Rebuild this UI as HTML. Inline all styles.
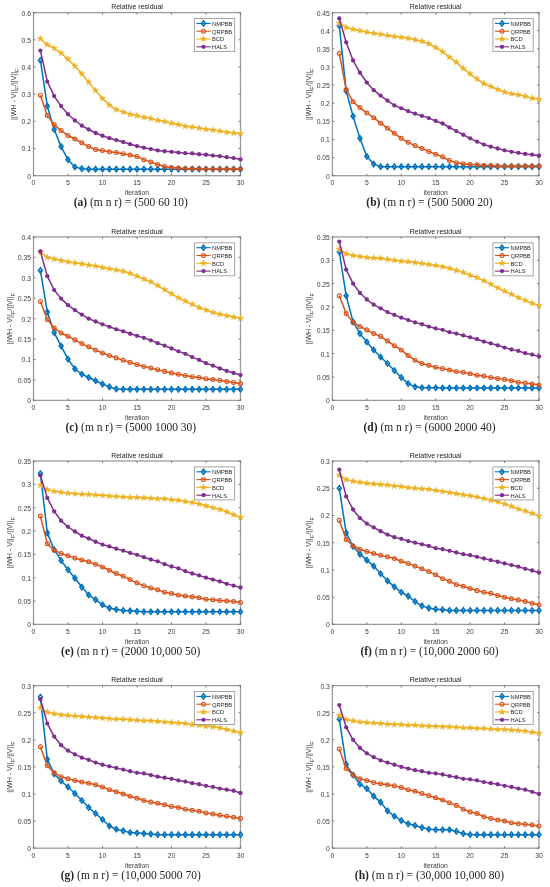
<!DOCTYPE html>
<html><head><meta charset="utf-8"><style>
html,body{margin:0;padding:0;background:#fff;}
body{width:550px;height:887px;overflow:hidden;}
svg{display:block;filter:blur(0.3px);}
.tk{font-family:"Liberation Sans",sans-serif;font-size:6.8px;fill:#3c3c3c;}
.tt{font-family:"Liberation Sans",sans-serif;font-size:7.0px;fill:#222;}
.lg{font-family:"Liberation Sans",sans-serif;font-size:5.75px;fill:#2a2a2a;}
.sub{font-size:6px;}
.yl{font-family:"Liberation Sans",sans-serif;font-size:7.1px;fill:#3a3a3a;}
.cap{font-family:"Liberation Serif",serif;font-size:11.5px;fill:#262626;}
</style></head><body>
<svg width="550" height="887" viewBox="0 0 550 887">
<rect x="33.5" y="12.6" width="207.00" height="163.10" fill="#fff" stroke="#9c9c9c" stroke-width="1.3"/>
<line x1="33.50" y1="175.7" x2="33.50" y2="173.7" stroke="#707070" stroke-width="0.9"/>
<line x1="33.50" y1="12.6" x2="33.50" y2="14.6" stroke="#707070" stroke-width="0.9"/>
<text x="33.50" y="185.40" class="tk" text-anchor="middle">0</text>
<line x1="68.00" y1="175.7" x2="68.00" y2="173.7" stroke="#707070" stroke-width="0.9"/>
<line x1="68.00" y1="12.6" x2="68.00" y2="14.6" stroke="#707070" stroke-width="0.9"/>
<text x="68.00" y="185.40" class="tk" text-anchor="middle">5</text>
<line x1="102.50" y1="175.7" x2="102.50" y2="173.7" stroke="#707070" stroke-width="0.9"/>
<line x1="102.50" y1="12.6" x2="102.50" y2="14.6" stroke="#707070" stroke-width="0.9"/>
<text x="102.50" y="185.40" class="tk" text-anchor="middle">10</text>
<line x1="137.00" y1="175.7" x2="137.00" y2="173.7" stroke="#707070" stroke-width="0.9"/>
<line x1="137.00" y1="12.6" x2="137.00" y2="14.6" stroke="#707070" stroke-width="0.9"/>
<text x="137.00" y="185.40" class="tk" text-anchor="middle">15</text>
<line x1="171.50" y1="175.7" x2="171.50" y2="173.7" stroke="#707070" stroke-width="0.9"/>
<line x1="171.50" y1="12.6" x2="171.50" y2="14.6" stroke="#707070" stroke-width="0.9"/>
<text x="171.50" y="185.40" class="tk" text-anchor="middle">20</text>
<line x1="206.00" y1="175.7" x2="206.00" y2="173.7" stroke="#707070" stroke-width="0.9"/>
<line x1="206.00" y1="12.6" x2="206.00" y2="14.6" stroke="#707070" stroke-width="0.9"/>
<text x="206.00" y="185.40" class="tk" text-anchor="middle">25</text>
<line x1="240.50" y1="175.7" x2="240.50" y2="173.7" stroke="#707070" stroke-width="0.9"/>
<line x1="240.50" y1="12.6" x2="240.50" y2="14.6" stroke="#707070" stroke-width="0.9"/>
<text x="240.50" y="185.40" class="tk" text-anchor="middle">30</text>
<line x1="33.5" y1="175.70" x2="35.5" y2="175.70" stroke="#707070" stroke-width="0.9"/>
<line x1="240.5" y1="175.70" x2="238.5" y2="175.70" stroke="#707070" stroke-width="0.9"/>
<text x="31.00" y="178.60" class="tk" text-anchor="end">0</text>
<line x1="33.5" y1="148.52" x2="35.5" y2="148.52" stroke="#707070" stroke-width="0.9"/>
<line x1="240.5" y1="148.52" x2="238.5" y2="148.52" stroke="#707070" stroke-width="0.9"/>
<text x="31.00" y="151.42" class="tk" text-anchor="end">0.1</text>
<line x1="33.5" y1="121.33" x2="35.5" y2="121.33" stroke="#707070" stroke-width="0.9"/>
<line x1="240.5" y1="121.33" x2="238.5" y2="121.33" stroke="#707070" stroke-width="0.9"/>
<text x="31.00" y="124.23" class="tk" text-anchor="end">0.2</text>
<line x1="33.5" y1="94.15" x2="35.5" y2="94.15" stroke="#707070" stroke-width="0.9"/>
<line x1="240.5" y1="94.15" x2="238.5" y2="94.15" stroke="#707070" stroke-width="0.9"/>
<text x="31.00" y="97.05" class="tk" text-anchor="end">0.3</text>
<line x1="33.5" y1="66.97" x2="35.5" y2="66.97" stroke="#707070" stroke-width="0.9"/>
<line x1="240.5" y1="66.97" x2="238.5" y2="66.97" stroke="#707070" stroke-width="0.9"/>
<text x="31.00" y="69.87" class="tk" text-anchor="end">0.4</text>
<line x1="33.5" y1="39.78" x2="35.5" y2="39.78" stroke="#707070" stroke-width="0.9"/>
<line x1="240.5" y1="39.78" x2="238.5" y2="39.78" stroke="#707070" stroke-width="0.9"/>
<text x="31.00" y="42.68" class="tk" text-anchor="end">0.5</text>
<line x1="33.5" y1="12.60" x2="35.5" y2="12.60" stroke="#707070" stroke-width="0.9"/>
<line x1="240.5" y1="12.60" x2="238.5" y2="12.60" stroke="#707070" stroke-width="0.9"/>
<text x="31.00" y="15.50" class="tk" text-anchor="end">0.6</text>
<text x="137.00" y="9.30" class="tt" text-anchor="middle">Relative residual</text>
<text x="137.00" y="195.30" class="tk" text-anchor="middle">iteration</text>
<text transform="translate(15.50,94.15) rotate(-90)" class="yl" text-anchor="middle">||WH - V||<tspan class="sub" dy="3.0">F</tspan><tspan dy="-3.0">/||V||</tspan><tspan class="sub" dy="3.0">F</tspan></text>
<polyline points="40.40,60.44 47.30,106.11 54.20,129.49 61.10,146.61 68.00,159.66 74.90,167.00 81.80,168.63 88.70,169.18 95.60,169.18 102.50,169.18 109.40,169.18 116.30,169.18 123.20,169.18 130.10,169.18 137.00,169.18 143.90,169.18 150.80,169.18 157.70,169.18 164.60,169.18 171.50,169.18 178.40,169.18 185.30,169.18 192.20,169.18 199.10,169.18 206.00,169.18 212.90,169.18 219.80,169.18 226.70,169.18 233.60,169.18 240.50,169.18" fill="none" stroke="#0072BD" stroke-width="1.5" stroke-linejoin="round"/>
<polygon points="40.40,57.84 42.40,60.44 40.40,63.04 38.40,60.44" fill="none" stroke="#0072BD" stroke-width="1.5"/>
<polygon points="47.30,103.51 49.30,106.11 47.30,108.71 45.30,106.11" fill="none" stroke="#0072BD" stroke-width="1.5"/>
<polygon points="54.20,126.89 56.20,129.49 54.20,132.09 52.20,129.49" fill="none" stroke="#0072BD" stroke-width="1.5"/>
<polygon points="61.10,144.01 63.10,146.61 61.10,149.21 59.10,146.61" fill="none" stroke="#0072BD" stroke-width="1.5"/>
<polygon points="68.00,157.06 70.00,159.66 68.00,162.26 66.00,159.66" fill="none" stroke="#0072BD" stroke-width="1.5"/>
<polygon points="74.90,164.40 76.90,167.00 74.90,169.60 72.90,167.00" fill="none" stroke="#0072BD" stroke-width="1.5"/>
<polygon points="81.80,166.03 83.80,168.63 81.80,171.23 79.80,168.63" fill="none" stroke="#0072BD" stroke-width="1.5"/>
<polygon points="88.70,166.58 90.70,169.18 88.70,171.78 86.70,169.18" fill="none" stroke="#0072BD" stroke-width="1.5"/>
<polygon points="95.60,166.58 97.60,169.18 95.60,171.78 93.60,169.18" fill="none" stroke="#0072BD" stroke-width="1.5"/>
<polygon points="102.50,166.58 104.50,169.18 102.50,171.78 100.50,169.18" fill="none" stroke="#0072BD" stroke-width="1.5"/>
<polygon points="109.40,166.58 111.40,169.18 109.40,171.78 107.40,169.18" fill="none" stroke="#0072BD" stroke-width="1.5"/>
<polygon points="116.30,166.58 118.30,169.18 116.30,171.78 114.30,169.18" fill="none" stroke="#0072BD" stroke-width="1.5"/>
<polygon points="123.20,166.58 125.20,169.18 123.20,171.78 121.20,169.18" fill="none" stroke="#0072BD" stroke-width="1.5"/>
<polygon points="130.10,166.58 132.10,169.18 130.10,171.78 128.10,169.18" fill="none" stroke="#0072BD" stroke-width="1.5"/>
<polygon points="137.00,166.58 139.00,169.18 137.00,171.78 135.00,169.18" fill="none" stroke="#0072BD" stroke-width="1.5"/>
<polygon points="143.90,166.58 145.90,169.18 143.90,171.78 141.90,169.18" fill="none" stroke="#0072BD" stroke-width="1.5"/>
<polygon points="150.80,166.58 152.80,169.18 150.80,171.78 148.80,169.18" fill="none" stroke="#0072BD" stroke-width="1.5"/>
<polygon points="157.70,166.58 159.70,169.18 157.70,171.78 155.70,169.18" fill="none" stroke="#0072BD" stroke-width="1.5"/>
<polygon points="164.60,166.58 166.60,169.18 164.60,171.78 162.60,169.18" fill="none" stroke="#0072BD" stroke-width="1.5"/>
<polygon points="171.50,166.58 173.50,169.18 171.50,171.78 169.50,169.18" fill="none" stroke="#0072BD" stroke-width="1.5"/>
<polygon points="178.40,166.58 180.40,169.18 178.40,171.78 176.40,169.18" fill="none" stroke="#0072BD" stroke-width="1.5"/>
<polygon points="185.30,166.58 187.30,169.18 185.30,171.78 183.30,169.18" fill="none" stroke="#0072BD" stroke-width="1.5"/>
<polygon points="192.20,166.58 194.20,169.18 192.20,171.78 190.20,169.18" fill="none" stroke="#0072BD" stroke-width="1.5"/>
<polygon points="199.10,166.58 201.10,169.18 199.10,171.78 197.10,169.18" fill="none" stroke="#0072BD" stroke-width="1.5"/>
<polygon points="206.00,166.58 208.00,169.18 206.00,171.78 204.00,169.18" fill="none" stroke="#0072BD" stroke-width="1.5"/>
<polygon points="212.90,166.58 214.90,169.18 212.90,171.78 210.90,169.18" fill="none" stroke="#0072BD" stroke-width="1.5"/>
<polygon points="219.80,166.58 221.80,169.18 219.80,171.78 217.80,169.18" fill="none" stroke="#0072BD" stroke-width="1.5"/>
<polygon points="226.70,166.58 228.70,169.18 226.70,171.78 224.70,169.18" fill="none" stroke="#0072BD" stroke-width="1.5"/>
<polygon points="233.60,166.58 235.60,169.18 233.60,171.78 231.60,169.18" fill="none" stroke="#0072BD" stroke-width="1.5"/>
<polygon points="240.50,166.58 242.50,169.18 240.50,171.78 238.50,169.18" fill="none" stroke="#0072BD" stroke-width="1.5"/>
<polyline points="40.40,95.24 47.30,115.62 54.20,124.60 61.10,130.58 68.00,135.47 74.90,139.00 81.80,142.81 88.70,146.61 95.60,149.60 102.50,150.42 109.40,151.78 116.30,152.59 123.20,153.68 130.10,155.04 137.00,156.40 143.90,159.66 150.80,162.11 157.70,164.55 164.60,166.46 171.50,167.54 178.40,168.09 185.30,168.63 192.20,168.63 199.10,168.63 206.00,168.90 212.90,168.90 219.80,168.90 226.70,168.90 233.60,168.90 240.50,168.90" fill="none" stroke="#D95319" stroke-width="1.5" stroke-linejoin="round"/>
<circle cx="40.40" cy="95.24" r="1.95" fill="none" stroke="#D95319" stroke-width="1.15"/>
<circle cx="47.30" cy="115.62" r="1.95" fill="none" stroke="#D95319" stroke-width="1.15"/>
<circle cx="54.20" cy="124.60" r="1.95" fill="none" stroke="#D95319" stroke-width="1.15"/>
<circle cx="61.10" cy="130.58" r="1.95" fill="none" stroke="#D95319" stroke-width="1.15"/>
<circle cx="68.00" cy="135.47" r="1.95" fill="none" stroke="#D95319" stroke-width="1.15"/>
<circle cx="74.90" cy="139.00" r="1.95" fill="none" stroke="#D95319" stroke-width="1.15"/>
<circle cx="81.80" cy="142.81" r="1.95" fill="none" stroke="#D95319" stroke-width="1.15"/>
<circle cx="88.70" cy="146.61" r="1.95" fill="none" stroke="#D95319" stroke-width="1.15"/>
<circle cx="95.60" cy="149.60" r="1.95" fill="none" stroke="#D95319" stroke-width="1.15"/>
<circle cx="102.50" cy="150.42" r="1.95" fill="none" stroke="#D95319" stroke-width="1.15"/>
<circle cx="109.40" cy="151.78" r="1.95" fill="none" stroke="#D95319" stroke-width="1.15"/>
<circle cx="116.30" cy="152.59" r="1.95" fill="none" stroke="#D95319" stroke-width="1.15"/>
<circle cx="123.20" cy="153.68" r="1.95" fill="none" stroke="#D95319" stroke-width="1.15"/>
<circle cx="130.10" cy="155.04" r="1.95" fill="none" stroke="#D95319" stroke-width="1.15"/>
<circle cx="137.00" cy="156.40" r="1.95" fill="none" stroke="#D95319" stroke-width="1.15"/>
<circle cx="143.90" cy="159.66" r="1.95" fill="none" stroke="#D95319" stroke-width="1.15"/>
<circle cx="150.80" cy="162.11" r="1.95" fill="none" stroke="#D95319" stroke-width="1.15"/>
<circle cx="157.70" cy="164.55" r="1.95" fill="none" stroke="#D95319" stroke-width="1.15"/>
<circle cx="164.60" cy="166.46" r="1.95" fill="none" stroke="#D95319" stroke-width="1.15"/>
<circle cx="171.50" cy="167.54" r="1.95" fill="none" stroke="#D95319" stroke-width="1.15"/>
<circle cx="178.40" cy="168.09" r="1.95" fill="none" stroke="#D95319" stroke-width="1.15"/>
<circle cx="185.30" cy="168.63" r="1.95" fill="none" stroke="#D95319" stroke-width="1.15"/>
<circle cx="192.20" cy="168.63" r="1.95" fill="none" stroke="#D95319" stroke-width="1.15"/>
<circle cx="199.10" cy="168.63" r="1.95" fill="none" stroke="#D95319" stroke-width="1.15"/>
<circle cx="206.00" cy="168.90" r="1.95" fill="none" stroke="#D95319" stroke-width="1.15"/>
<circle cx="212.90" cy="168.90" r="1.95" fill="none" stroke="#D95319" stroke-width="1.15"/>
<circle cx="219.80" cy="168.90" r="1.95" fill="none" stroke="#D95319" stroke-width="1.15"/>
<circle cx="226.70" cy="168.90" r="1.95" fill="none" stroke="#D95319" stroke-width="1.15"/>
<circle cx="233.60" cy="168.90" r="1.95" fill="none" stroke="#D95319" stroke-width="1.15"/>
<circle cx="240.50" cy="168.90" r="1.95" fill="none" stroke="#D95319" stroke-width="1.15"/>
<polyline points="40.40,38.70 47.30,44.68 54.20,48.21 61.10,53.10 68.00,59.08 74.90,66.15 81.80,73.76 88.70,82.19 95.60,90.62 102.50,98.50 109.40,105.02 116.30,109.64 123.20,112.09 130.10,114.27 137.00,115.62 143.90,117.26 150.80,118.61 157.70,120.25 164.60,121.61 171.50,123.24 178.40,124.60 185.30,126.23 192.20,127.04 199.10,128.13 206.00,129.22 212.90,130.03 219.80,131.12 226.70,132.21 233.60,133.02 240.50,133.84" fill="none" stroke="#EDB120" stroke-width="1.5" stroke-linejoin="round"/>
<polygon points="40.40,35.40 41.14,37.68 43.54,37.68 41.59,39.08 42.34,41.37 40.40,39.95 38.46,41.37 39.21,39.08 37.26,37.68 39.66,37.68" fill="#EDB120" stroke="#EDB120" stroke-width="0.5"/>
<polygon points="47.30,41.38 48.04,43.66 50.44,43.66 48.49,45.06 49.24,47.35 47.30,45.93 45.36,47.35 46.11,45.06 44.16,43.66 46.56,43.66" fill="#EDB120" stroke="#EDB120" stroke-width="0.5"/>
<polygon points="54.20,44.91 54.94,47.20 57.34,47.19 55.39,48.60 56.14,50.88 54.20,49.46 52.26,50.88 53.01,48.60 51.06,47.19 53.46,47.20" fill="#EDB120" stroke="#EDB120" stroke-width="0.5"/>
<polygon points="61.10,49.80 61.84,52.09 64.24,52.08 62.29,53.49 63.04,55.77 61.10,54.36 59.16,55.77 59.91,53.49 57.96,52.08 60.36,52.09" fill="#EDB120" stroke="#EDB120" stroke-width="0.5"/>
<polygon points="68.00,55.78 68.74,58.07 71.14,58.06 69.19,59.47 69.94,61.75 68.00,60.34 66.06,61.75 66.81,59.47 64.86,58.06 67.26,58.07" fill="#EDB120" stroke="#EDB120" stroke-width="0.5"/>
<polygon points="74.90,62.85 75.64,65.14 78.04,65.13 76.09,66.54 76.84,68.82 74.90,67.41 72.96,68.82 73.71,66.54 71.76,65.13 74.16,65.14" fill="#EDB120" stroke="#EDB120" stroke-width="0.5"/>
<polygon points="81.80,70.46 82.54,72.75 84.94,72.74 82.99,74.15 83.74,76.43 81.80,75.02 79.86,76.43 80.61,74.15 78.66,72.74 81.06,72.75" fill="#EDB120" stroke="#EDB120" stroke-width="0.5"/>
<polygon points="88.70,78.89 89.44,81.17 91.84,81.17 89.89,82.58 90.64,84.86 88.70,83.44 86.76,84.86 87.51,82.58 85.56,81.17 87.96,81.17" fill="#EDB120" stroke="#EDB120" stroke-width="0.5"/>
<polygon points="95.60,87.32 96.34,89.60 98.74,89.60 96.79,91.00 97.54,93.29 95.60,91.87 93.66,93.29 94.41,91.00 92.46,89.60 94.86,89.60" fill="#EDB120" stroke="#EDB120" stroke-width="0.5"/>
<polygon points="102.50,95.20 103.24,97.48 105.64,97.48 103.69,98.89 104.44,101.17 102.50,99.75 100.56,101.17 101.31,98.89 99.36,97.48 101.76,97.48" fill="#EDB120" stroke="#EDB120" stroke-width="0.5"/>
<polygon points="109.40,101.72 110.14,104.01 112.54,104.00 110.59,105.41 111.34,107.69 109.40,106.28 107.46,107.69 108.21,105.41 106.26,104.00 108.66,104.01" fill="#EDB120" stroke="#EDB120" stroke-width="0.5"/>
<polygon points="116.30,106.34 117.04,108.63 119.44,108.62 117.49,110.03 118.24,112.31 116.30,110.90 114.36,112.31 115.11,110.03 113.16,108.62 115.56,108.63" fill="#EDB120" stroke="#EDB120" stroke-width="0.5"/>
<polygon points="123.20,108.79 123.94,111.08 126.34,111.07 124.39,112.48 125.14,114.76 123.20,113.34 121.26,114.76 122.01,112.48 120.06,111.07 122.46,111.08" fill="#EDB120" stroke="#EDB120" stroke-width="0.5"/>
<polygon points="130.10,110.97 130.84,113.25 133.24,113.25 131.29,114.65 132.04,116.94 130.10,115.52 128.16,116.94 128.91,114.65 126.96,113.25 129.36,113.25" fill="#EDB120" stroke="#EDB120" stroke-width="0.5"/>
<polygon points="137.00,112.32 137.74,114.61 140.14,114.61 138.19,116.01 138.94,118.29 137.00,116.88 135.06,118.29 135.81,116.01 133.86,114.61 136.26,114.61" fill="#EDB120" stroke="#EDB120" stroke-width="0.5"/>
<polygon points="143.90,113.96 144.64,116.24 147.04,116.24 145.09,117.64 145.84,119.93 143.90,118.51 141.96,119.93 142.71,117.64 140.76,116.24 143.16,116.24" fill="#EDB120" stroke="#EDB120" stroke-width="0.5"/>
<polygon points="150.80,115.31 151.54,117.60 153.94,117.60 151.99,119.00 152.74,121.28 150.80,119.87 148.86,121.28 149.61,119.00 147.66,117.60 150.06,117.60" fill="#EDB120" stroke="#EDB120" stroke-width="0.5"/>
<polygon points="157.70,116.95 158.44,119.23 160.84,119.23 158.89,120.63 159.64,122.92 157.70,121.50 155.76,122.92 156.51,120.63 154.56,119.23 156.96,119.23" fill="#EDB120" stroke="#EDB120" stroke-width="0.5"/>
<polygon points="164.60,118.31 165.34,120.59 167.74,120.59 165.79,121.99 166.54,124.27 164.60,122.86 162.66,124.27 163.41,121.99 161.46,120.59 163.86,120.59" fill="#EDB120" stroke="#EDB120" stroke-width="0.5"/>
<polygon points="171.50,119.94 172.24,122.22 174.64,122.22 172.69,123.62 173.44,125.91 171.50,124.49 169.56,125.91 170.31,123.62 168.36,122.22 170.76,122.22" fill="#EDB120" stroke="#EDB120" stroke-width="0.5"/>
<polygon points="178.40,121.30 179.14,123.58 181.54,123.58 179.59,124.98 180.34,127.27 178.40,125.85 176.46,127.27 177.21,124.98 175.26,123.58 177.66,123.58" fill="#EDB120" stroke="#EDB120" stroke-width="0.5"/>
<polygon points="185.30,122.93 186.04,125.21 188.44,125.21 186.49,126.61 187.24,128.90 185.30,127.48 183.36,128.90 184.11,126.61 182.16,125.21 184.56,125.21" fill="#EDB120" stroke="#EDB120" stroke-width="0.5"/>
<polygon points="192.20,123.74 192.94,126.03 195.34,126.02 193.39,127.43 194.14,129.71 192.20,128.30 190.26,129.71 191.01,127.43 189.06,126.02 191.46,126.03" fill="#EDB120" stroke="#EDB120" stroke-width="0.5"/>
<polygon points="199.10,124.83 199.84,127.11 202.24,127.11 200.29,128.52 201.04,130.80 199.10,129.38 197.16,130.80 197.91,128.52 195.96,127.11 198.36,127.11" fill="#EDB120" stroke="#EDB120" stroke-width="0.5"/>
<polygon points="206.00,125.92 206.74,128.20 209.14,128.20 207.19,129.60 207.94,131.89 206.00,130.47 204.06,131.89 204.81,129.60 202.86,128.20 205.26,128.20" fill="#EDB120" stroke="#EDB120" stroke-width="0.5"/>
<polygon points="212.90,126.73 213.64,129.02 216.04,129.01 214.09,130.42 214.84,132.70 212.90,131.29 210.96,132.70 211.71,130.42 209.76,129.01 212.16,129.02" fill="#EDB120" stroke="#EDB120" stroke-width="0.5"/>
<polygon points="219.80,127.82 220.54,130.10 222.94,130.10 220.99,131.51 221.74,133.79 219.80,132.37 217.86,133.79 218.61,131.51 216.66,130.10 219.06,130.10" fill="#EDB120" stroke="#EDB120" stroke-width="0.5"/>
<polygon points="226.70,128.91 227.44,131.19 229.84,131.19 227.89,132.59 228.64,134.88 226.70,133.46 224.76,134.88 225.51,132.59 223.56,131.19 225.96,131.19" fill="#EDB120" stroke="#EDB120" stroke-width="0.5"/>
<polygon points="233.60,129.72 234.34,132.01 236.74,132.00 234.79,133.41 235.54,135.69 233.60,134.28 231.66,135.69 232.41,133.41 230.46,132.00 232.86,132.01" fill="#EDB120" stroke="#EDB120" stroke-width="0.5"/>
<polygon points="240.50,130.54 241.24,132.82 243.64,132.82 241.69,134.23 242.44,136.51 240.50,135.09 238.56,136.51 239.31,134.23 237.36,132.82 239.76,132.82" fill="#EDB120" stroke="#EDB120" stroke-width="0.5"/>
<polyline points="40.40,50.66 47.30,81.65 54.20,96.05 61.10,106.11 68.00,114.27 74.90,120.52 81.80,125.68 88.70,129.49 95.60,133.02 102.50,135.74 109.40,138.19 116.30,140.09 123.20,141.99 130.10,144.17 137.00,146.07 143.90,147.70 150.80,149.06 157.70,150.42 164.60,151.23 171.50,151.78 178.40,152.59 185.30,153.14 192.20,153.41 199.10,154.23 206.00,154.77 212.90,155.58 219.80,156.13 226.70,157.22 233.60,158.03 240.50,159.39" fill="none" stroke="#7E2F8E" stroke-width="1.5" stroke-linejoin="round"/>
<circle cx="40.40" cy="50.66" r="2.15" fill="#7E2F8E"/>
<circle cx="47.30" cy="81.65" r="2.15" fill="#7E2F8E"/>
<circle cx="54.20" cy="96.05" r="2.15" fill="#7E2F8E"/>
<circle cx="61.10" cy="106.11" r="2.15" fill="#7E2F8E"/>
<circle cx="68.00" cy="114.27" r="2.15" fill="#7E2F8E"/>
<circle cx="74.90" cy="120.52" r="2.15" fill="#7E2F8E"/>
<circle cx="81.80" cy="125.68" r="2.15" fill="#7E2F8E"/>
<circle cx="88.70" cy="129.49" r="2.15" fill="#7E2F8E"/>
<circle cx="95.60" cy="133.02" r="2.15" fill="#7E2F8E"/>
<circle cx="102.50" cy="135.74" r="2.15" fill="#7E2F8E"/>
<circle cx="109.40" cy="138.19" r="2.15" fill="#7E2F8E"/>
<circle cx="116.30" cy="140.09" r="2.15" fill="#7E2F8E"/>
<circle cx="123.20" cy="141.99" r="2.15" fill="#7E2F8E"/>
<circle cx="130.10" cy="144.17" r="2.15" fill="#7E2F8E"/>
<circle cx="137.00" cy="146.07" r="2.15" fill="#7E2F8E"/>
<circle cx="143.90" cy="147.70" r="2.15" fill="#7E2F8E"/>
<circle cx="150.80" cy="149.06" r="2.15" fill="#7E2F8E"/>
<circle cx="157.70" cy="150.42" r="2.15" fill="#7E2F8E"/>
<circle cx="164.60" cy="151.23" r="2.15" fill="#7E2F8E"/>
<circle cx="171.50" cy="151.78" r="2.15" fill="#7E2F8E"/>
<circle cx="178.40" cy="152.59" r="2.15" fill="#7E2F8E"/>
<circle cx="185.30" cy="153.14" r="2.15" fill="#7E2F8E"/>
<circle cx="192.20" cy="153.41" r="2.15" fill="#7E2F8E"/>
<circle cx="199.10" cy="154.23" r="2.15" fill="#7E2F8E"/>
<circle cx="206.00" cy="154.77" r="2.15" fill="#7E2F8E"/>
<circle cx="212.90" cy="155.58" r="2.15" fill="#7E2F8E"/>
<circle cx="219.80" cy="156.13" r="2.15" fill="#7E2F8E"/>
<circle cx="226.70" cy="157.22" r="2.15" fill="#7E2F8E"/>
<circle cx="233.60" cy="158.03" r="2.15" fill="#7E2F8E"/>
<circle cx="240.50" cy="159.39" r="2.15" fill="#7E2F8E"/>
<rect x="194.40" y="18.50" width="40.3" height="33.0" fill="#fff" stroke="#9c9c9c" stroke-width="0.9"/>
<line x1="196.40" y1="23.40" x2="210.70" y2="23.40" stroke="#0072BD" stroke-width="1.1"/>
<polygon points="203.50,20.80 205.50,23.40 203.50,26.00 201.50,23.40" fill="none" stroke="#0072BD" stroke-width="1.5"/>
<text x="212.00" y="25.70" class="lg">NMPBB</text>
<line x1="196.40" y1="31.20" x2="210.70" y2="31.20" stroke="#D95319" stroke-width="1.1"/>
<circle cx="203.50" cy="31.20" r="1.95" fill="none" stroke="#D95319" stroke-width="1.15"/>
<text x="212.00" y="33.50" class="lg">QRPBB</text>
<line x1="196.40" y1="39.00" x2="210.70" y2="39.00" stroke="#EDB120" stroke-width="1.1"/>
<polygon points="203.50,35.70 204.24,37.99 206.64,37.98 204.69,39.39 205.44,41.67 203.50,40.25 201.56,41.67 202.31,39.39 200.36,37.98 202.76,37.99" fill="#EDB120" stroke="#EDB120" stroke-width="0.5"/>
<text x="212.00" y="41.30" class="lg">BCD</text>
<line x1="196.40" y1="46.80" x2="210.70" y2="46.80" stroke="#7E2F8E" stroke-width="1.1"/>
<circle cx="203.50" cy="46.80" r="2.15" fill="#7E2F8E"/>
<text x="212.00" y="49.10" class="lg">HALS</text>
<text x="130.80" y="206.30" class="cap" text-anchor="middle"><tspan font-weight="bold">(a)</tspan> (m n r) = (500 60 10)</text>
<rect x="332.4" y="12.6" width="206.60" height="163.10" fill="#fff" stroke="#9c9c9c" stroke-width="1.3"/>
<line x1="332.40" y1="175.7" x2="332.40" y2="173.7" stroke="#707070" stroke-width="0.9"/>
<line x1="332.40" y1="12.6" x2="332.40" y2="14.6" stroke="#707070" stroke-width="0.9"/>
<text x="332.40" y="185.40" class="tk" text-anchor="middle">0</text>
<line x1="366.83" y1="175.7" x2="366.83" y2="173.7" stroke="#707070" stroke-width="0.9"/>
<line x1="366.83" y1="12.6" x2="366.83" y2="14.6" stroke="#707070" stroke-width="0.9"/>
<text x="366.83" y="185.40" class="tk" text-anchor="middle">5</text>
<line x1="401.27" y1="175.7" x2="401.27" y2="173.7" stroke="#707070" stroke-width="0.9"/>
<line x1="401.27" y1="12.6" x2="401.27" y2="14.6" stroke="#707070" stroke-width="0.9"/>
<text x="401.27" y="185.40" class="tk" text-anchor="middle">10</text>
<line x1="435.70" y1="175.7" x2="435.70" y2="173.7" stroke="#707070" stroke-width="0.9"/>
<line x1="435.70" y1="12.6" x2="435.70" y2="14.6" stroke="#707070" stroke-width="0.9"/>
<text x="435.70" y="185.40" class="tk" text-anchor="middle">15</text>
<line x1="470.13" y1="175.7" x2="470.13" y2="173.7" stroke="#707070" stroke-width="0.9"/>
<line x1="470.13" y1="12.6" x2="470.13" y2="14.6" stroke="#707070" stroke-width="0.9"/>
<text x="470.13" y="185.40" class="tk" text-anchor="middle">20</text>
<line x1="504.57" y1="175.7" x2="504.57" y2="173.7" stroke="#707070" stroke-width="0.9"/>
<line x1="504.57" y1="12.6" x2="504.57" y2="14.6" stroke="#707070" stroke-width="0.9"/>
<text x="504.57" y="185.40" class="tk" text-anchor="middle">25</text>
<line x1="539.00" y1="175.7" x2="539.00" y2="173.7" stroke="#707070" stroke-width="0.9"/>
<line x1="539.00" y1="12.6" x2="539.00" y2="14.6" stroke="#707070" stroke-width="0.9"/>
<text x="539.00" y="185.40" class="tk" text-anchor="middle">30</text>
<line x1="332.4" y1="175.70" x2="334.4" y2="175.70" stroke="#707070" stroke-width="0.9"/>
<line x1="539.0" y1="175.70" x2="537.0" y2="175.70" stroke="#707070" stroke-width="0.9"/>
<text x="329.90" y="178.60" class="tk" text-anchor="end">0</text>
<line x1="332.4" y1="157.58" x2="334.4" y2="157.58" stroke="#707070" stroke-width="0.9"/>
<line x1="539.0" y1="157.58" x2="537.0" y2="157.58" stroke="#707070" stroke-width="0.9"/>
<text x="329.90" y="160.48" class="tk" text-anchor="end">0.05</text>
<line x1="332.4" y1="139.46" x2="334.4" y2="139.46" stroke="#707070" stroke-width="0.9"/>
<line x1="539.0" y1="139.46" x2="537.0" y2="139.46" stroke="#707070" stroke-width="0.9"/>
<text x="329.90" y="142.36" class="tk" text-anchor="end">0.1</text>
<line x1="332.4" y1="121.33" x2="334.4" y2="121.33" stroke="#707070" stroke-width="0.9"/>
<line x1="539.0" y1="121.33" x2="537.0" y2="121.33" stroke="#707070" stroke-width="0.9"/>
<text x="329.90" y="124.23" class="tk" text-anchor="end">0.15</text>
<line x1="332.4" y1="103.21" x2="334.4" y2="103.21" stroke="#707070" stroke-width="0.9"/>
<line x1="539.0" y1="103.21" x2="537.0" y2="103.21" stroke="#707070" stroke-width="0.9"/>
<text x="329.90" y="106.11" class="tk" text-anchor="end">0.2</text>
<line x1="332.4" y1="85.09" x2="334.4" y2="85.09" stroke="#707070" stroke-width="0.9"/>
<line x1="539.0" y1="85.09" x2="537.0" y2="85.09" stroke="#707070" stroke-width="0.9"/>
<text x="329.90" y="87.99" class="tk" text-anchor="end">0.25</text>
<line x1="332.4" y1="66.97" x2="334.4" y2="66.97" stroke="#707070" stroke-width="0.9"/>
<line x1="539.0" y1="66.97" x2="537.0" y2="66.97" stroke="#707070" stroke-width="0.9"/>
<text x="329.90" y="69.87" class="tk" text-anchor="end">0.3</text>
<line x1="332.4" y1="48.84" x2="334.4" y2="48.84" stroke="#707070" stroke-width="0.9"/>
<line x1="539.0" y1="48.84" x2="537.0" y2="48.84" stroke="#707070" stroke-width="0.9"/>
<text x="329.90" y="51.74" class="tk" text-anchor="end">0.35</text>
<line x1="332.4" y1="30.72" x2="334.4" y2="30.72" stroke="#707070" stroke-width="0.9"/>
<line x1="539.0" y1="30.72" x2="537.0" y2="30.72" stroke="#707070" stroke-width="0.9"/>
<text x="329.90" y="33.62" class="tk" text-anchor="end">0.4</text>
<line x1="332.4" y1="12.60" x2="334.4" y2="12.60" stroke="#707070" stroke-width="0.9"/>
<line x1="539.0" y1="12.60" x2="537.0" y2="12.60" stroke="#707070" stroke-width="0.9"/>
<text x="329.90" y="15.50" class="tk" text-anchor="end">0.45</text>
<text x="435.70" y="9.30" class="tt" text-anchor="middle">Relative residual</text>
<text x="435.70" y="195.30" class="tk" text-anchor="middle">iteration</text>
<text transform="translate(311.10,94.15) rotate(-90)" class="yl" text-anchor="middle">||WH - V||<tspan class="sub" dy="3.0">F</tspan><tspan dy="-3.0">/||V||</tspan><tspan class="sub" dy="3.0">F</tspan></text>
<polyline points="339.29,25.65 346.17,90.89 353.06,116.26 359.95,138.37 366.83,156.49 373.72,164.10 380.61,166.64 387.49,166.64 394.38,166.64 401.27,166.64 408.15,166.64 415.04,166.64 421.93,166.64 428.81,166.64 435.70,166.64 442.59,166.64 449.47,166.64 456.36,166.64 463.25,166.64 470.13,166.64 477.02,166.64 483.91,166.64 490.79,166.64 497.68,166.64 504.57,166.64 511.45,166.64 518.34,166.64 525.23,166.64 532.11,166.64 539.00,166.64" fill="none" stroke="#0072BD" stroke-width="1.5" stroke-linejoin="round"/>
<polygon points="339.29,23.05 341.29,25.65 339.29,28.25 337.29,25.65" fill="none" stroke="#0072BD" stroke-width="1.5"/>
<polygon points="346.17,88.29 348.17,90.89 346.17,93.49 344.17,90.89" fill="none" stroke="#0072BD" stroke-width="1.5"/>
<polygon points="353.06,113.66 355.06,116.26 353.06,118.86 351.06,116.26" fill="none" stroke="#0072BD" stroke-width="1.5"/>
<polygon points="359.95,135.77 361.95,138.37 359.95,140.97 357.95,138.37" fill="none" stroke="#0072BD" stroke-width="1.5"/>
<polygon points="366.83,153.89 368.83,156.49 366.83,159.09 364.83,156.49" fill="none" stroke="#0072BD" stroke-width="1.5"/>
<polygon points="373.72,161.50 375.72,164.10 373.72,166.70 371.72,164.10" fill="none" stroke="#0072BD" stroke-width="1.5"/>
<polygon points="380.61,164.04 382.61,166.64 380.61,169.24 378.61,166.64" fill="none" stroke="#0072BD" stroke-width="1.5"/>
<polygon points="387.49,164.04 389.49,166.64 387.49,169.24 385.49,166.64" fill="none" stroke="#0072BD" stroke-width="1.5"/>
<polygon points="394.38,164.04 396.38,166.64 394.38,169.24 392.38,166.64" fill="none" stroke="#0072BD" stroke-width="1.5"/>
<polygon points="401.27,164.04 403.27,166.64 401.27,169.24 399.27,166.64" fill="none" stroke="#0072BD" stroke-width="1.5"/>
<polygon points="408.15,164.04 410.15,166.64 408.15,169.24 406.15,166.64" fill="none" stroke="#0072BD" stroke-width="1.5"/>
<polygon points="415.04,164.04 417.04,166.64 415.04,169.24 413.04,166.64" fill="none" stroke="#0072BD" stroke-width="1.5"/>
<polygon points="421.93,164.04 423.93,166.64 421.93,169.24 419.93,166.64" fill="none" stroke="#0072BD" stroke-width="1.5"/>
<polygon points="428.81,164.04 430.81,166.64 428.81,169.24 426.81,166.64" fill="none" stroke="#0072BD" stroke-width="1.5"/>
<polygon points="435.70,164.04 437.70,166.64 435.70,169.24 433.70,166.64" fill="none" stroke="#0072BD" stroke-width="1.5"/>
<polygon points="442.59,164.04 444.59,166.64 442.59,169.24 440.59,166.64" fill="none" stroke="#0072BD" stroke-width="1.5"/>
<polygon points="449.47,164.04 451.47,166.64 449.47,169.24 447.47,166.64" fill="none" stroke="#0072BD" stroke-width="1.5"/>
<polygon points="456.36,164.04 458.36,166.64 456.36,169.24 454.36,166.64" fill="none" stroke="#0072BD" stroke-width="1.5"/>
<polygon points="463.25,164.04 465.25,166.64 463.25,169.24 461.25,166.64" fill="none" stroke="#0072BD" stroke-width="1.5"/>
<polygon points="470.13,164.04 472.13,166.64 470.13,169.24 468.13,166.64" fill="none" stroke="#0072BD" stroke-width="1.5"/>
<polygon points="477.02,164.04 479.02,166.64 477.02,169.24 475.02,166.64" fill="none" stroke="#0072BD" stroke-width="1.5"/>
<polygon points="483.91,164.04 485.91,166.64 483.91,169.24 481.91,166.64" fill="none" stroke="#0072BD" stroke-width="1.5"/>
<polygon points="490.79,164.04 492.79,166.64 490.79,169.24 488.79,166.64" fill="none" stroke="#0072BD" stroke-width="1.5"/>
<polygon points="497.68,164.04 499.68,166.64 497.68,169.24 495.68,166.64" fill="none" stroke="#0072BD" stroke-width="1.5"/>
<polygon points="504.57,164.04 506.57,166.64 504.57,169.24 502.57,166.64" fill="none" stroke="#0072BD" stroke-width="1.5"/>
<polygon points="511.45,164.04 513.45,166.64 511.45,169.24 509.45,166.64" fill="none" stroke="#0072BD" stroke-width="1.5"/>
<polygon points="518.34,164.04 520.34,166.64 518.34,169.24 516.34,166.64" fill="none" stroke="#0072BD" stroke-width="1.5"/>
<polygon points="525.23,164.04 527.23,166.64 525.23,169.24 523.23,166.64" fill="none" stroke="#0072BD" stroke-width="1.5"/>
<polygon points="532.11,164.04 534.11,166.64 532.11,169.24 530.11,166.64" fill="none" stroke="#0072BD" stroke-width="1.5"/>
<polygon points="539.00,164.04 541.00,166.64 539.00,169.24 537.00,166.64" fill="none" stroke="#0072BD" stroke-width="1.5"/>
<polyline points="339.29,53.56 346.17,89.44 353.06,101.76 359.95,107.56 366.83,113.00 373.72,117.71 380.61,123.15 387.49,128.22 394.38,133.29 401.27,138.37 408.15,142.36 415.04,145.62 421.93,148.52 428.81,151.42 435.70,154.32 442.59,156.85 449.47,160.48 456.36,162.65 463.25,163.74 470.13,164.46 477.02,164.83 483.91,165.55 490.79,165.55 497.68,165.91 504.57,165.91 511.45,165.91 518.34,165.91 525.23,165.91 532.11,165.91 539.00,165.91" fill="none" stroke="#D95319" stroke-width="1.5" stroke-linejoin="round"/>
<circle cx="339.29" cy="53.56" r="1.95" fill="none" stroke="#D95319" stroke-width="1.15"/>
<circle cx="346.17" cy="89.44" r="1.95" fill="none" stroke="#D95319" stroke-width="1.15"/>
<circle cx="353.06" cy="101.76" r="1.95" fill="none" stroke="#D95319" stroke-width="1.15"/>
<circle cx="359.95" cy="107.56" r="1.95" fill="none" stroke="#D95319" stroke-width="1.15"/>
<circle cx="366.83" cy="113.00" r="1.95" fill="none" stroke="#D95319" stroke-width="1.15"/>
<circle cx="373.72" cy="117.71" r="1.95" fill="none" stroke="#D95319" stroke-width="1.15"/>
<circle cx="380.61" cy="123.15" r="1.95" fill="none" stroke="#D95319" stroke-width="1.15"/>
<circle cx="387.49" cy="128.22" r="1.95" fill="none" stroke="#D95319" stroke-width="1.15"/>
<circle cx="394.38" cy="133.29" r="1.95" fill="none" stroke="#D95319" stroke-width="1.15"/>
<circle cx="401.27" cy="138.37" r="1.95" fill="none" stroke="#D95319" stroke-width="1.15"/>
<circle cx="408.15" cy="142.36" r="1.95" fill="none" stroke="#D95319" stroke-width="1.15"/>
<circle cx="415.04" cy="145.62" r="1.95" fill="none" stroke="#D95319" stroke-width="1.15"/>
<circle cx="421.93" cy="148.52" r="1.95" fill="none" stroke="#D95319" stroke-width="1.15"/>
<circle cx="428.81" cy="151.42" r="1.95" fill="none" stroke="#D95319" stroke-width="1.15"/>
<circle cx="435.70" cy="154.32" r="1.95" fill="none" stroke="#D95319" stroke-width="1.15"/>
<circle cx="442.59" cy="156.85" r="1.95" fill="none" stroke="#D95319" stroke-width="1.15"/>
<circle cx="449.47" cy="160.48" r="1.95" fill="none" stroke="#D95319" stroke-width="1.15"/>
<circle cx="456.36" cy="162.65" r="1.95" fill="none" stroke="#D95319" stroke-width="1.15"/>
<circle cx="463.25" cy="163.74" r="1.95" fill="none" stroke="#D95319" stroke-width="1.15"/>
<circle cx="470.13" cy="164.46" r="1.95" fill="none" stroke="#D95319" stroke-width="1.15"/>
<circle cx="477.02" cy="164.83" r="1.95" fill="none" stroke="#D95319" stroke-width="1.15"/>
<circle cx="483.91" cy="165.55" r="1.95" fill="none" stroke="#D95319" stroke-width="1.15"/>
<circle cx="490.79" cy="165.55" r="1.95" fill="none" stroke="#D95319" stroke-width="1.15"/>
<circle cx="497.68" cy="165.91" r="1.95" fill="none" stroke="#D95319" stroke-width="1.15"/>
<circle cx="504.57" cy="165.91" r="1.95" fill="none" stroke="#D95319" stroke-width="1.15"/>
<circle cx="511.45" cy="165.91" r="1.95" fill="none" stroke="#D95319" stroke-width="1.15"/>
<circle cx="518.34" cy="165.91" r="1.95" fill="none" stroke="#D95319" stroke-width="1.15"/>
<circle cx="525.23" cy="165.91" r="1.95" fill="none" stroke="#D95319" stroke-width="1.15"/>
<circle cx="532.11" cy="165.91" r="1.95" fill="none" stroke="#D95319" stroke-width="1.15"/>
<circle cx="539.00" cy="165.91" r="1.95" fill="none" stroke="#D95319" stroke-width="1.15"/>
<polyline points="339.29,23.11 346.17,27.46 353.06,29.27 359.95,30.72 366.83,32.17 373.72,33.26 380.61,34.35 387.49,35.43 394.38,36.52 401.27,37.25 408.15,38.33 415.04,39.78 421.93,41.23 428.81,43.77 435.70,47.39 442.59,51.74 449.47,57.18 456.36,62.25 463.25,68.42 470.13,73.85 477.02,78.93 483.91,83.64 490.79,86.54 497.68,89.44 504.57,91.98 511.45,93.79 518.34,94.87 525.23,96.32 532.11,98.14 539.00,99.22" fill="none" stroke="#EDB120" stroke-width="1.5" stroke-linejoin="round"/>
<polygon points="339.29,19.81 340.02,22.10 342.43,22.09 340.48,23.50 341.23,25.78 339.29,24.36 337.35,25.78 338.09,23.50 336.15,22.09 338.55,22.10" fill="#EDB120" stroke="#EDB120" stroke-width="0.5"/>
<polygon points="346.17,24.16 346.91,26.45 349.31,26.44 347.37,27.85 348.11,30.13 346.17,28.71 344.23,30.13 344.98,27.85 343.03,26.44 345.44,26.45" fill="#EDB120" stroke="#EDB120" stroke-width="0.5"/>
<polygon points="353.06,25.97 353.80,28.26 356.20,28.25 354.25,29.66 355.00,31.94 353.06,30.53 351.12,31.94 351.87,29.66 349.92,28.25 352.32,28.26" fill="#EDB120" stroke="#EDB120" stroke-width="0.5"/>
<polygon points="359.95,27.42 360.68,29.71 363.09,29.70 361.14,31.11 361.89,33.39 359.95,31.98 358.01,33.39 358.75,31.11 356.81,29.70 359.21,29.71" fill="#EDB120" stroke="#EDB120" stroke-width="0.5"/>
<polygon points="366.83,28.87 367.57,31.16 369.97,31.15 368.03,32.56 368.77,34.84 366.83,33.43 364.89,34.84 365.64,32.56 363.69,31.15 366.10,31.16" fill="#EDB120" stroke="#EDB120" stroke-width="0.5"/>
<polygon points="373.72,29.96 374.46,32.24 376.86,32.24 374.91,33.65 375.66,35.93 373.72,34.51 371.78,35.93 372.53,33.65 370.58,32.24 372.98,32.24" fill="#EDB120" stroke="#EDB120" stroke-width="0.5"/>
<polygon points="380.61,31.05 381.34,33.33 383.75,33.33 381.80,34.73 382.55,37.02 380.61,35.60 378.67,37.02 379.41,34.73 377.47,33.33 379.87,33.33" fill="#EDB120" stroke="#EDB120" stroke-width="0.5"/>
<polygon points="387.49,32.13 388.23,34.42 390.63,34.41 388.69,35.82 389.43,38.10 387.49,36.69 385.55,38.10 386.30,35.82 384.35,34.41 386.76,34.42" fill="#EDB120" stroke="#EDB120" stroke-width="0.5"/>
<polygon points="394.38,33.22 395.12,35.51 397.52,35.50 395.57,36.91 396.32,39.19 394.38,37.78 392.44,39.19 393.19,36.91 391.24,35.50 393.64,35.51" fill="#EDB120" stroke="#EDB120" stroke-width="0.5"/>
<polygon points="401.27,33.95 402.00,36.23 404.41,36.23 402.46,37.63 403.21,39.92 401.27,38.50 399.33,39.92 400.07,37.63 398.13,36.23 400.53,36.23" fill="#EDB120" stroke="#EDB120" stroke-width="0.5"/>
<polygon points="408.15,35.03 408.89,37.32 411.29,37.31 409.35,38.72 410.09,41.00 408.15,39.59 406.21,41.00 406.96,38.72 405.01,37.31 407.42,37.32" fill="#EDB120" stroke="#EDB120" stroke-width="0.5"/>
<polygon points="415.04,36.48 415.78,38.77 418.18,38.76 416.23,40.17 416.98,42.45 415.04,41.04 413.10,42.45 413.85,40.17 411.90,38.76 414.30,38.77" fill="#EDB120" stroke="#EDB120" stroke-width="0.5"/>
<polygon points="421.93,37.93 422.66,40.22 425.07,40.21 423.12,41.62 423.87,43.90 421.93,42.49 419.99,43.90 420.73,41.62 418.79,40.21 421.19,40.22" fill="#EDB120" stroke="#EDB120" stroke-width="0.5"/>
<polygon points="428.81,40.47 429.55,42.76 431.95,42.75 430.01,44.16 430.75,46.44 428.81,45.02 426.87,46.44 427.62,44.16 425.67,42.75 428.08,42.76" fill="#EDB120" stroke="#EDB120" stroke-width="0.5"/>
<polygon points="435.70,44.09 436.44,46.38 438.84,46.37 436.89,47.78 437.64,50.06 435.70,48.65 433.76,50.06 434.51,47.78 432.56,46.37 434.96,46.38" fill="#EDB120" stroke="#EDB120" stroke-width="0.5"/>
<polygon points="442.59,48.44 443.32,50.73 445.73,50.72 443.78,52.13 444.53,54.41 442.59,53.00 440.65,54.41 441.39,52.13 439.45,50.72 441.85,50.73" fill="#EDB120" stroke="#EDB120" stroke-width="0.5"/>
<polygon points="449.47,53.88 450.21,56.17 452.61,56.16 450.67,57.57 451.41,59.85 449.47,58.43 447.53,59.85 448.28,57.57 446.33,56.16 448.74,56.17" fill="#EDB120" stroke="#EDB120" stroke-width="0.5"/>
<polygon points="456.36,58.95 457.10,61.24 459.50,61.24 457.55,62.64 458.30,64.92 456.36,63.51 454.42,64.92 455.17,62.64 453.22,61.24 455.62,61.24" fill="#EDB120" stroke="#EDB120" stroke-width="0.5"/>
<polygon points="463.25,65.12 463.98,67.40 466.39,67.40 464.44,68.80 465.19,71.09 463.25,69.67 461.31,71.09 462.05,68.80 460.11,67.40 462.51,67.40" fill="#EDB120" stroke="#EDB120" stroke-width="0.5"/>
<polygon points="470.13,70.55 470.87,72.84 473.27,72.83 471.33,74.24 472.07,76.52 470.13,75.11 468.19,76.52 468.94,74.24 466.99,72.83 469.40,72.84" fill="#EDB120" stroke="#EDB120" stroke-width="0.5"/>
<polygon points="477.02,75.63 477.76,77.91 480.16,77.91 478.21,79.31 478.96,81.60 477.02,80.18 475.08,81.60 475.83,79.31 473.88,77.91 476.28,77.91" fill="#EDB120" stroke="#EDB120" stroke-width="0.5"/>
<polygon points="483.91,80.34 484.64,82.62 487.05,82.62 485.10,84.03 485.85,86.31 483.91,84.89 481.97,86.31 482.71,84.03 480.77,82.62 483.17,82.62" fill="#EDB120" stroke="#EDB120" stroke-width="0.5"/>
<polygon points="490.79,83.24 491.53,85.52 493.93,85.52 491.99,86.93 492.73,89.21 490.79,87.79 488.85,89.21 489.60,86.93 487.65,85.52 490.06,85.52" fill="#EDB120" stroke="#EDB120" stroke-width="0.5"/>
<polygon points="497.68,86.14 498.42,88.42 500.82,88.42 498.87,89.83 499.62,92.11 497.68,90.69 495.74,92.11 496.49,89.83 494.54,88.42 496.94,88.42" fill="#EDB120" stroke="#EDB120" stroke-width="0.5"/>
<polygon points="504.57,88.68 505.30,90.96 507.71,90.96 505.76,92.36 506.51,94.65 504.57,93.23 502.63,94.65 503.37,92.36 501.43,90.96 503.83,90.96" fill="#EDB120" stroke="#EDB120" stroke-width="0.5"/>
<polygon points="511.45,90.49 512.19,92.77 514.59,92.77 512.65,94.18 513.39,96.46 511.45,95.04 509.51,96.46 510.26,94.18 508.31,92.77 510.72,92.77" fill="#EDB120" stroke="#EDB120" stroke-width="0.5"/>
<polygon points="518.34,91.57 519.08,93.86 521.48,93.86 519.53,95.26 520.28,97.54 518.34,96.13 516.40,97.54 517.15,95.26 515.20,93.86 517.60,93.86" fill="#EDB120" stroke="#EDB120" stroke-width="0.5"/>
<polygon points="525.23,93.02 525.96,95.31 528.37,95.30 526.42,96.71 527.17,98.99 525.23,97.58 523.29,98.99 524.03,96.71 522.09,95.30 524.49,95.31" fill="#EDB120" stroke="#EDB120" stroke-width="0.5"/>
<polygon points="532.11,94.84 532.85,97.12 535.25,97.12 533.31,98.52 534.05,100.81 532.11,99.39 530.17,100.81 530.92,98.52 528.97,97.12 531.38,97.12" fill="#EDB120" stroke="#EDB120" stroke-width="0.5"/>
<polygon points="539.00,95.92 539.74,98.21 542.14,98.20 540.19,99.61 540.94,101.89 539.00,100.48 537.06,101.89 537.81,99.61 535.86,98.20 538.26,98.21" fill="#EDB120" stroke="#EDB120" stroke-width="0.5"/>
<polyline points="339.29,18.40 346.17,42.32 353.06,60.44 359.95,72.77 366.83,82.55 373.72,90.16 380.61,95.60 387.49,100.67 394.38,105.39 401.27,108.29 408.15,111.18 415.04,113.72 421.93,115.90 428.81,118.07 435.70,120.97 442.59,123.51 449.47,127.49 456.36,131.12 463.25,134.74 470.13,138.37 477.02,141.63 483.91,144.53 490.79,146.70 497.68,148.52 504.57,150.33 511.45,151.78 518.34,152.87 525.23,153.95 532.11,154.68 539.00,155.77" fill="none" stroke="#7E2F8E" stroke-width="1.5" stroke-linejoin="round"/>
<circle cx="339.29" cy="18.40" r="2.15" fill="#7E2F8E"/>
<circle cx="346.17" cy="42.32" r="2.15" fill="#7E2F8E"/>
<circle cx="353.06" cy="60.44" r="2.15" fill="#7E2F8E"/>
<circle cx="359.95" cy="72.77" r="2.15" fill="#7E2F8E"/>
<circle cx="366.83" cy="82.55" r="2.15" fill="#7E2F8E"/>
<circle cx="373.72" cy="90.16" r="2.15" fill="#7E2F8E"/>
<circle cx="380.61" cy="95.60" r="2.15" fill="#7E2F8E"/>
<circle cx="387.49" cy="100.67" r="2.15" fill="#7E2F8E"/>
<circle cx="394.38" cy="105.39" r="2.15" fill="#7E2F8E"/>
<circle cx="401.27" cy="108.29" r="2.15" fill="#7E2F8E"/>
<circle cx="408.15" cy="111.18" r="2.15" fill="#7E2F8E"/>
<circle cx="415.04" cy="113.72" r="2.15" fill="#7E2F8E"/>
<circle cx="421.93" cy="115.90" r="2.15" fill="#7E2F8E"/>
<circle cx="428.81" cy="118.07" r="2.15" fill="#7E2F8E"/>
<circle cx="435.70" cy="120.97" r="2.15" fill="#7E2F8E"/>
<circle cx="442.59" cy="123.51" r="2.15" fill="#7E2F8E"/>
<circle cx="449.47" cy="127.49" r="2.15" fill="#7E2F8E"/>
<circle cx="456.36" cy="131.12" r="2.15" fill="#7E2F8E"/>
<circle cx="463.25" cy="134.74" r="2.15" fill="#7E2F8E"/>
<circle cx="470.13" cy="138.37" r="2.15" fill="#7E2F8E"/>
<circle cx="477.02" cy="141.63" r="2.15" fill="#7E2F8E"/>
<circle cx="483.91" cy="144.53" r="2.15" fill="#7E2F8E"/>
<circle cx="490.79" cy="146.70" r="2.15" fill="#7E2F8E"/>
<circle cx="497.68" cy="148.52" r="2.15" fill="#7E2F8E"/>
<circle cx="504.57" cy="150.33" r="2.15" fill="#7E2F8E"/>
<circle cx="511.45" cy="151.78" r="2.15" fill="#7E2F8E"/>
<circle cx="518.34" cy="152.87" r="2.15" fill="#7E2F8E"/>
<circle cx="525.23" cy="153.95" r="2.15" fill="#7E2F8E"/>
<circle cx="532.11" cy="154.68" r="2.15" fill="#7E2F8E"/>
<circle cx="539.00" cy="155.77" r="2.15" fill="#7E2F8E"/>
<rect x="492.90" y="18.50" width="40.3" height="33.0" fill="#fff" stroke="#9c9c9c" stroke-width="0.9"/>
<line x1="494.90" y1="23.40" x2="509.20" y2="23.40" stroke="#0072BD" stroke-width="1.1"/>
<polygon points="502.00,20.80 504.00,23.40 502.00,26.00 500.00,23.40" fill="none" stroke="#0072BD" stroke-width="1.5"/>
<text x="510.50" y="25.70" class="lg">NMPBB</text>
<line x1="494.90" y1="31.20" x2="509.20" y2="31.20" stroke="#D95319" stroke-width="1.1"/>
<circle cx="502.00" cy="31.20" r="1.95" fill="none" stroke="#D95319" stroke-width="1.15"/>
<text x="510.50" y="33.50" class="lg">QRPBB</text>
<line x1="494.90" y1="39.00" x2="509.20" y2="39.00" stroke="#EDB120" stroke-width="1.1"/>
<polygon points="502.00,35.70 502.74,37.99 505.14,37.98 503.19,39.39 503.94,41.67 502.00,40.25 500.06,41.67 500.81,39.39 498.86,37.98 501.26,37.99" fill="#EDB120" stroke="#EDB120" stroke-width="0.5"/>
<text x="510.50" y="41.30" class="lg">BCD</text>
<line x1="494.90" y1="46.80" x2="509.20" y2="46.80" stroke="#7E2F8E" stroke-width="1.1"/>
<circle cx="502.00" cy="46.80" r="2.15" fill="#7E2F8E"/>
<text x="510.50" y="49.10" class="lg">HALS</text>
<text x="429.50" y="206.30" class="cap" text-anchor="middle"><tspan font-weight="bold">(b)</tspan> (m n r) = (500 5000 20)</text>
<rect x="33.5" y="236.9" width="207.00" height="163.50" fill="#fff" stroke="#9c9c9c" stroke-width="1.3"/>
<line x1="33.50" y1="400.4" x2="33.50" y2="398.4" stroke="#707070" stroke-width="0.9"/>
<line x1="33.50" y1="236.9" x2="33.50" y2="238.9" stroke="#707070" stroke-width="0.9"/>
<text x="33.50" y="410.10" class="tk" text-anchor="middle">0</text>
<line x1="68.00" y1="400.4" x2="68.00" y2="398.4" stroke="#707070" stroke-width="0.9"/>
<line x1="68.00" y1="236.9" x2="68.00" y2="238.9" stroke="#707070" stroke-width="0.9"/>
<text x="68.00" y="410.10" class="tk" text-anchor="middle">5</text>
<line x1="102.50" y1="400.4" x2="102.50" y2="398.4" stroke="#707070" stroke-width="0.9"/>
<line x1="102.50" y1="236.9" x2="102.50" y2="238.9" stroke="#707070" stroke-width="0.9"/>
<text x="102.50" y="410.10" class="tk" text-anchor="middle">10</text>
<line x1="137.00" y1="400.4" x2="137.00" y2="398.4" stroke="#707070" stroke-width="0.9"/>
<line x1="137.00" y1="236.9" x2="137.00" y2="238.9" stroke="#707070" stroke-width="0.9"/>
<text x="137.00" y="410.10" class="tk" text-anchor="middle">15</text>
<line x1="171.50" y1="400.4" x2="171.50" y2="398.4" stroke="#707070" stroke-width="0.9"/>
<line x1="171.50" y1="236.9" x2="171.50" y2="238.9" stroke="#707070" stroke-width="0.9"/>
<text x="171.50" y="410.10" class="tk" text-anchor="middle">20</text>
<line x1="206.00" y1="400.4" x2="206.00" y2="398.4" stroke="#707070" stroke-width="0.9"/>
<line x1="206.00" y1="236.9" x2="206.00" y2="238.9" stroke="#707070" stroke-width="0.9"/>
<text x="206.00" y="410.10" class="tk" text-anchor="middle">25</text>
<line x1="240.50" y1="400.4" x2="240.50" y2="398.4" stroke="#707070" stroke-width="0.9"/>
<line x1="240.50" y1="236.9" x2="240.50" y2="238.9" stroke="#707070" stroke-width="0.9"/>
<text x="240.50" y="410.10" class="tk" text-anchor="middle">30</text>
<line x1="33.5" y1="400.40" x2="35.5" y2="400.40" stroke="#707070" stroke-width="0.9"/>
<line x1="240.5" y1="400.40" x2="238.5" y2="400.40" stroke="#707070" stroke-width="0.9"/>
<text x="31.00" y="403.30" class="tk" text-anchor="end">0</text>
<line x1="33.5" y1="379.96" x2="35.5" y2="379.96" stroke="#707070" stroke-width="0.9"/>
<line x1="240.5" y1="379.96" x2="238.5" y2="379.96" stroke="#707070" stroke-width="0.9"/>
<text x="31.00" y="382.86" class="tk" text-anchor="end">0.05</text>
<line x1="33.5" y1="359.52" x2="35.5" y2="359.52" stroke="#707070" stroke-width="0.9"/>
<line x1="240.5" y1="359.52" x2="238.5" y2="359.52" stroke="#707070" stroke-width="0.9"/>
<text x="31.00" y="362.42" class="tk" text-anchor="end">0.1</text>
<line x1="33.5" y1="339.09" x2="35.5" y2="339.09" stroke="#707070" stroke-width="0.9"/>
<line x1="240.5" y1="339.09" x2="238.5" y2="339.09" stroke="#707070" stroke-width="0.9"/>
<text x="31.00" y="341.99" class="tk" text-anchor="end">0.15</text>
<line x1="33.5" y1="318.65" x2="35.5" y2="318.65" stroke="#707070" stroke-width="0.9"/>
<line x1="240.5" y1="318.65" x2="238.5" y2="318.65" stroke="#707070" stroke-width="0.9"/>
<text x="31.00" y="321.55" class="tk" text-anchor="end">0.2</text>
<line x1="33.5" y1="298.21" x2="35.5" y2="298.21" stroke="#707070" stroke-width="0.9"/>
<line x1="240.5" y1="298.21" x2="238.5" y2="298.21" stroke="#707070" stroke-width="0.9"/>
<text x="31.00" y="301.11" class="tk" text-anchor="end">0.25</text>
<line x1="33.5" y1="277.77" x2="35.5" y2="277.77" stroke="#707070" stroke-width="0.9"/>
<line x1="240.5" y1="277.77" x2="238.5" y2="277.77" stroke="#707070" stroke-width="0.9"/>
<text x="31.00" y="280.67" class="tk" text-anchor="end">0.3</text>
<line x1="33.5" y1="257.34" x2="35.5" y2="257.34" stroke="#707070" stroke-width="0.9"/>
<line x1="240.5" y1="257.34" x2="238.5" y2="257.34" stroke="#707070" stroke-width="0.9"/>
<text x="31.00" y="260.24" class="tk" text-anchor="end">0.35</text>
<line x1="33.5" y1="236.90" x2="35.5" y2="236.90" stroke="#707070" stroke-width="0.9"/>
<line x1="240.5" y1="236.90" x2="238.5" y2="236.90" stroke="#707070" stroke-width="0.9"/>
<text x="31.00" y="239.80" class="tk" text-anchor="end">0.4</text>
<text x="137.00" y="233.60" class="tt" text-anchor="middle">Relative residual</text>
<text x="137.00" y="420.00" class="tk" text-anchor="middle">iteration</text>
<text transform="translate(12.20,318.65) rotate(-90)" class="yl" text-anchor="middle">||WH - V||<tspan class="sub" dy="3.0">F</tspan><tspan dy="-3.0">/||V||</tspan><tspan class="sub" dy="3.0">F</tspan></text>
<polyline points="40.40,270.42 47.30,312.11 54.20,332.55 61.10,346.04 68.00,359.12 74.90,368.93 81.80,374.24 88.70,377.51 95.60,380.78 102.50,384.05 109.40,386.91 116.30,388.95 123.20,389.36 130.10,389.36 137.00,389.36 143.90,389.36 150.80,389.36 157.70,389.36 164.60,389.36 171.50,389.36 178.40,389.36 185.30,389.36 192.20,389.36 199.10,389.36 206.00,389.36 212.90,389.36 219.80,389.36 226.70,389.36 233.60,389.36 240.50,389.36" fill="none" stroke="#0072BD" stroke-width="1.5" stroke-linejoin="round"/>
<polygon points="40.40,267.82 42.40,270.42 40.40,273.02 38.40,270.42" fill="none" stroke="#0072BD" stroke-width="1.5"/>
<polygon points="47.30,309.51 49.30,312.11 47.30,314.71 45.30,312.11" fill="none" stroke="#0072BD" stroke-width="1.5"/>
<polygon points="54.20,329.95 56.20,332.55 54.20,335.15 52.20,332.55" fill="none" stroke="#0072BD" stroke-width="1.5"/>
<polygon points="61.10,343.44 63.10,346.04 61.10,348.64 59.10,346.04" fill="none" stroke="#0072BD" stroke-width="1.5"/>
<polygon points="68.00,356.52 70.00,359.12 68.00,361.72 66.00,359.12" fill="none" stroke="#0072BD" stroke-width="1.5"/>
<polygon points="74.90,366.33 76.90,368.93 74.90,371.53 72.90,368.93" fill="none" stroke="#0072BD" stroke-width="1.5"/>
<polygon points="81.80,371.64 83.80,374.24 81.80,376.84 79.80,374.24" fill="none" stroke="#0072BD" stroke-width="1.5"/>
<polygon points="88.70,374.91 90.70,377.51 88.70,380.11 86.70,377.51" fill="none" stroke="#0072BD" stroke-width="1.5"/>
<polygon points="95.60,378.18 97.60,380.78 95.60,383.38 93.60,380.78" fill="none" stroke="#0072BD" stroke-width="1.5"/>
<polygon points="102.50,381.45 104.50,384.05 102.50,386.65 100.50,384.05" fill="none" stroke="#0072BD" stroke-width="1.5"/>
<polygon points="109.40,384.31 111.40,386.91 109.40,389.51 107.40,386.91" fill="none" stroke="#0072BD" stroke-width="1.5"/>
<polygon points="116.30,386.35 118.30,388.95 116.30,391.56 114.30,388.95" fill="none" stroke="#0072BD" stroke-width="1.5"/>
<polygon points="123.20,386.76 125.20,389.36 123.20,391.96 121.20,389.36" fill="none" stroke="#0072BD" stroke-width="1.5"/>
<polygon points="130.10,386.76 132.10,389.36 130.10,391.96 128.10,389.36" fill="none" stroke="#0072BD" stroke-width="1.5"/>
<polygon points="137.00,386.76 139.00,389.36 137.00,391.96 135.00,389.36" fill="none" stroke="#0072BD" stroke-width="1.5"/>
<polygon points="143.90,386.76 145.90,389.36 143.90,391.96 141.90,389.36" fill="none" stroke="#0072BD" stroke-width="1.5"/>
<polygon points="150.80,386.76 152.80,389.36 150.80,391.96 148.80,389.36" fill="none" stroke="#0072BD" stroke-width="1.5"/>
<polygon points="157.70,386.76 159.70,389.36 157.70,391.96 155.70,389.36" fill="none" stroke="#0072BD" stroke-width="1.5"/>
<polygon points="164.60,386.76 166.60,389.36 164.60,391.96 162.60,389.36" fill="none" stroke="#0072BD" stroke-width="1.5"/>
<polygon points="171.50,386.76 173.50,389.36 171.50,391.96 169.50,389.36" fill="none" stroke="#0072BD" stroke-width="1.5"/>
<polygon points="178.40,386.76 180.40,389.36 178.40,391.96 176.40,389.36" fill="none" stroke="#0072BD" stroke-width="1.5"/>
<polygon points="185.30,386.76 187.30,389.36 185.30,391.96 183.30,389.36" fill="none" stroke="#0072BD" stroke-width="1.5"/>
<polygon points="192.20,386.76 194.20,389.36 192.20,391.96 190.20,389.36" fill="none" stroke="#0072BD" stroke-width="1.5"/>
<polygon points="199.10,386.76 201.10,389.36 199.10,391.96 197.10,389.36" fill="none" stroke="#0072BD" stroke-width="1.5"/>
<polygon points="206.00,386.76 208.00,389.36 206.00,391.96 204.00,389.36" fill="none" stroke="#0072BD" stroke-width="1.5"/>
<polygon points="212.90,386.76 214.90,389.36 212.90,391.96 210.90,389.36" fill="none" stroke="#0072BD" stroke-width="1.5"/>
<polygon points="219.80,386.76 221.80,389.36 219.80,391.96 217.80,389.36" fill="none" stroke="#0072BD" stroke-width="1.5"/>
<polygon points="226.70,386.76 228.70,389.36 226.70,391.96 224.70,389.36" fill="none" stroke="#0072BD" stroke-width="1.5"/>
<polygon points="233.60,386.76 235.60,389.36 233.60,391.96 231.60,389.36" fill="none" stroke="#0072BD" stroke-width="1.5"/>
<polygon points="240.50,386.76 242.50,389.36 240.50,391.96 238.50,389.36" fill="none" stroke="#0072BD" stroke-width="1.5"/>
<polyline points="40.40,301.48 47.30,319.47 54.20,328.05 61.10,332.96 68.00,336.23 74.90,339.90 81.80,343.58 88.70,346.85 95.60,350.12 102.50,352.99 109.40,355.44 116.30,357.89 123.20,360.34 130.10,362.39 137.00,364.43 143.90,366.47 150.80,368.11 157.70,369.74 164.60,371.38 171.50,373.01 178.40,374.24 185.30,375.47 192.20,376.69 199.10,377.51 206.00,378.74 212.90,379.55 219.80,380.37 226.70,381.60 233.60,382.41 240.50,383.64" fill="none" stroke="#D95319" stroke-width="1.5" stroke-linejoin="round"/>
<circle cx="40.40" cy="301.48" r="1.95" fill="none" stroke="#D95319" stroke-width="1.15"/>
<circle cx="47.30" cy="319.47" r="1.95" fill="none" stroke="#D95319" stroke-width="1.15"/>
<circle cx="54.20" cy="328.05" r="1.95" fill="none" stroke="#D95319" stroke-width="1.15"/>
<circle cx="61.10" cy="332.96" r="1.95" fill="none" stroke="#D95319" stroke-width="1.15"/>
<circle cx="68.00" cy="336.23" r="1.95" fill="none" stroke="#D95319" stroke-width="1.15"/>
<circle cx="74.90" cy="339.90" r="1.95" fill="none" stroke="#D95319" stroke-width="1.15"/>
<circle cx="81.80" cy="343.58" r="1.95" fill="none" stroke="#D95319" stroke-width="1.15"/>
<circle cx="88.70" cy="346.85" r="1.95" fill="none" stroke="#D95319" stroke-width="1.15"/>
<circle cx="95.60" cy="350.12" r="1.95" fill="none" stroke="#D95319" stroke-width="1.15"/>
<circle cx="102.50" cy="352.99" r="1.95" fill="none" stroke="#D95319" stroke-width="1.15"/>
<circle cx="109.40" cy="355.44" r="1.95" fill="none" stroke="#D95319" stroke-width="1.15"/>
<circle cx="116.30" cy="357.89" r="1.95" fill="none" stroke="#D95319" stroke-width="1.15"/>
<circle cx="123.20" cy="360.34" r="1.95" fill="none" stroke="#D95319" stroke-width="1.15"/>
<circle cx="130.10" cy="362.39" r="1.95" fill="none" stroke="#D95319" stroke-width="1.15"/>
<circle cx="137.00" cy="364.43" r="1.95" fill="none" stroke="#D95319" stroke-width="1.15"/>
<circle cx="143.90" cy="366.47" r="1.95" fill="none" stroke="#D95319" stroke-width="1.15"/>
<circle cx="150.80" cy="368.11" r="1.95" fill="none" stroke="#D95319" stroke-width="1.15"/>
<circle cx="157.70" cy="369.74" r="1.95" fill="none" stroke="#D95319" stroke-width="1.15"/>
<circle cx="164.60" cy="371.38" r="1.95" fill="none" stroke="#D95319" stroke-width="1.15"/>
<circle cx="171.50" cy="373.01" r="1.95" fill="none" stroke="#D95319" stroke-width="1.15"/>
<circle cx="178.40" cy="374.24" r="1.95" fill="none" stroke="#D95319" stroke-width="1.15"/>
<circle cx="185.30" cy="375.47" r="1.95" fill="none" stroke="#D95319" stroke-width="1.15"/>
<circle cx="192.20" cy="376.69" r="1.95" fill="none" stroke="#D95319" stroke-width="1.15"/>
<circle cx="199.10" cy="377.51" r="1.95" fill="none" stroke="#D95319" stroke-width="1.15"/>
<circle cx="206.00" cy="378.74" r="1.95" fill="none" stroke="#D95319" stroke-width="1.15"/>
<circle cx="212.90" cy="379.55" r="1.95" fill="none" stroke="#D95319" stroke-width="1.15"/>
<circle cx="219.80" cy="380.37" r="1.95" fill="none" stroke="#D95319" stroke-width="1.15"/>
<circle cx="226.70" cy="381.60" r="1.95" fill="none" stroke="#D95319" stroke-width="1.15"/>
<circle cx="233.60" cy="382.41" r="1.95" fill="none" stroke="#D95319" stroke-width="1.15"/>
<circle cx="240.50" cy="383.64" r="1.95" fill="none" stroke="#D95319" stroke-width="1.15"/>
<polyline points="40.40,252.02 47.30,257.34 54.20,258.97 61.10,260.61 68.00,261.83 74.90,263.06 81.80,263.88 88.70,265.10 95.60,265.92 102.50,267.56 109.40,268.78 116.30,270.01 123.20,271.24 130.10,273.28 137.00,276.14 143.90,279.00 150.80,281.86 157.70,285.54 164.60,289.63 171.50,293.72 178.40,297.80 185.30,301.07 192.20,304.34 199.10,307.61 206.00,310.07 212.90,312.52 219.80,314.15 226.70,315.79 233.60,317.01 240.50,318.24" fill="none" stroke="#EDB120" stroke-width="1.5" stroke-linejoin="round"/>
<polygon points="40.40,248.72 41.14,251.01 43.54,251.00 41.59,252.41 42.34,254.69 40.40,253.28 38.46,254.69 39.21,252.41 37.26,251.00 39.66,251.01" fill="#EDB120" stroke="#EDB120" stroke-width="0.5"/>
<polygon points="47.30,254.04 48.04,256.32 50.44,256.32 48.49,257.73 49.24,260.01 47.30,258.59 45.36,260.01 46.11,257.73 44.16,256.32 46.56,256.32" fill="#EDB120" stroke="#EDB120" stroke-width="0.5"/>
<polygon points="54.20,255.67 54.94,257.96 57.34,257.95 55.39,259.36 56.14,261.64 54.20,260.23 52.26,261.64 53.01,259.36 51.06,257.95 53.46,257.96" fill="#EDB120" stroke="#EDB120" stroke-width="0.5"/>
<polygon points="61.10,257.31 61.84,259.59 64.24,259.59 62.29,261.00 63.04,263.28 61.10,261.86 59.16,263.28 59.91,261.00 57.96,259.59 60.36,259.59" fill="#EDB120" stroke="#EDB120" stroke-width="0.5"/>
<polygon points="68.00,258.53 68.74,260.82 71.14,260.81 69.19,262.22 69.94,264.50 68.00,263.09 66.06,264.50 66.81,262.22 64.86,260.81 67.26,260.82" fill="#EDB120" stroke="#EDB120" stroke-width="0.5"/>
<polygon points="74.90,259.76 75.64,262.05 78.04,262.04 76.09,263.45 76.84,265.73 74.90,264.31 72.96,265.73 73.71,263.45 71.76,262.04 74.16,262.05" fill="#EDB120" stroke="#EDB120" stroke-width="0.5"/>
<polygon points="81.80,260.58 82.54,262.86 84.94,262.86 82.99,264.27 83.74,266.55 81.80,265.13 79.86,266.55 80.61,264.27 78.66,262.86 81.06,262.86" fill="#EDB120" stroke="#EDB120" stroke-width="0.5"/>
<polygon points="88.70,261.80 89.44,264.09 91.84,264.08 89.89,265.49 90.64,267.77 88.70,266.36 86.76,267.77 87.51,265.49 85.56,264.08 87.96,264.09" fill="#EDB120" stroke="#EDB120" stroke-width="0.5"/>
<polygon points="95.60,262.62 96.34,264.91 98.74,264.90 96.79,266.31 97.54,268.59 95.60,267.18 93.66,268.59 94.41,266.31 92.46,264.90 94.86,264.91" fill="#EDB120" stroke="#EDB120" stroke-width="0.5"/>
<polygon points="102.50,264.26 103.24,266.54 105.64,266.54 103.69,267.94 104.44,270.23 102.50,268.81 100.56,270.23 101.31,267.94 99.36,266.54 101.76,266.54" fill="#EDB120" stroke="#EDB120" stroke-width="0.5"/>
<polygon points="109.40,265.48 110.14,267.77 112.54,267.76 110.59,269.17 111.34,271.45 109.40,270.04 107.46,271.45 108.21,269.17 106.26,267.76 108.66,267.77" fill="#EDB120" stroke="#EDB120" stroke-width="0.5"/>
<polygon points="116.30,266.71 117.04,268.99 119.44,268.99 117.49,270.40 118.24,272.68 116.30,271.26 114.36,272.68 115.11,270.40 113.16,268.99 115.56,268.99" fill="#EDB120" stroke="#EDB120" stroke-width="0.5"/>
<polygon points="123.20,267.94 123.94,270.22 126.34,270.22 124.39,271.62 125.14,273.90 123.20,272.49 121.26,273.90 122.01,271.62 120.06,270.22 122.46,270.22" fill="#EDB120" stroke="#EDB120" stroke-width="0.5"/>
<polygon points="130.10,269.98 130.84,272.26 133.24,272.26 131.29,273.67 132.04,275.95 130.10,274.53 128.16,275.95 128.91,273.67 126.96,272.26 129.36,272.26" fill="#EDB120" stroke="#EDB120" stroke-width="0.5"/>
<polygon points="137.00,272.84 137.74,275.13 140.14,275.12 138.19,276.53 138.94,278.81 137.00,277.39 135.06,278.81 135.81,276.53 133.86,275.12 136.26,275.13" fill="#EDB120" stroke="#EDB120" stroke-width="0.5"/>
<polygon points="143.90,275.70 144.64,277.99 147.04,277.98 145.09,279.39 145.84,281.67 143.90,280.26 141.96,281.67 142.71,279.39 140.76,277.98 143.16,277.99" fill="#EDB120" stroke="#EDB120" stroke-width="0.5"/>
<polygon points="150.80,278.56 151.54,280.85 153.94,280.84 151.99,282.25 152.74,284.53 150.80,283.12 148.86,284.53 149.61,282.25 147.66,280.84 150.06,280.85" fill="#EDB120" stroke="#EDB120" stroke-width="0.5"/>
<polygon points="157.70,282.24 158.44,284.53 160.84,284.52 158.89,285.93 159.64,288.21 157.70,286.80 155.76,288.21 156.51,285.93 154.56,284.52 156.96,284.53" fill="#EDB120" stroke="#EDB120" stroke-width="0.5"/>
<polygon points="164.60,286.33 165.34,288.61 167.74,288.61 165.79,290.02 166.54,292.30 164.60,290.88 162.66,292.30 163.41,290.02 161.46,288.61 163.86,288.61" fill="#EDB120" stroke="#EDB120" stroke-width="0.5"/>
<polygon points="171.50,290.42 172.24,292.70 174.64,292.70 172.69,294.10 173.44,296.39 171.50,294.97 169.56,296.39 170.31,294.10 168.36,292.70 170.76,292.70" fill="#EDB120" stroke="#EDB120" stroke-width="0.5"/>
<polygon points="178.40,294.50 179.14,296.79 181.54,296.78 179.59,298.19 180.34,300.47 178.40,299.06 176.46,300.47 177.21,298.19 175.26,296.78 177.66,296.79" fill="#EDB120" stroke="#EDB120" stroke-width="0.5"/>
<polygon points="185.30,297.77 186.04,300.06 188.44,300.05 186.49,301.46 187.24,303.74 185.30,302.33 183.36,303.74 184.11,301.46 182.16,300.05 184.56,300.06" fill="#EDB120" stroke="#EDB120" stroke-width="0.5"/>
<polygon points="192.20,301.04 192.94,303.33 195.34,303.32 193.39,304.73 194.14,307.01 192.20,305.60 190.26,307.01 191.01,304.73 189.06,303.32 191.46,303.33" fill="#EDB120" stroke="#EDB120" stroke-width="0.5"/>
<polygon points="199.10,304.31 199.84,306.60 202.24,306.59 200.29,308.00 201.04,310.28 199.10,308.87 197.16,310.28 197.91,308.00 195.96,306.59 198.36,306.60" fill="#EDB120" stroke="#EDB120" stroke-width="0.5"/>
<polygon points="206.00,306.77 206.74,309.05 209.14,309.05 207.19,310.45 207.94,312.74 206.00,311.32 204.06,312.74 204.81,310.45 202.86,309.05 205.26,309.05" fill="#EDB120" stroke="#EDB120" stroke-width="0.5"/>
<polygon points="212.90,309.22 213.64,311.50 216.04,311.50 214.09,312.91 214.84,315.19 212.90,313.77 210.96,315.19 211.71,312.91 209.76,311.50 212.16,311.50" fill="#EDB120" stroke="#EDB120" stroke-width="0.5"/>
<polygon points="219.80,310.85 220.54,313.14 222.94,313.13 220.99,314.54 221.74,316.82 219.80,315.41 217.86,316.82 218.61,314.54 216.66,313.13 219.06,313.14" fill="#EDB120" stroke="#EDB120" stroke-width="0.5"/>
<polygon points="226.70,312.49 227.44,314.77 229.84,314.77 227.89,316.18 228.64,318.46 226.70,317.04 224.76,318.46 225.51,316.18 223.56,314.77 225.96,314.77" fill="#EDB120" stroke="#EDB120" stroke-width="0.5"/>
<polygon points="233.60,313.71 234.34,316.00 236.74,316.00 234.79,317.40 235.54,319.68 233.60,318.27 231.66,319.68 232.41,317.40 230.46,316.00 232.86,316.00" fill="#EDB120" stroke="#EDB120" stroke-width="0.5"/>
<polygon points="240.50,314.94 241.24,317.23 243.64,317.22 241.69,318.63 242.44,320.91 240.50,319.50 238.56,320.91 239.31,318.63 237.36,317.22 239.76,317.23" fill="#EDB120" stroke="#EDB120" stroke-width="0.5"/>
<polyline points="40.40,251.41 47.30,276.14 54.20,290.04 61.10,298.62 68.00,305.16 74.90,310.07 81.80,314.56 88.70,318.65 95.60,321.51 102.50,324.37 109.40,326.82 116.30,329.28 123.20,331.32 130.10,333.77 137.00,335.82 143.90,337.86 150.80,340.31 157.70,343.18 164.60,345.63 171.50,348.49 178.40,351.35 185.30,353.80 192.20,357.07 199.10,359.93 206.00,363.20 212.90,365.66 219.80,368.52 226.70,370.97 233.60,373.01 240.50,375.06" fill="none" stroke="#7E2F8E" stroke-width="1.5" stroke-linejoin="round"/>
<circle cx="40.40" cy="251.41" r="2.15" fill="#7E2F8E"/>
<circle cx="47.30" cy="276.14" r="2.15" fill="#7E2F8E"/>
<circle cx="54.20" cy="290.04" r="2.15" fill="#7E2F8E"/>
<circle cx="61.10" cy="298.62" r="2.15" fill="#7E2F8E"/>
<circle cx="68.00" cy="305.16" r="2.15" fill="#7E2F8E"/>
<circle cx="74.90" cy="310.07" r="2.15" fill="#7E2F8E"/>
<circle cx="81.80" cy="314.56" r="2.15" fill="#7E2F8E"/>
<circle cx="88.70" cy="318.65" r="2.15" fill="#7E2F8E"/>
<circle cx="95.60" cy="321.51" r="2.15" fill="#7E2F8E"/>
<circle cx="102.50" cy="324.37" r="2.15" fill="#7E2F8E"/>
<circle cx="109.40" cy="326.82" r="2.15" fill="#7E2F8E"/>
<circle cx="116.30" cy="329.28" r="2.15" fill="#7E2F8E"/>
<circle cx="123.20" cy="331.32" r="2.15" fill="#7E2F8E"/>
<circle cx="130.10" cy="333.77" r="2.15" fill="#7E2F8E"/>
<circle cx="137.00" cy="335.82" r="2.15" fill="#7E2F8E"/>
<circle cx="143.90" cy="337.86" r="2.15" fill="#7E2F8E"/>
<circle cx="150.80" cy="340.31" r="2.15" fill="#7E2F8E"/>
<circle cx="157.70" cy="343.18" r="2.15" fill="#7E2F8E"/>
<circle cx="164.60" cy="345.63" r="2.15" fill="#7E2F8E"/>
<circle cx="171.50" cy="348.49" r="2.15" fill="#7E2F8E"/>
<circle cx="178.40" cy="351.35" r="2.15" fill="#7E2F8E"/>
<circle cx="185.30" cy="353.80" r="2.15" fill="#7E2F8E"/>
<circle cx="192.20" cy="357.07" r="2.15" fill="#7E2F8E"/>
<circle cx="199.10" cy="359.93" r="2.15" fill="#7E2F8E"/>
<circle cx="206.00" cy="363.20" r="2.15" fill="#7E2F8E"/>
<circle cx="212.90" cy="365.66" r="2.15" fill="#7E2F8E"/>
<circle cx="219.80" cy="368.52" r="2.15" fill="#7E2F8E"/>
<circle cx="226.70" cy="370.97" r="2.15" fill="#7E2F8E"/>
<circle cx="233.60" cy="373.01" r="2.15" fill="#7E2F8E"/>
<circle cx="240.50" cy="375.06" r="2.15" fill="#7E2F8E"/>
<rect x="194.40" y="242.80" width="40.3" height="33.0" fill="#fff" stroke="#9c9c9c" stroke-width="0.9"/>
<line x1="196.40" y1="247.70" x2="210.70" y2="247.70" stroke="#0072BD" stroke-width="1.1"/>
<polygon points="203.50,245.10 205.50,247.70 203.50,250.30 201.50,247.70" fill="none" stroke="#0072BD" stroke-width="1.5"/>
<text x="212.00" y="250.00" class="lg">NMPBB</text>
<line x1="196.40" y1="255.50" x2="210.70" y2="255.50" stroke="#D95319" stroke-width="1.1"/>
<circle cx="203.50" cy="255.50" r="1.95" fill="none" stroke="#D95319" stroke-width="1.15"/>
<text x="212.00" y="257.80" class="lg">QRPBB</text>
<line x1="196.40" y1="263.30" x2="210.70" y2="263.30" stroke="#EDB120" stroke-width="1.1"/>
<polygon points="203.50,260.00 204.24,262.29 206.64,262.28 204.69,263.69 205.44,265.97 203.50,264.55 201.56,265.97 202.31,263.69 200.36,262.28 202.76,262.29" fill="#EDB120" stroke="#EDB120" stroke-width="0.5"/>
<text x="212.00" y="265.60" class="lg">BCD</text>
<line x1="196.40" y1="271.10" x2="210.70" y2="271.10" stroke="#7E2F8E" stroke-width="1.1"/>
<circle cx="203.50" cy="271.10" r="2.15" fill="#7E2F8E"/>
<text x="212.00" y="273.40" class="lg">HALS</text>
<text x="130.80" y="431.00" class="cap" text-anchor="middle"><tspan font-weight="bold">(c)</tspan> (m n r) = (5000 1000 30)</text>
<rect x="332.4" y="236.9" width="206.60" height="163.50" fill="#fff" stroke="#9c9c9c" stroke-width="1.3"/>
<line x1="332.40" y1="400.4" x2="332.40" y2="398.4" stroke="#707070" stroke-width="0.9"/>
<line x1="332.40" y1="236.9" x2="332.40" y2="238.9" stroke="#707070" stroke-width="0.9"/>
<text x="332.40" y="410.10" class="tk" text-anchor="middle">0</text>
<line x1="366.83" y1="400.4" x2="366.83" y2="398.4" stroke="#707070" stroke-width="0.9"/>
<line x1="366.83" y1="236.9" x2="366.83" y2="238.9" stroke="#707070" stroke-width="0.9"/>
<text x="366.83" y="410.10" class="tk" text-anchor="middle">5</text>
<line x1="401.27" y1="400.4" x2="401.27" y2="398.4" stroke="#707070" stroke-width="0.9"/>
<line x1="401.27" y1="236.9" x2="401.27" y2="238.9" stroke="#707070" stroke-width="0.9"/>
<text x="401.27" y="410.10" class="tk" text-anchor="middle">10</text>
<line x1="435.70" y1="400.4" x2="435.70" y2="398.4" stroke="#707070" stroke-width="0.9"/>
<line x1="435.70" y1="236.9" x2="435.70" y2="238.9" stroke="#707070" stroke-width="0.9"/>
<text x="435.70" y="410.10" class="tk" text-anchor="middle">15</text>
<line x1="470.13" y1="400.4" x2="470.13" y2="398.4" stroke="#707070" stroke-width="0.9"/>
<line x1="470.13" y1="236.9" x2="470.13" y2="238.9" stroke="#707070" stroke-width="0.9"/>
<text x="470.13" y="410.10" class="tk" text-anchor="middle">20</text>
<line x1="504.57" y1="400.4" x2="504.57" y2="398.4" stroke="#707070" stroke-width="0.9"/>
<line x1="504.57" y1="236.9" x2="504.57" y2="238.9" stroke="#707070" stroke-width="0.9"/>
<text x="504.57" y="410.10" class="tk" text-anchor="middle">25</text>
<line x1="539.00" y1="400.4" x2="539.00" y2="398.4" stroke="#707070" stroke-width="0.9"/>
<line x1="539.00" y1="236.9" x2="539.00" y2="238.9" stroke="#707070" stroke-width="0.9"/>
<text x="539.00" y="410.10" class="tk" text-anchor="middle">30</text>
<line x1="332.4" y1="400.40" x2="334.4" y2="400.40" stroke="#707070" stroke-width="0.9"/>
<line x1="539.0" y1="400.40" x2="537.0" y2="400.40" stroke="#707070" stroke-width="0.9"/>
<text x="329.90" y="403.30" class="tk" text-anchor="end">0</text>
<line x1="332.4" y1="377.04" x2="334.4" y2="377.04" stroke="#707070" stroke-width="0.9"/>
<line x1="539.0" y1="377.04" x2="537.0" y2="377.04" stroke="#707070" stroke-width="0.9"/>
<text x="329.90" y="379.94" class="tk" text-anchor="end">0.05</text>
<line x1="332.4" y1="353.69" x2="334.4" y2="353.69" stroke="#707070" stroke-width="0.9"/>
<line x1="539.0" y1="353.69" x2="537.0" y2="353.69" stroke="#707070" stroke-width="0.9"/>
<text x="329.90" y="356.59" class="tk" text-anchor="end">0.1</text>
<line x1="332.4" y1="330.33" x2="334.4" y2="330.33" stroke="#707070" stroke-width="0.9"/>
<line x1="539.0" y1="330.33" x2="537.0" y2="330.33" stroke="#707070" stroke-width="0.9"/>
<text x="329.90" y="333.23" class="tk" text-anchor="end">0.15</text>
<line x1="332.4" y1="306.97" x2="334.4" y2="306.97" stroke="#707070" stroke-width="0.9"/>
<line x1="539.0" y1="306.97" x2="537.0" y2="306.97" stroke="#707070" stroke-width="0.9"/>
<text x="329.90" y="309.87" class="tk" text-anchor="end">0.2</text>
<line x1="332.4" y1="283.61" x2="334.4" y2="283.61" stroke="#707070" stroke-width="0.9"/>
<line x1="539.0" y1="283.61" x2="537.0" y2="283.61" stroke="#707070" stroke-width="0.9"/>
<text x="329.90" y="286.51" class="tk" text-anchor="end">0.25</text>
<line x1="332.4" y1="260.26" x2="334.4" y2="260.26" stroke="#707070" stroke-width="0.9"/>
<line x1="539.0" y1="260.26" x2="537.0" y2="260.26" stroke="#707070" stroke-width="0.9"/>
<text x="329.90" y="263.16" class="tk" text-anchor="end">0.3</text>
<line x1="332.4" y1="236.90" x2="334.4" y2="236.90" stroke="#707070" stroke-width="0.9"/>
<line x1="539.0" y1="236.90" x2="537.0" y2="236.90" stroke="#707070" stroke-width="0.9"/>
<text x="329.90" y="239.80" class="tk" text-anchor="end">0.35</text>
<text x="435.70" y="233.60" class="tt" text-anchor="middle">Relative residual</text>
<text x="435.70" y="420.00" class="tk" text-anchor="middle">iteration</text>
<text transform="translate(311.10,318.65) rotate(-90)" class="yl" text-anchor="middle">||WH - V||<tspan class="sub" dy="3.0">F</tspan><tspan dy="-3.0">/||V||</tspan><tspan class="sub" dy="3.0">F</tspan></text>
<polyline points="339.29,251.85 346.17,295.76 353.06,321.92 359.95,333.60 366.83,342.01 373.72,349.95 380.61,356.96 387.49,363.50 394.38,370.50 401.27,377.51 408.15,383.58 415.04,386.85 421.93,387.79 428.81,387.79 435.70,387.79 442.59,388.02 449.47,388.02 456.36,388.02 463.25,388.02 470.13,388.02 477.02,388.02 483.91,388.02 490.79,388.02 497.68,388.02 504.57,388.02 511.45,388.02 518.34,388.02 525.23,388.02 532.11,388.02 539.00,388.02" fill="none" stroke="#0072BD" stroke-width="1.5" stroke-linejoin="round"/>
<polygon points="339.29,249.25 341.29,251.85 339.29,254.45 337.29,251.85" fill="none" stroke="#0072BD" stroke-width="1.5"/>
<polygon points="346.17,293.16 348.17,295.76 346.17,298.36 344.17,295.76" fill="none" stroke="#0072BD" stroke-width="1.5"/>
<polygon points="353.06,319.32 355.06,321.92 353.06,324.52 351.06,321.92" fill="none" stroke="#0072BD" stroke-width="1.5"/>
<polygon points="359.95,331.00 361.95,333.60 359.95,336.20 357.95,333.60" fill="none" stroke="#0072BD" stroke-width="1.5"/>
<polygon points="366.83,339.41 368.83,342.01 366.83,344.61 364.83,342.01" fill="none" stroke="#0072BD" stroke-width="1.5"/>
<polygon points="373.72,347.35 375.72,349.95 373.72,352.55 371.72,349.95" fill="none" stroke="#0072BD" stroke-width="1.5"/>
<polygon points="380.61,354.36 382.61,356.96 380.61,359.56 378.61,356.96" fill="none" stroke="#0072BD" stroke-width="1.5"/>
<polygon points="387.49,360.90 389.49,363.50 387.49,366.10 385.49,363.50" fill="none" stroke="#0072BD" stroke-width="1.5"/>
<polygon points="394.38,367.90 396.38,370.50 394.38,373.10 392.38,370.50" fill="none" stroke="#0072BD" stroke-width="1.5"/>
<polygon points="401.27,374.91 403.27,377.51 401.27,380.11 399.27,377.51" fill="none" stroke="#0072BD" stroke-width="1.5"/>
<polygon points="408.15,380.98 410.15,383.58 408.15,386.18 406.15,383.58" fill="none" stroke="#0072BD" stroke-width="1.5"/>
<polygon points="415.04,384.25 417.04,386.85 415.04,389.45 413.04,386.85" fill="none" stroke="#0072BD" stroke-width="1.5"/>
<polygon points="421.93,385.19 423.93,387.79 421.93,390.39 419.93,387.79" fill="none" stroke="#0072BD" stroke-width="1.5"/>
<polygon points="428.81,385.19 430.81,387.79 428.81,390.39 426.81,387.79" fill="none" stroke="#0072BD" stroke-width="1.5"/>
<polygon points="435.70,385.19 437.70,387.79 435.70,390.39 433.70,387.79" fill="none" stroke="#0072BD" stroke-width="1.5"/>
<polygon points="442.59,385.42 444.59,388.02 442.59,390.62 440.59,388.02" fill="none" stroke="#0072BD" stroke-width="1.5"/>
<polygon points="449.47,385.42 451.47,388.02 449.47,390.62 447.47,388.02" fill="none" stroke="#0072BD" stroke-width="1.5"/>
<polygon points="456.36,385.42 458.36,388.02 456.36,390.62 454.36,388.02" fill="none" stroke="#0072BD" stroke-width="1.5"/>
<polygon points="463.25,385.42 465.25,388.02 463.25,390.62 461.25,388.02" fill="none" stroke="#0072BD" stroke-width="1.5"/>
<polygon points="470.13,385.42 472.13,388.02 470.13,390.62 468.13,388.02" fill="none" stroke="#0072BD" stroke-width="1.5"/>
<polygon points="477.02,385.42 479.02,388.02 477.02,390.62 475.02,388.02" fill="none" stroke="#0072BD" stroke-width="1.5"/>
<polygon points="483.91,385.42 485.91,388.02 483.91,390.62 481.91,388.02" fill="none" stroke="#0072BD" stroke-width="1.5"/>
<polygon points="490.79,385.42 492.79,388.02 490.79,390.62 488.79,388.02" fill="none" stroke="#0072BD" stroke-width="1.5"/>
<polygon points="497.68,385.42 499.68,388.02 497.68,390.62 495.68,388.02" fill="none" stroke="#0072BD" stroke-width="1.5"/>
<polygon points="504.57,385.42 506.57,388.02 504.57,390.62 502.57,388.02" fill="none" stroke="#0072BD" stroke-width="1.5"/>
<polygon points="511.45,385.42 513.45,388.02 511.45,390.62 509.45,388.02" fill="none" stroke="#0072BD" stroke-width="1.5"/>
<polygon points="518.34,385.42 520.34,388.02 518.34,390.62 516.34,388.02" fill="none" stroke="#0072BD" stroke-width="1.5"/>
<polygon points="525.23,385.42 527.23,388.02 525.23,390.62 523.23,388.02" fill="none" stroke="#0072BD" stroke-width="1.5"/>
<polygon points="532.11,385.42 534.11,388.02 532.11,390.62 530.11,388.02" fill="none" stroke="#0072BD" stroke-width="1.5"/>
<polygon points="539.00,385.42 541.00,388.02 539.00,390.62 537.00,388.02" fill="none" stroke="#0072BD" stroke-width="1.5"/>
<polyline points="339.29,295.76 346.17,313.51 353.06,322.39 359.95,326.59 366.83,329.86 373.72,333.60 380.61,336.40 387.49,341.07 394.38,345.74 401.27,349.95 408.15,355.55 415.04,360.23 421.93,363.50 428.81,365.36 435.70,367.23 442.59,368.63 449.47,370.04 456.36,371.44 463.25,372.37 470.13,373.77 477.02,375.17 483.91,376.11 490.79,377.51 497.68,378.44 504.57,379.38 511.45,380.78 518.34,382.18 525.23,383.12 532.11,384.05 539.00,384.98" fill="none" stroke="#D95319" stroke-width="1.5" stroke-linejoin="round"/>
<circle cx="339.29" cy="295.76" r="1.95" fill="none" stroke="#D95319" stroke-width="1.15"/>
<circle cx="346.17" cy="313.51" r="1.95" fill="none" stroke="#D95319" stroke-width="1.15"/>
<circle cx="353.06" cy="322.39" r="1.95" fill="none" stroke="#D95319" stroke-width="1.15"/>
<circle cx="359.95" cy="326.59" r="1.95" fill="none" stroke="#D95319" stroke-width="1.15"/>
<circle cx="366.83" cy="329.86" r="1.95" fill="none" stroke="#D95319" stroke-width="1.15"/>
<circle cx="373.72" cy="333.60" r="1.95" fill="none" stroke="#D95319" stroke-width="1.15"/>
<circle cx="380.61" cy="336.40" r="1.95" fill="none" stroke="#D95319" stroke-width="1.15"/>
<circle cx="387.49" cy="341.07" r="1.95" fill="none" stroke="#D95319" stroke-width="1.15"/>
<circle cx="394.38" cy="345.74" r="1.95" fill="none" stroke="#D95319" stroke-width="1.15"/>
<circle cx="401.27" cy="349.95" r="1.95" fill="none" stroke="#D95319" stroke-width="1.15"/>
<circle cx="408.15" cy="355.55" r="1.95" fill="none" stroke="#D95319" stroke-width="1.15"/>
<circle cx="415.04" cy="360.23" r="1.95" fill="none" stroke="#D95319" stroke-width="1.15"/>
<circle cx="421.93" cy="363.50" r="1.95" fill="none" stroke="#D95319" stroke-width="1.15"/>
<circle cx="428.81" cy="365.36" r="1.95" fill="none" stroke="#D95319" stroke-width="1.15"/>
<circle cx="435.70" cy="367.23" r="1.95" fill="none" stroke="#D95319" stroke-width="1.15"/>
<circle cx="442.59" cy="368.63" r="1.95" fill="none" stroke="#D95319" stroke-width="1.15"/>
<circle cx="449.47" cy="370.04" r="1.95" fill="none" stroke="#D95319" stroke-width="1.15"/>
<circle cx="456.36" cy="371.44" r="1.95" fill="none" stroke="#D95319" stroke-width="1.15"/>
<circle cx="463.25" cy="372.37" r="1.95" fill="none" stroke="#D95319" stroke-width="1.15"/>
<circle cx="470.13" cy="373.77" r="1.95" fill="none" stroke="#D95319" stroke-width="1.15"/>
<circle cx="477.02" cy="375.17" r="1.95" fill="none" stroke="#D95319" stroke-width="1.15"/>
<circle cx="483.91" cy="376.11" r="1.95" fill="none" stroke="#D95319" stroke-width="1.15"/>
<circle cx="490.79" cy="377.51" r="1.95" fill="none" stroke="#D95319" stroke-width="1.15"/>
<circle cx="497.68" cy="378.44" r="1.95" fill="none" stroke="#D95319" stroke-width="1.15"/>
<circle cx="504.57" cy="379.38" r="1.95" fill="none" stroke="#D95319" stroke-width="1.15"/>
<circle cx="511.45" cy="380.78" r="1.95" fill="none" stroke="#D95319" stroke-width="1.15"/>
<circle cx="518.34" cy="382.18" r="1.95" fill="none" stroke="#D95319" stroke-width="1.15"/>
<circle cx="525.23" cy="383.12" r="1.95" fill="none" stroke="#D95319" stroke-width="1.15"/>
<circle cx="532.11" cy="384.05" r="1.95" fill="none" stroke="#D95319" stroke-width="1.15"/>
<circle cx="539.00" cy="384.98" r="1.95" fill="none" stroke="#D95319" stroke-width="1.15"/>
<polyline points="339.29,249.05 346.17,253.72 353.06,255.59 359.95,256.52 366.83,257.45 373.72,257.92 380.61,258.39 387.49,259.32 394.38,260.26 401.27,261.19 408.15,261.66 415.04,262.59 421.93,263.53 428.81,264.46 435.70,265.40 442.59,266.80 449.47,268.20 456.36,270.53 463.25,272.40 470.13,275.21 477.02,277.54 483.91,280.81 490.79,284.08 497.68,287.82 504.57,291.09 511.45,294.36 518.34,297.63 525.23,300.43 532.11,303.23 539.00,305.57" fill="none" stroke="#EDB120" stroke-width="1.5" stroke-linejoin="round"/>
<polygon points="339.29,245.75 340.02,248.03 342.43,248.03 340.48,249.43 341.23,251.72 339.29,250.30 337.35,251.72 338.09,249.43 336.15,248.03 338.55,248.03" fill="#EDB120" stroke="#EDB120" stroke-width="0.5"/>
<polygon points="346.17,250.42 346.91,252.70 349.31,252.70 347.37,254.10 348.11,256.39 346.17,254.97 344.23,256.39 344.98,254.10 343.03,252.70 345.44,252.70" fill="#EDB120" stroke="#EDB120" stroke-width="0.5"/>
<polygon points="353.06,252.29 353.80,254.57 356.20,254.57 354.25,255.97 355.00,258.26 353.06,256.84 351.12,258.26 351.87,255.97 349.92,254.57 352.32,254.57" fill="#EDB120" stroke="#EDB120" stroke-width="0.5"/>
<polygon points="359.95,253.22 360.68,255.51 363.09,255.50 361.14,256.91 361.89,259.19 359.95,257.77 358.01,259.19 358.75,256.91 356.81,255.50 359.21,255.51" fill="#EDB120" stroke="#EDB120" stroke-width="0.5"/>
<polygon points="366.83,254.15 367.57,256.44 369.97,256.43 368.03,257.84 368.77,260.12 366.83,258.71 364.89,260.12 365.64,257.84 363.69,256.43 366.10,256.44" fill="#EDB120" stroke="#EDB120" stroke-width="0.5"/>
<polygon points="373.72,254.62 374.46,256.91 376.86,256.90 374.91,258.31 375.66,260.59 373.72,259.18 371.78,260.59 372.53,258.31 370.58,256.90 372.98,256.91" fill="#EDB120" stroke="#EDB120" stroke-width="0.5"/>
<polygon points="380.61,255.09 381.34,257.37 383.75,257.37 381.80,258.78 382.55,261.06 380.61,259.64 378.67,261.06 379.41,258.78 377.47,257.37 379.87,257.37" fill="#EDB120" stroke="#EDB120" stroke-width="0.5"/>
<polygon points="387.49,256.02 388.23,258.31 390.63,258.30 388.69,259.71 389.43,261.99 387.49,260.58 385.55,261.99 386.30,259.71 384.35,258.30 386.76,258.31" fill="#EDB120" stroke="#EDB120" stroke-width="0.5"/>
<polygon points="394.38,256.96 395.12,259.24 397.52,259.24 395.57,260.64 396.32,262.93 394.38,261.51 392.44,262.93 393.19,260.64 391.24,259.24 393.64,259.24" fill="#EDB120" stroke="#EDB120" stroke-width="0.5"/>
<polygon points="401.27,257.89 402.00,260.18 404.41,260.17 402.46,261.58 403.21,263.86 401.27,262.45 399.33,263.86 400.07,261.58 398.13,260.17 400.53,260.18" fill="#EDB120" stroke="#EDB120" stroke-width="0.5"/>
<polygon points="408.15,258.36 408.89,260.64 411.29,260.64 409.35,262.05 410.09,264.33 408.15,262.91 406.21,264.33 406.96,262.05 405.01,260.64 407.42,260.64" fill="#EDB120" stroke="#EDB120" stroke-width="0.5"/>
<polygon points="415.04,259.29 415.78,261.58 418.18,261.57 416.23,262.98 416.98,265.26 415.04,263.85 413.10,265.26 413.85,262.98 411.90,261.57 414.30,261.58" fill="#EDB120" stroke="#EDB120" stroke-width="0.5"/>
<polygon points="421.93,260.23 422.66,262.51 425.07,262.51 423.12,263.91 423.87,266.20 421.93,264.78 419.99,266.20 420.73,263.91 418.79,262.51 421.19,262.51" fill="#EDB120" stroke="#EDB120" stroke-width="0.5"/>
<polygon points="428.81,261.16 429.55,263.45 431.95,263.44 430.01,264.85 430.75,267.13 428.81,265.72 426.87,267.13 427.62,264.85 425.67,263.44 428.08,263.45" fill="#EDB120" stroke="#EDB120" stroke-width="0.5"/>
<polygon points="435.70,262.10 436.44,264.38 438.84,264.38 436.89,265.78 437.64,268.07 435.70,266.65 433.76,268.07 434.51,265.78 432.56,264.38 434.96,264.38" fill="#EDB120" stroke="#EDB120" stroke-width="0.5"/>
<polygon points="442.59,263.50 443.32,265.78 445.73,265.78 443.78,267.18 444.53,269.47 442.59,268.05 440.65,269.47 441.39,267.18 439.45,265.78 441.85,265.78" fill="#EDB120" stroke="#EDB120" stroke-width="0.5"/>
<polygon points="449.47,264.90 450.21,267.18 452.61,267.18 450.67,268.59 451.41,270.87 449.47,269.45 447.53,270.87 448.28,268.59 446.33,267.18 448.74,267.18" fill="#EDB120" stroke="#EDB120" stroke-width="0.5"/>
<polygon points="456.36,267.23 457.10,269.52 459.50,269.51 457.55,270.92 458.30,273.20 456.36,271.79 454.42,273.20 455.17,270.92 453.22,269.51 455.62,269.52" fill="#EDB120" stroke="#EDB120" stroke-width="0.5"/>
<polygon points="463.25,269.10 463.98,271.39 466.39,271.38 464.44,272.79 465.19,275.07 463.25,273.66 461.31,275.07 462.05,272.79 460.11,271.38 462.51,271.39" fill="#EDB120" stroke="#EDB120" stroke-width="0.5"/>
<polygon points="470.13,271.91 470.87,274.19 473.27,274.19 471.33,275.59 472.07,277.88 470.13,276.46 468.19,277.88 468.94,275.59 466.99,274.19 469.40,274.19" fill="#EDB120" stroke="#EDB120" stroke-width="0.5"/>
<polygon points="477.02,274.24 477.76,276.53 480.16,276.52 478.21,277.93 478.96,280.21 477.02,278.80 475.08,280.21 475.83,277.93 473.88,276.52 476.28,276.53" fill="#EDB120" stroke="#EDB120" stroke-width="0.5"/>
<polygon points="483.91,277.51 484.64,279.80 487.05,279.79 485.10,281.20 485.85,283.48 483.91,282.07 481.97,283.48 482.71,281.20 480.77,279.79 483.17,279.80" fill="#EDB120" stroke="#EDB120" stroke-width="0.5"/>
<polygon points="490.79,280.78 491.53,283.07 493.93,283.06 491.99,284.47 492.73,286.75 490.79,285.34 488.85,286.75 489.60,284.47 487.65,283.06 490.06,283.07" fill="#EDB120" stroke="#EDB120" stroke-width="0.5"/>
<polygon points="497.68,284.52 498.42,286.80 500.82,286.80 498.87,288.21 499.62,290.49 497.68,289.07 495.74,290.49 496.49,288.21 494.54,286.80 496.94,286.80" fill="#EDB120" stroke="#EDB120" stroke-width="0.5"/>
<polygon points="504.57,287.79 505.30,290.07 507.71,290.07 505.76,291.48 506.51,293.76 504.57,292.34 502.63,293.76 503.37,291.48 501.43,290.07 503.83,290.07" fill="#EDB120" stroke="#EDB120" stroke-width="0.5"/>
<polygon points="511.45,291.06 512.19,293.34 514.59,293.34 512.65,294.75 513.39,297.03 511.45,295.61 509.51,297.03 510.26,294.75 508.31,293.34 510.72,293.34" fill="#EDB120" stroke="#EDB120" stroke-width="0.5"/>
<polygon points="518.34,294.33 519.08,296.61 521.48,296.61 519.53,298.02 520.28,300.30 518.34,298.88 516.40,300.30 517.15,298.02 515.20,296.61 517.60,296.61" fill="#EDB120" stroke="#EDB120" stroke-width="0.5"/>
<polygon points="525.23,297.13 525.96,299.42 528.37,299.41 526.42,300.82 527.17,303.10 525.23,301.69 523.29,303.10 524.03,300.82 522.09,299.41 524.49,299.42" fill="#EDB120" stroke="#EDB120" stroke-width="0.5"/>
<polygon points="532.11,299.93 532.85,302.22 535.25,302.21 533.31,303.62 534.05,305.90 532.11,304.49 530.17,305.90 530.92,303.62 528.97,302.21 531.38,302.22" fill="#EDB120" stroke="#EDB120" stroke-width="0.5"/>
<polygon points="539.00,302.27 539.74,304.56 542.14,304.55 540.19,305.96 540.94,308.24 539.00,306.82 537.06,308.24 537.81,305.96 535.86,304.55 538.26,304.56" fill="#EDB120" stroke="#EDB120" stroke-width="0.5"/>
<polyline points="339.29,241.57 346.17,269.60 353.06,283.61 359.95,292.96 366.83,299.50 373.72,304.64 380.61,308.37 387.49,312.11 394.38,314.91 401.27,317.72 408.15,320.05 415.04,322.39 421.93,324.26 428.81,326.59 435.70,328.46 442.59,329.86 449.47,332.20 456.36,333.60 463.25,335.47 470.13,337.34 477.02,339.20 483.91,341.54 490.79,343.41 497.68,345.28 504.57,347.61 511.45,349.48 518.34,350.88 525.23,353.22 532.11,354.62 539.00,356.49" fill="none" stroke="#7E2F8E" stroke-width="1.5" stroke-linejoin="round"/>
<circle cx="339.29" cy="241.57" r="2.15" fill="#7E2F8E"/>
<circle cx="346.17" cy="269.60" r="2.15" fill="#7E2F8E"/>
<circle cx="353.06" cy="283.61" r="2.15" fill="#7E2F8E"/>
<circle cx="359.95" cy="292.96" r="2.15" fill="#7E2F8E"/>
<circle cx="366.83" cy="299.50" r="2.15" fill="#7E2F8E"/>
<circle cx="373.72" cy="304.64" r="2.15" fill="#7E2F8E"/>
<circle cx="380.61" cy="308.37" r="2.15" fill="#7E2F8E"/>
<circle cx="387.49" cy="312.11" r="2.15" fill="#7E2F8E"/>
<circle cx="394.38" cy="314.91" r="2.15" fill="#7E2F8E"/>
<circle cx="401.27" cy="317.72" r="2.15" fill="#7E2F8E"/>
<circle cx="408.15" cy="320.05" r="2.15" fill="#7E2F8E"/>
<circle cx="415.04" cy="322.39" r="2.15" fill="#7E2F8E"/>
<circle cx="421.93" cy="324.26" r="2.15" fill="#7E2F8E"/>
<circle cx="428.81" cy="326.59" r="2.15" fill="#7E2F8E"/>
<circle cx="435.70" cy="328.46" r="2.15" fill="#7E2F8E"/>
<circle cx="442.59" cy="329.86" r="2.15" fill="#7E2F8E"/>
<circle cx="449.47" cy="332.20" r="2.15" fill="#7E2F8E"/>
<circle cx="456.36" cy="333.60" r="2.15" fill="#7E2F8E"/>
<circle cx="463.25" cy="335.47" r="2.15" fill="#7E2F8E"/>
<circle cx="470.13" cy="337.34" r="2.15" fill="#7E2F8E"/>
<circle cx="477.02" cy="339.20" r="2.15" fill="#7E2F8E"/>
<circle cx="483.91" cy="341.54" r="2.15" fill="#7E2F8E"/>
<circle cx="490.79" cy="343.41" r="2.15" fill="#7E2F8E"/>
<circle cx="497.68" cy="345.28" r="2.15" fill="#7E2F8E"/>
<circle cx="504.57" cy="347.61" r="2.15" fill="#7E2F8E"/>
<circle cx="511.45" cy="349.48" r="2.15" fill="#7E2F8E"/>
<circle cx="518.34" cy="350.88" r="2.15" fill="#7E2F8E"/>
<circle cx="525.23" cy="353.22" r="2.15" fill="#7E2F8E"/>
<circle cx="532.11" cy="354.62" r="2.15" fill="#7E2F8E"/>
<circle cx="539.00" cy="356.49" r="2.15" fill="#7E2F8E"/>
<rect x="492.90" y="242.80" width="40.3" height="33.0" fill="#fff" stroke="#9c9c9c" stroke-width="0.9"/>
<line x1="494.90" y1="247.70" x2="509.20" y2="247.70" stroke="#0072BD" stroke-width="1.1"/>
<polygon points="502.00,245.10 504.00,247.70 502.00,250.30 500.00,247.70" fill="none" stroke="#0072BD" stroke-width="1.5"/>
<text x="510.50" y="250.00" class="lg">NMPBB</text>
<line x1="494.90" y1="255.50" x2="509.20" y2="255.50" stroke="#D95319" stroke-width="1.1"/>
<circle cx="502.00" cy="255.50" r="1.95" fill="none" stroke="#D95319" stroke-width="1.15"/>
<text x="510.50" y="257.80" class="lg">QRPBB</text>
<line x1="494.90" y1="263.30" x2="509.20" y2="263.30" stroke="#EDB120" stroke-width="1.1"/>
<polygon points="502.00,260.00 502.74,262.29 505.14,262.28 503.19,263.69 503.94,265.97 502.00,264.55 500.06,265.97 500.81,263.69 498.86,262.28 501.26,262.29" fill="#EDB120" stroke="#EDB120" stroke-width="0.5"/>
<text x="510.50" y="265.60" class="lg">BCD</text>
<line x1="494.90" y1="271.10" x2="509.20" y2="271.10" stroke="#7E2F8E" stroke-width="1.1"/>
<circle cx="502.00" cy="271.10" r="2.15" fill="#7E2F8E"/>
<text x="510.50" y="273.40" class="lg">HALS</text>
<text x="429.50" y="431.00" class="cap" text-anchor="middle"><tspan font-weight="bold">(d)</tspan> (m n r) = (6000 2000 40)</text>
<rect x="33.5" y="461.0" width="207.00" height="163.40" fill="#fff" stroke="#9c9c9c" stroke-width="1.3"/>
<line x1="33.50" y1="624.4" x2="33.50" y2="622.4" stroke="#707070" stroke-width="0.9"/>
<line x1="33.50" y1="461.0" x2="33.50" y2="463.0" stroke="#707070" stroke-width="0.9"/>
<text x="33.50" y="634.10" class="tk" text-anchor="middle">0</text>
<line x1="68.00" y1="624.4" x2="68.00" y2="622.4" stroke="#707070" stroke-width="0.9"/>
<line x1="68.00" y1="461.0" x2="68.00" y2="463.0" stroke="#707070" stroke-width="0.9"/>
<text x="68.00" y="634.10" class="tk" text-anchor="middle">5</text>
<line x1="102.50" y1="624.4" x2="102.50" y2="622.4" stroke="#707070" stroke-width="0.9"/>
<line x1="102.50" y1="461.0" x2="102.50" y2="463.0" stroke="#707070" stroke-width="0.9"/>
<text x="102.50" y="634.10" class="tk" text-anchor="middle">10</text>
<line x1="137.00" y1="624.4" x2="137.00" y2="622.4" stroke="#707070" stroke-width="0.9"/>
<line x1="137.00" y1="461.0" x2="137.00" y2="463.0" stroke="#707070" stroke-width="0.9"/>
<text x="137.00" y="634.10" class="tk" text-anchor="middle">15</text>
<line x1="171.50" y1="624.4" x2="171.50" y2="622.4" stroke="#707070" stroke-width="0.9"/>
<line x1="171.50" y1="461.0" x2="171.50" y2="463.0" stroke="#707070" stroke-width="0.9"/>
<text x="171.50" y="634.10" class="tk" text-anchor="middle">20</text>
<line x1="206.00" y1="624.4" x2="206.00" y2="622.4" stroke="#707070" stroke-width="0.9"/>
<line x1="206.00" y1="461.0" x2="206.00" y2="463.0" stroke="#707070" stroke-width="0.9"/>
<text x="206.00" y="634.10" class="tk" text-anchor="middle">25</text>
<line x1="240.50" y1="624.4" x2="240.50" y2="622.4" stroke="#707070" stroke-width="0.9"/>
<line x1="240.50" y1="461.0" x2="240.50" y2="463.0" stroke="#707070" stroke-width="0.9"/>
<text x="240.50" y="634.10" class="tk" text-anchor="middle">30</text>
<line x1="33.5" y1="624.40" x2="35.5" y2="624.40" stroke="#707070" stroke-width="0.9"/>
<line x1="240.5" y1="624.40" x2="238.5" y2="624.40" stroke="#707070" stroke-width="0.9"/>
<text x="31.00" y="627.30" class="tk" text-anchor="end">0</text>
<line x1="33.5" y1="601.06" x2="35.5" y2="601.06" stroke="#707070" stroke-width="0.9"/>
<line x1="240.5" y1="601.06" x2="238.5" y2="601.06" stroke="#707070" stroke-width="0.9"/>
<text x="31.00" y="603.96" class="tk" text-anchor="end">0.05</text>
<line x1="33.5" y1="577.71" x2="35.5" y2="577.71" stroke="#707070" stroke-width="0.9"/>
<line x1="240.5" y1="577.71" x2="238.5" y2="577.71" stroke="#707070" stroke-width="0.9"/>
<text x="31.00" y="580.61" class="tk" text-anchor="end">0.1</text>
<line x1="33.5" y1="554.37" x2="35.5" y2="554.37" stroke="#707070" stroke-width="0.9"/>
<line x1="240.5" y1="554.37" x2="238.5" y2="554.37" stroke="#707070" stroke-width="0.9"/>
<text x="31.00" y="557.27" class="tk" text-anchor="end">0.15</text>
<line x1="33.5" y1="531.03" x2="35.5" y2="531.03" stroke="#707070" stroke-width="0.9"/>
<line x1="240.5" y1="531.03" x2="238.5" y2="531.03" stroke="#707070" stroke-width="0.9"/>
<text x="31.00" y="533.93" class="tk" text-anchor="end">0.2</text>
<line x1="33.5" y1="507.69" x2="35.5" y2="507.69" stroke="#707070" stroke-width="0.9"/>
<line x1="240.5" y1="507.69" x2="238.5" y2="507.69" stroke="#707070" stroke-width="0.9"/>
<text x="31.00" y="510.59" class="tk" text-anchor="end">0.25</text>
<line x1="33.5" y1="484.34" x2="35.5" y2="484.34" stroke="#707070" stroke-width="0.9"/>
<line x1="240.5" y1="484.34" x2="238.5" y2="484.34" stroke="#707070" stroke-width="0.9"/>
<text x="31.00" y="487.24" class="tk" text-anchor="end">0.3</text>
<line x1="33.5" y1="461.00" x2="35.5" y2="461.00" stroke="#707070" stroke-width="0.9"/>
<line x1="240.5" y1="461.00" x2="238.5" y2="461.00" stroke="#707070" stroke-width="0.9"/>
<text x="31.00" y="463.90" class="tk" text-anchor="end">0.35</text>
<text x="137.00" y="457.70" class="tt" text-anchor="middle">Relative residual</text>
<text x="137.00" y="644.00" class="tk" text-anchor="middle">iteration</text>
<text transform="translate(12.20,542.70) rotate(-90)" class="yl" text-anchor="middle">||WH - V||<tspan class="sub" dy="3.0">F</tspan><tspan dy="-3.0">/||V||</tspan><tspan class="sub" dy="3.0">F</tspan></text>
<polyline points="40.40,473.61 47.30,532.90 54.20,549.70 61.10,560.44 68.00,569.78 74.90,578.18 81.80,587.05 88.70,594.99 95.60,599.66 102.50,604.79 109.40,608.06 116.30,609.46 123.20,610.39 130.10,610.86 137.00,611.33 143.90,611.79 150.80,611.79 157.70,611.79 164.60,611.79 171.50,611.79 178.40,611.79 185.30,611.79 192.20,611.79 199.10,611.79 206.00,611.79 212.90,611.79 219.80,611.79 226.70,611.79 233.60,611.79 240.50,611.79" fill="none" stroke="#0072BD" stroke-width="1.5" stroke-linejoin="round"/>
<polygon points="40.40,471.01 42.40,473.61 40.40,476.21 38.40,473.61" fill="none" stroke="#0072BD" stroke-width="1.5"/>
<polygon points="47.30,530.30 49.30,532.90 47.30,535.50 45.30,532.90" fill="none" stroke="#0072BD" stroke-width="1.5"/>
<polygon points="54.20,547.10 56.20,549.70 54.20,552.30 52.20,549.70" fill="none" stroke="#0072BD" stroke-width="1.5"/>
<polygon points="61.10,557.84 63.10,560.44 61.10,563.04 59.10,560.44" fill="none" stroke="#0072BD" stroke-width="1.5"/>
<polygon points="68.00,567.18 70.00,569.78 68.00,572.38 66.00,569.78" fill="none" stroke="#0072BD" stroke-width="1.5"/>
<polygon points="74.90,575.58 76.90,578.18 74.90,580.78 72.90,578.18" fill="none" stroke="#0072BD" stroke-width="1.5"/>
<polygon points="81.80,584.45 83.80,587.05 81.80,589.65 79.80,587.05" fill="none" stroke="#0072BD" stroke-width="1.5"/>
<polygon points="88.70,592.39 90.70,594.99 88.70,597.59 86.70,594.99" fill="none" stroke="#0072BD" stroke-width="1.5"/>
<polygon points="95.60,597.06 97.60,599.66 95.60,602.26 93.60,599.66" fill="none" stroke="#0072BD" stroke-width="1.5"/>
<polygon points="102.50,602.19 104.50,604.79 102.50,607.39 100.50,604.79" fill="none" stroke="#0072BD" stroke-width="1.5"/>
<polygon points="109.40,605.46 111.40,608.06 109.40,610.66 107.40,608.06" fill="none" stroke="#0072BD" stroke-width="1.5"/>
<polygon points="116.30,606.86 118.30,609.46 116.30,612.06 114.30,609.46" fill="none" stroke="#0072BD" stroke-width="1.5"/>
<polygon points="123.20,607.79 125.20,610.39 123.20,612.99 121.20,610.39" fill="none" stroke="#0072BD" stroke-width="1.5"/>
<polygon points="130.10,608.26 132.10,610.86 130.10,613.46 128.10,610.86" fill="none" stroke="#0072BD" stroke-width="1.5"/>
<polygon points="137.00,608.73 139.00,611.33 137.00,613.93 135.00,611.33" fill="none" stroke="#0072BD" stroke-width="1.5"/>
<polygon points="143.90,609.19 145.90,611.79 143.90,614.39 141.90,611.79" fill="none" stroke="#0072BD" stroke-width="1.5"/>
<polygon points="150.80,609.19 152.80,611.79 150.80,614.39 148.80,611.79" fill="none" stroke="#0072BD" stroke-width="1.5"/>
<polygon points="157.70,609.19 159.70,611.79 157.70,614.39 155.70,611.79" fill="none" stroke="#0072BD" stroke-width="1.5"/>
<polygon points="164.60,609.19 166.60,611.79 164.60,614.39 162.60,611.79" fill="none" stroke="#0072BD" stroke-width="1.5"/>
<polygon points="171.50,609.19 173.50,611.79 171.50,614.39 169.50,611.79" fill="none" stroke="#0072BD" stroke-width="1.5"/>
<polygon points="178.40,609.19 180.40,611.79 178.40,614.39 176.40,611.79" fill="none" stroke="#0072BD" stroke-width="1.5"/>
<polygon points="185.30,609.19 187.30,611.79 185.30,614.39 183.30,611.79" fill="none" stroke="#0072BD" stroke-width="1.5"/>
<polygon points="192.20,609.19 194.20,611.79 192.20,614.39 190.20,611.79" fill="none" stroke="#0072BD" stroke-width="1.5"/>
<polygon points="199.10,609.19 201.10,611.79 199.10,614.39 197.10,611.79" fill="none" stroke="#0072BD" stroke-width="1.5"/>
<polygon points="206.00,609.19 208.00,611.79 206.00,614.39 204.00,611.79" fill="none" stroke="#0072BD" stroke-width="1.5"/>
<polygon points="212.90,609.19 214.90,611.79 212.90,614.39 210.90,611.79" fill="none" stroke="#0072BD" stroke-width="1.5"/>
<polygon points="219.80,609.19 221.80,611.79 219.80,614.39 217.80,611.79" fill="none" stroke="#0072BD" stroke-width="1.5"/>
<polygon points="226.70,609.19 228.70,611.79 226.70,614.39 224.70,611.79" fill="none" stroke="#0072BD" stroke-width="1.5"/>
<polygon points="233.60,609.19 235.60,611.79 233.60,614.39 231.60,611.79" fill="none" stroke="#0072BD" stroke-width="1.5"/>
<polygon points="240.50,609.19 242.50,611.79 240.50,614.39 238.50,611.79" fill="none" stroke="#0072BD" stroke-width="1.5"/>
<polyline points="40.40,516.09 47.30,543.63 54.20,550.17 61.10,553.44 68.00,555.77 74.90,558.11 81.80,559.97 88.70,561.84 95.60,564.18 102.50,566.98 109.40,570.24 116.30,573.51 123.20,576.31 130.10,579.58 137.00,582.85 143.90,585.65 150.80,587.99 157.70,589.85 164.60,592.19 171.50,593.59 178.40,594.99 185.30,595.92 192.20,596.86 199.10,597.79 206.00,599.19 212.90,599.66 219.80,600.59 226.70,601.06 233.60,601.52 240.50,602.46" fill="none" stroke="#D95319" stroke-width="1.5" stroke-linejoin="round"/>
<circle cx="40.40" cy="516.09" r="1.95" fill="none" stroke="#D95319" stroke-width="1.15"/>
<circle cx="47.30" cy="543.63" r="1.95" fill="none" stroke="#D95319" stroke-width="1.15"/>
<circle cx="54.20" cy="550.17" r="1.95" fill="none" stroke="#D95319" stroke-width="1.15"/>
<circle cx="61.10" cy="553.44" r="1.95" fill="none" stroke="#D95319" stroke-width="1.15"/>
<circle cx="68.00" cy="555.77" r="1.95" fill="none" stroke="#D95319" stroke-width="1.15"/>
<circle cx="74.90" cy="558.11" r="1.95" fill="none" stroke="#D95319" stroke-width="1.15"/>
<circle cx="81.80" cy="559.97" r="1.95" fill="none" stroke="#D95319" stroke-width="1.15"/>
<circle cx="88.70" cy="561.84" r="1.95" fill="none" stroke="#D95319" stroke-width="1.15"/>
<circle cx="95.60" cy="564.18" r="1.95" fill="none" stroke="#D95319" stroke-width="1.15"/>
<circle cx="102.50" cy="566.98" r="1.95" fill="none" stroke="#D95319" stroke-width="1.15"/>
<circle cx="109.40" cy="570.24" r="1.95" fill="none" stroke="#D95319" stroke-width="1.15"/>
<circle cx="116.30" cy="573.51" r="1.95" fill="none" stroke="#D95319" stroke-width="1.15"/>
<circle cx="123.20" cy="576.31" r="1.95" fill="none" stroke="#D95319" stroke-width="1.15"/>
<circle cx="130.10" cy="579.58" r="1.95" fill="none" stroke="#D95319" stroke-width="1.15"/>
<circle cx="137.00" cy="582.85" r="1.95" fill="none" stroke="#D95319" stroke-width="1.15"/>
<circle cx="143.90" cy="585.65" r="1.95" fill="none" stroke="#D95319" stroke-width="1.15"/>
<circle cx="150.80" cy="587.99" r="1.95" fill="none" stroke="#D95319" stroke-width="1.15"/>
<circle cx="157.70" cy="589.85" r="1.95" fill="none" stroke="#D95319" stroke-width="1.15"/>
<circle cx="164.60" cy="592.19" r="1.95" fill="none" stroke="#D95319" stroke-width="1.15"/>
<circle cx="171.50" cy="593.59" r="1.95" fill="none" stroke="#D95319" stroke-width="1.15"/>
<circle cx="178.40" cy="594.99" r="1.95" fill="none" stroke="#D95319" stroke-width="1.15"/>
<circle cx="185.30" cy="595.92" r="1.95" fill="none" stroke="#D95319" stroke-width="1.15"/>
<circle cx="192.20" cy="596.86" r="1.95" fill="none" stroke="#D95319" stroke-width="1.15"/>
<circle cx="199.10" cy="597.79" r="1.95" fill="none" stroke="#D95319" stroke-width="1.15"/>
<circle cx="206.00" cy="599.19" r="1.95" fill="none" stroke="#D95319" stroke-width="1.15"/>
<circle cx="212.90" cy="599.66" r="1.95" fill="none" stroke="#D95319" stroke-width="1.15"/>
<circle cx="219.80" cy="600.59" r="1.95" fill="none" stroke="#D95319" stroke-width="1.15"/>
<circle cx="226.70" cy="601.06" r="1.95" fill="none" stroke="#D95319" stroke-width="1.15"/>
<circle cx="233.60" cy="601.52" r="1.95" fill="none" stroke="#D95319" stroke-width="1.15"/>
<circle cx="240.50" cy="602.46" r="1.95" fill="none" stroke="#D95319" stroke-width="1.15"/>
<polyline points="40.40,485.28 47.30,489.48 54.20,491.35 61.10,492.28 68.00,493.21 74.90,493.68 81.80,494.15 88.70,494.61 95.60,495.08 102.50,495.55 109.40,496.01 116.30,496.48 123.20,496.95 130.10,497.41 137.00,497.41 143.90,497.88 150.80,498.35 157.70,498.82 164.60,498.82 171.50,499.75 178.40,500.22 185.30,501.62 192.20,502.55 199.10,503.95 206.00,505.82 212.90,507.69 219.80,509.55 226.70,511.89 233.60,514.69 240.50,517.49" fill="none" stroke="#EDB120" stroke-width="1.5" stroke-linejoin="round"/>
<polygon points="40.40,481.98 41.14,484.26 43.54,484.26 41.59,485.66 42.34,487.95 40.40,486.53 38.46,487.95 39.21,485.66 37.26,484.26 39.66,484.26" fill="#EDB120" stroke="#EDB120" stroke-width="0.5"/>
<polygon points="47.30,486.18 48.04,488.46 50.44,488.46 48.49,489.87 49.24,492.15 47.30,490.73 45.36,492.15 46.11,489.87 44.16,488.46 46.56,488.46" fill="#EDB120" stroke="#EDB120" stroke-width="0.5"/>
<polygon points="54.20,488.05 54.94,490.33 57.34,490.33 55.39,491.73 56.14,494.02 54.20,492.60 52.26,494.02 53.01,491.73 51.06,490.33 53.46,490.33" fill="#EDB120" stroke="#EDB120" stroke-width="0.5"/>
<polygon points="61.10,488.98 61.84,491.26 64.24,491.26 62.29,492.67 63.04,494.95 61.10,493.53 59.16,494.95 59.91,492.67 57.96,491.26 60.36,491.26" fill="#EDB120" stroke="#EDB120" stroke-width="0.5"/>
<polygon points="68.00,489.91 68.74,492.20 71.14,492.19 69.19,493.60 69.94,495.88 68.00,494.47 66.06,495.88 66.81,493.60 64.86,492.19 67.26,492.20" fill="#EDB120" stroke="#EDB120" stroke-width="0.5"/>
<polygon points="74.90,490.38 75.64,492.67 78.04,492.66 76.09,494.07 76.84,496.35 74.90,494.93 72.96,496.35 73.71,494.07 71.76,492.66 74.16,492.67" fill="#EDB120" stroke="#EDB120" stroke-width="0.5"/>
<polygon points="81.80,490.85 82.54,493.13 84.94,493.13 82.99,494.53 83.74,496.82 81.80,495.40 79.86,496.82 80.61,494.53 78.66,493.13 81.06,493.13" fill="#EDB120" stroke="#EDB120" stroke-width="0.5"/>
<polygon points="88.70,491.31 89.44,493.60 91.84,493.59 89.89,495.00 90.64,497.28 88.70,495.87 86.76,497.28 87.51,495.00 85.56,493.59 87.96,493.60" fill="#EDB120" stroke="#EDB120" stroke-width="0.5"/>
<polygon points="95.60,491.78 96.34,494.07 98.74,494.06 96.79,495.47 97.54,497.75 95.60,496.33 93.66,497.75 94.41,495.47 92.46,494.06 94.86,494.07" fill="#EDB120" stroke="#EDB120" stroke-width="0.5"/>
<polygon points="102.50,492.25 103.24,494.53 105.64,494.53 103.69,495.93 104.44,498.22 102.50,496.80 100.56,498.22 101.31,495.93 99.36,494.53 101.76,494.53" fill="#EDB120" stroke="#EDB120" stroke-width="0.5"/>
<polygon points="109.40,492.71 110.14,495.00 112.54,494.99 110.59,496.40 111.34,498.68 109.40,497.27 107.46,498.68 108.21,496.40 106.26,494.99 108.66,495.00" fill="#EDB120" stroke="#EDB120" stroke-width="0.5"/>
<polygon points="116.30,493.18 117.04,495.47 119.44,495.46 117.49,496.87 118.24,499.15 116.30,497.74 114.36,499.15 115.11,496.87 113.16,495.46 115.56,495.47" fill="#EDB120" stroke="#EDB120" stroke-width="0.5"/>
<polygon points="123.20,493.65 123.94,495.93 126.34,495.93 124.39,497.34 125.14,499.62 123.20,498.20 121.26,499.62 122.01,497.34 120.06,495.93 122.46,495.93" fill="#EDB120" stroke="#EDB120" stroke-width="0.5"/>
<polygon points="130.10,494.11 130.84,496.40 133.24,496.40 131.29,497.80 132.04,500.08 130.10,498.67 128.16,500.08 128.91,497.80 126.96,496.40 129.36,496.40" fill="#EDB120" stroke="#EDB120" stroke-width="0.5"/>
<polygon points="137.00,494.11 137.74,496.40 140.14,496.40 138.19,497.80 138.94,500.08 137.00,498.67 135.06,500.08 135.81,497.80 133.86,496.40 136.26,496.40" fill="#EDB120" stroke="#EDB120" stroke-width="0.5"/>
<polygon points="143.90,494.58 144.64,496.87 147.04,496.86 145.09,498.27 145.84,500.55 143.90,499.14 141.96,500.55 142.71,498.27 140.76,496.86 143.16,496.87" fill="#EDB120" stroke="#EDB120" stroke-width="0.5"/>
<polygon points="150.80,495.05 151.54,497.33 153.94,497.33 151.99,498.74 152.74,501.02 150.80,499.60 148.86,501.02 149.61,498.74 147.66,497.33 150.06,497.33" fill="#EDB120" stroke="#EDB120" stroke-width="0.5"/>
<polygon points="157.70,495.52 158.44,497.80 160.84,497.80 158.89,499.20 159.64,501.49 157.70,500.07 155.76,501.49 156.51,499.20 154.56,497.80 156.96,497.80" fill="#EDB120" stroke="#EDB120" stroke-width="0.5"/>
<polygon points="164.60,495.52 165.34,497.80 167.74,497.80 165.79,499.20 166.54,501.49 164.60,500.07 162.66,501.49 163.41,499.20 161.46,497.80 163.86,497.80" fill="#EDB120" stroke="#EDB120" stroke-width="0.5"/>
<polygon points="171.50,496.45 172.24,498.73 174.64,498.73 172.69,500.14 173.44,502.42 171.50,501.00 169.56,502.42 170.31,500.14 168.36,498.73 170.76,498.73" fill="#EDB120" stroke="#EDB120" stroke-width="0.5"/>
<polygon points="178.40,496.92 179.14,499.20 181.54,499.20 179.59,500.60 180.34,502.89 178.40,501.47 176.46,502.89 177.21,500.60 175.26,499.20 177.66,499.20" fill="#EDB120" stroke="#EDB120" stroke-width="0.5"/>
<polygon points="185.30,498.32 186.04,500.60 188.44,500.60 186.49,502.00 187.24,504.29 185.30,502.87 183.36,504.29 184.11,502.00 182.16,500.60 184.56,500.60" fill="#EDB120" stroke="#EDB120" stroke-width="0.5"/>
<polygon points="192.20,499.25 192.94,501.54 195.34,501.53 193.39,502.94 194.14,505.22 192.20,503.80 190.26,505.22 191.01,502.94 189.06,501.53 191.46,501.54" fill="#EDB120" stroke="#EDB120" stroke-width="0.5"/>
<polygon points="199.10,500.65 199.84,502.94 202.24,502.93 200.29,504.34 201.04,506.62 199.10,505.20 197.16,506.62 197.91,504.34 195.96,502.93 198.36,502.94" fill="#EDB120" stroke="#EDB120" stroke-width="0.5"/>
<polygon points="206.00,502.52 206.74,504.80 209.14,504.80 207.19,506.21 207.94,508.49 206.00,507.07 204.06,508.49 204.81,506.21 202.86,504.80 205.26,504.80" fill="#EDB120" stroke="#EDB120" stroke-width="0.5"/>
<polygon points="212.90,504.39 213.64,506.67 216.04,506.67 214.09,508.07 214.84,510.36 212.90,508.94 210.96,510.36 211.71,508.07 209.76,506.67 212.16,506.67" fill="#EDB120" stroke="#EDB120" stroke-width="0.5"/>
<polygon points="219.80,506.25 220.54,508.54 222.94,508.53 220.99,509.94 221.74,512.22 219.80,510.81 217.86,512.22 218.61,509.94 216.66,508.53 219.06,508.54" fill="#EDB120" stroke="#EDB120" stroke-width="0.5"/>
<polygon points="226.70,508.59 227.44,510.87 229.84,510.87 227.89,512.27 228.64,514.56 226.70,513.14 224.76,514.56 225.51,512.27 223.56,510.87 225.96,510.87" fill="#EDB120" stroke="#EDB120" stroke-width="0.5"/>
<polygon points="233.60,511.39 234.34,513.67 236.74,513.67 234.79,515.08 235.54,517.36 233.60,515.94 231.66,517.36 232.41,515.08 230.46,513.67 232.86,513.67" fill="#EDB120" stroke="#EDB120" stroke-width="0.5"/>
<polygon points="240.50,514.19 241.24,516.48 243.64,516.47 241.69,517.88 242.44,520.16 240.50,518.74 238.56,520.16 239.31,517.88 237.36,516.47 239.76,516.48" fill="#EDB120" stroke="#EDB120" stroke-width="0.5"/>
<polyline points="40.40,475.47 47.30,497.88 54.20,511.42 61.10,520.76 68.00,526.83 74.90,531.50 81.80,535.70 88.70,538.50 95.60,541.77 102.50,544.57 109.40,546.43 116.30,548.77 123.20,550.64 130.10,552.97 137.00,554.84 143.90,557.17 150.80,559.51 157.70,561.37 164.60,564.18 171.50,566.51 178.40,568.38 185.30,571.18 192.20,573.51 199.10,575.38 206.00,577.71 212.90,579.58 219.80,581.45 226.70,583.78 233.60,585.65 240.50,587.52" fill="none" stroke="#7E2F8E" stroke-width="1.5" stroke-linejoin="round"/>
<circle cx="40.40" cy="475.47" r="2.15" fill="#7E2F8E"/>
<circle cx="47.30" cy="497.88" r="2.15" fill="#7E2F8E"/>
<circle cx="54.20" cy="511.42" r="2.15" fill="#7E2F8E"/>
<circle cx="61.10" cy="520.76" r="2.15" fill="#7E2F8E"/>
<circle cx="68.00" cy="526.83" r="2.15" fill="#7E2F8E"/>
<circle cx="74.90" cy="531.50" r="2.15" fill="#7E2F8E"/>
<circle cx="81.80" cy="535.70" r="2.15" fill="#7E2F8E"/>
<circle cx="88.70" cy="538.50" r="2.15" fill="#7E2F8E"/>
<circle cx="95.60" cy="541.77" r="2.15" fill="#7E2F8E"/>
<circle cx="102.50" cy="544.57" r="2.15" fill="#7E2F8E"/>
<circle cx="109.40" cy="546.43" r="2.15" fill="#7E2F8E"/>
<circle cx="116.30" cy="548.77" r="2.15" fill="#7E2F8E"/>
<circle cx="123.20" cy="550.64" r="2.15" fill="#7E2F8E"/>
<circle cx="130.10" cy="552.97" r="2.15" fill="#7E2F8E"/>
<circle cx="137.00" cy="554.84" r="2.15" fill="#7E2F8E"/>
<circle cx="143.90" cy="557.17" r="2.15" fill="#7E2F8E"/>
<circle cx="150.80" cy="559.51" r="2.15" fill="#7E2F8E"/>
<circle cx="157.70" cy="561.37" r="2.15" fill="#7E2F8E"/>
<circle cx="164.60" cy="564.18" r="2.15" fill="#7E2F8E"/>
<circle cx="171.50" cy="566.51" r="2.15" fill="#7E2F8E"/>
<circle cx="178.40" cy="568.38" r="2.15" fill="#7E2F8E"/>
<circle cx="185.30" cy="571.18" r="2.15" fill="#7E2F8E"/>
<circle cx="192.20" cy="573.51" r="2.15" fill="#7E2F8E"/>
<circle cx="199.10" cy="575.38" r="2.15" fill="#7E2F8E"/>
<circle cx="206.00" cy="577.71" r="2.15" fill="#7E2F8E"/>
<circle cx="212.90" cy="579.58" r="2.15" fill="#7E2F8E"/>
<circle cx="219.80" cy="581.45" r="2.15" fill="#7E2F8E"/>
<circle cx="226.70" cy="583.78" r="2.15" fill="#7E2F8E"/>
<circle cx="233.60" cy="585.65" r="2.15" fill="#7E2F8E"/>
<circle cx="240.50" cy="587.52" r="2.15" fill="#7E2F8E"/>
<rect x="194.40" y="466.90" width="40.3" height="33.0" fill="#fff" stroke="#9c9c9c" stroke-width="0.9"/>
<line x1="196.40" y1="471.80" x2="210.70" y2="471.80" stroke="#0072BD" stroke-width="1.1"/>
<polygon points="203.50,469.20 205.50,471.80 203.50,474.40 201.50,471.80" fill="none" stroke="#0072BD" stroke-width="1.5"/>
<text x="212.00" y="474.10" class="lg">NMPBB</text>
<line x1="196.40" y1="479.60" x2="210.70" y2="479.60" stroke="#D95319" stroke-width="1.1"/>
<circle cx="203.50" cy="479.60" r="1.95" fill="none" stroke="#D95319" stroke-width="1.15"/>
<text x="212.00" y="481.90" class="lg">QRPBB</text>
<line x1="196.40" y1="487.40" x2="210.70" y2="487.40" stroke="#EDB120" stroke-width="1.1"/>
<polygon points="203.50,484.10 204.24,486.39 206.64,486.38 204.69,487.79 205.44,490.07 203.50,488.65 201.56,490.07 202.31,487.79 200.36,486.38 202.76,486.39" fill="#EDB120" stroke="#EDB120" stroke-width="0.5"/>
<text x="212.00" y="489.70" class="lg">BCD</text>
<line x1="196.40" y1="495.20" x2="210.70" y2="495.20" stroke="#7E2F8E" stroke-width="1.1"/>
<circle cx="203.50" cy="495.20" r="2.15" fill="#7E2F8E"/>
<text x="212.00" y="497.50" class="lg">HALS</text>
<text x="130.80" y="655.00" class="cap" text-anchor="middle"><tspan font-weight="bold">(e)</tspan> (m n r) = (2000 10,000 50)</text>
<rect x="332.4" y="461.0" width="206.60" height="163.40" fill="#fff" stroke="#9c9c9c" stroke-width="1.3"/>
<line x1="332.40" y1="624.4" x2="332.40" y2="622.4" stroke="#707070" stroke-width="0.9"/>
<line x1="332.40" y1="461.0" x2="332.40" y2="463.0" stroke="#707070" stroke-width="0.9"/>
<text x="332.40" y="634.10" class="tk" text-anchor="middle">0</text>
<line x1="366.83" y1="624.4" x2="366.83" y2="622.4" stroke="#707070" stroke-width="0.9"/>
<line x1="366.83" y1="461.0" x2="366.83" y2="463.0" stroke="#707070" stroke-width="0.9"/>
<text x="366.83" y="634.10" class="tk" text-anchor="middle">5</text>
<line x1="401.27" y1="624.4" x2="401.27" y2="622.4" stroke="#707070" stroke-width="0.9"/>
<line x1="401.27" y1="461.0" x2="401.27" y2="463.0" stroke="#707070" stroke-width="0.9"/>
<text x="401.27" y="634.10" class="tk" text-anchor="middle">10</text>
<line x1="435.70" y1="624.4" x2="435.70" y2="622.4" stroke="#707070" stroke-width="0.9"/>
<line x1="435.70" y1="461.0" x2="435.70" y2="463.0" stroke="#707070" stroke-width="0.9"/>
<text x="435.70" y="634.10" class="tk" text-anchor="middle">15</text>
<line x1="470.13" y1="624.4" x2="470.13" y2="622.4" stroke="#707070" stroke-width="0.9"/>
<line x1="470.13" y1="461.0" x2="470.13" y2="463.0" stroke="#707070" stroke-width="0.9"/>
<text x="470.13" y="634.10" class="tk" text-anchor="middle">20</text>
<line x1="504.57" y1="624.4" x2="504.57" y2="622.4" stroke="#707070" stroke-width="0.9"/>
<line x1="504.57" y1="461.0" x2="504.57" y2="463.0" stroke="#707070" stroke-width="0.9"/>
<text x="504.57" y="634.10" class="tk" text-anchor="middle">25</text>
<line x1="539.00" y1="624.4" x2="539.00" y2="622.4" stroke="#707070" stroke-width="0.9"/>
<line x1="539.00" y1="461.0" x2="539.00" y2="463.0" stroke="#707070" stroke-width="0.9"/>
<text x="539.00" y="634.10" class="tk" text-anchor="middle">30</text>
<line x1="332.4" y1="624.40" x2="334.4" y2="624.40" stroke="#707070" stroke-width="0.9"/>
<line x1="539.0" y1="624.40" x2="537.0" y2="624.40" stroke="#707070" stroke-width="0.9"/>
<text x="329.90" y="627.30" class="tk" text-anchor="end">0</text>
<line x1="332.4" y1="597.17" x2="334.4" y2="597.17" stroke="#707070" stroke-width="0.9"/>
<line x1="539.0" y1="597.17" x2="537.0" y2="597.17" stroke="#707070" stroke-width="0.9"/>
<text x="329.90" y="600.07" class="tk" text-anchor="end">0.05</text>
<line x1="332.4" y1="569.93" x2="334.4" y2="569.93" stroke="#707070" stroke-width="0.9"/>
<line x1="539.0" y1="569.93" x2="537.0" y2="569.93" stroke="#707070" stroke-width="0.9"/>
<text x="329.90" y="572.83" class="tk" text-anchor="end">0.1</text>
<line x1="332.4" y1="542.70" x2="334.4" y2="542.70" stroke="#707070" stroke-width="0.9"/>
<line x1="539.0" y1="542.70" x2="537.0" y2="542.70" stroke="#707070" stroke-width="0.9"/>
<text x="329.90" y="545.60" class="tk" text-anchor="end">0.15</text>
<line x1="332.4" y1="515.47" x2="334.4" y2="515.47" stroke="#707070" stroke-width="0.9"/>
<line x1="539.0" y1="515.47" x2="537.0" y2="515.47" stroke="#707070" stroke-width="0.9"/>
<text x="329.90" y="518.37" class="tk" text-anchor="end">0.2</text>
<line x1="332.4" y1="488.23" x2="334.4" y2="488.23" stroke="#707070" stroke-width="0.9"/>
<line x1="539.0" y1="488.23" x2="537.0" y2="488.23" stroke="#707070" stroke-width="0.9"/>
<text x="329.90" y="491.13" class="tk" text-anchor="end">0.25</text>
<line x1="332.4" y1="461.00" x2="334.4" y2="461.00" stroke="#707070" stroke-width="0.9"/>
<line x1="539.0" y1="461.00" x2="537.0" y2="461.00" stroke="#707070" stroke-width="0.9"/>
<text x="329.90" y="463.90" class="tk" text-anchor="end">0.3</text>
<text x="435.70" y="457.70" class="tt" text-anchor="middle">Relative residual</text>
<text x="435.70" y="644.00" class="tk" text-anchor="middle">iteration</text>
<text transform="translate(311.10,542.70) rotate(-90)" class="yl" text-anchor="middle">||WH - V||<tspan class="sub" dy="3.0">F</tspan><tspan dy="-3.0">/||V||</tspan><tspan class="sub" dy="3.0">F</tspan></text>
<polyline points="339.29,488.23 346.17,532.90 353.06,546.51 359.95,554.14 366.83,560.13 373.72,566.12 380.61,573.75 387.49,580.83 394.38,586.82 401.27,592.26 408.15,596.08 415.04,601.52 421.93,605.88 428.81,608.06 435.70,609.15 442.59,609.69 449.47,610.40 456.36,610.40 463.25,610.40 470.13,610.40 477.02,610.40 483.91,610.40 490.79,610.40 497.68,610.40 504.57,610.40 511.45,610.40 518.34,610.40 525.23,610.40 532.11,610.40 539.00,610.40" fill="none" stroke="#0072BD" stroke-width="1.5" stroke-linejoin="round"/>
<polygon points="339.29,485.63 341.29,488.23 339.29,490.83 337.29,488.23" fill="none" stroke="#0072BD" stroke-width="1.5"/>
<polygon points="346.17,530.30 348.17,532.90 346.17,535.50 344.17,532.90" fill="none" stroke="#0072BD" stroke-width="1.5"/>
<polygon points="353.06,543.91 355.06,546.51 353.06,549.11 351.06,546.51" fill="none" stroke="#0072BD" stroke-width="1.5"/>
<polygon points="359.95,551.54 361.95,554.14 359.95,556.74 357.95,554.14" fill="none" stroke="#0072BD" stroke-width="1.5"/>
<polygon points="366.83,557.53 368.83,560.13 366.83,562.73 364.83,560.13" fill="none" stroke="#0072BD" stroke-width="1.5"/>
<polygon points="373.72,563.52 375.72,566.12 373.72,568.72 371.72,566.12" fill="none" stroke="#0072BD" stroke-width="1.5"/>
<polygon points="380.61,571.15 382.61,573.75 380.61,576.35 378.61,573.75" fill="none" stroke="#0072BD" stroke-width="1.5"/>
<polygon points="387.49,578.23 389.49,580.83 387.49,583.43 385.49,580.83" fill="none" stroke="#0072BD" stroke-width="1.5"/>
<polygon points="394.38,584.22 396.38,586.82 394.38,589.42 392.38,586.82" fill="none" stroke="#0072BD" stroke-width="1.5"/>
<polygon points="401.27,589.66 403.27,592.26 401.27,594.86 399.27,592.26" fill="none" stroke="#0072BD" stroke-width="1.5"/>
<polygon points="408.15,593.48 410.15,596.08 408.15,598.68 406.15,596.08" fill="none" stroke="#0072BD" stroke-width="1.5"/>
<polygon points="415.04,598.92 417.04,601.52 415.04,604.12 413.04,601.52" fill="none" stroke="#0072BD" stroke-width="1.5"/>
<polygon points="421.93,603.28 423.93,605.88 421.93,608.48 419.93,605.88" fill="none" stroke="#0072BD" stroke-width="1.5"/>
<polygon points="428.81,605.46 430.81,608.06 428.81,610.66 426.81,608.06" fill="none" stroke="#0072BD" stroke-width="1.5"/>
<polygon points="435.70,606.55 437.70,609.15 435.70,611.75 433.70,609.15" fill="none" stroke="#0072BD" stroke-width="1.5"/>
<polygon points="442.59,607.09 444.59,609.69 442.59,612.29 440.59,609.69" fill="none" stroke="#0072BD" stroke-width="1.5"/>
<polygon points="449.47,607.80 451.47,610.40 449.47,613.00 447.47,610.40" fill="none" stroke="#0072BD" stroke-width="1.5"/>
<polygon points="456.36,607.80 458.36,610.40 456.36,613.00 454.36,610.40" fill="none" stroke="#0072BD" stroke-width="1.5"/>
<polygon points="463.25,607.80 465.25,610.40 463.25,613.00 461.25,610.40" fill="none" stroke="#0072BD" stroke-width="1.5"/>
<polygon points="470.13,607.80 472.13,610.40 470.13,613.00 468.13,610.40" fill="none" stroke="#0072BD" stroke-width="1.5"/>
<polygon points="477.02,607.80 479.02,610.40 477.02,613.00 475.02,610.40" fill="none" stroke="#0072BD" stroke-width="1.5"/>
<polygon points="483.91,607.80 485.91,610.40 483.91,613.00 481.91,610.40" fill="none" stroke="#0072BD" stroke-width="1.5"/>
<polygon points="490.79,607.80 492.79,610.40 490.79,613.00 488.79,610.40" fill="none" stroke="#0072BD" stroke-width="1.5"/>
<polygon points="497.68,607.80 499.68,610.40 497.68,613.00 495.68,610.40" fill="none" stroke="#0072BD" stroke-width="1.5"/>
<polygon points="504.57,607.80 506.57,610.40 504.57,613.00 502.57,610.40" fill="none" stroke="#0072BD" stroke-width="1.5"/>
<polygon points="511.45,607.80 513.45,610.40 511.45,613.00 509.45,610.40" fill="none" stroke="#0072BD" stroke-width="1.5"/>
<polygon points="518.34,607.80 520.34,610.40 518.34,613.00 516.34,610.40" fill="none" stroke="#0072BD" stroke-width="1.5"/>
<polygon points="525.23,607.80 527.23,610.40 525.23,613.00 523.23,610.40" fill="none" stroke="#0072BD" stroke-width="1.5"/>
<polygon points="532.11,607.80 534.11,610.40 532.11,613.00 530.11,610.40" fill="none" stroke="#0072BD" stroke-width="1.5"/>
<polygon points="539.00,607.80 541.00,610.40 539.00,613.00 537.00,610.40" fill="none" stroke="#0072BD" stroke-width="1.5"/>
<polyline points="339.29,520.37 346.17,539.43 353.06,545.97 359.95,549.24 366.83,551.41 373.72,553.59 380.61,555.23 387.49,556.86 394.38,558.50 401.27,561.22 408.15,563.40 415.04,566.12 421.93,568.84 428.81,571.57 435.70,574.84 442.59,578.65 449.47,581.37 456.36,584.64 463.25,586.27 470.13,588.45 477.02,590.63 483.91,592.26 490.79,593.35 497.68,595.53 504.57,597.17 511.45,598.80 518.34,599.89 525.23,601.52 532.11,603.16 539.00,604.79" fill="none" stroke="#D95319" stroke-width="1.5" stroke-linejoin="round"/>
<circle cx="339.29" cy="520.37" r="1.95" fill="none" stroke="#D95319" stroke-width="1.15"/>
<circle cx="346.17" cy="539.43" r="1.95" fill="none" stroke="#D95319" stroke-width="1.15"/>
<circle cx="353.06" cy="545.97" r="1.95" fill="none" stroke="#D95319" stroke-width="1.15"/>
<circle cx="359.95" cy="549.24" r="1.95" fill="none" stroke="#D95319" stroke-width="1.15"/>
<circle cx="366.83" cy="551.41" r="1.95" fill="none" stroke="#D95319" stroke-width="1.15"/>
<circle cx="373.72" cy="553.59" r="1.95" fill="none" stroke="#D95319" stroke-width="1.15"/>
<circle cx="380.61" cy="555.23" r="1.95" fill="none" stroke="#D95319" stroke-width="1.15"/>
<circle cx="387.49" cy="556.86" r="1.95" fill="none" stroke="#D95319" stroke-width="1.15"/>
<circle cx="394.38" cy="558.50" r="1.95" fill="none" stroke="#D95319" stroke-width="1.15"/>
<circle cx="401.27" cy="561.22" r="1.95" fill="none" stroke="#D95319" stroke-width="1.15"/>
<circle cx="408.15" cy="563.40" r="1.95" fill="none" stroke="#D95319" stroke-width="1.15"/>
<circle cx="415.04" cy="566.12" r="1.95" fill="none" stroke="#D95319" stroke-width="1.15"/>
<circle cx="421.93" cy="568.84" r="1.95" fill="none" stroke="#D95319" stroke-width="1.15"/>
<circle cx="428.81" cy="571.57" r="1.95" fill="none" stroke="#D95319" stroke-width="1.15"/>
<circle cx="435.70" cy="574.84" r="1.95" fill="none" stroke="#D95319" stroke-width="1.15"/>
<circle cx="442.59" cy="578.65" r="1.95" fill="none" stroke="#D95319" stroke-width="1.15"/>
<circle cx="449.47" cy="581.37" r="1.95" fill="none" stroke="#D95319" stroke-width="1.15"/>
<circle cx="456.36" cy="584.64" r="1.95" fill="none" stroke="#D95319" stroke-width="1.15"/>
<circle cx="463.25" cy="586.27" r="1.95" fill="none" stroke="#D95319" stroke-width="1.15"/>
<circle cx="470.13" cy="588.45" r="1.95" fill="none" stroke="#D95319" stroke-width="1.15"/>
<circle cx="477.02" cy="590.63" r="1.95" fill="none" stroke="#D95319" stroke-width="1.15"/>
<circle cx="483.91" cy="592.26" r="1.95" fill="none" stroke="#D95319" stroke-width="1.15"/>
<circle cx="490.79" cy="593.35" r="1.95" fill="none" stroke="#D95319" stroke-width="1.15"/>
<circle cx="497.68" cy="595.53" r="1.95" fill="none" stroke="#D95319" stroke-width="1.15"/>
<circle cx="504.57" cy="597.17" r="1.95" fill="none" stroke="#D95319" stroke-width="1.15"/>
<circle cx="511.45" cy="598.80" r="1.95" fill="none" stroke="#D95319" stroke-width="1.15"/>
<circle cx="518.34" cy="599.89" r="1.95" fill="none" stroke="#D95319" stroke-width="1.15"/>
<circle cx="525.23" cy="601.52" r="1.95" fill="none" stroke="#D95319" stroke-width="1.15"/>
<circle cx="532.11" cy="603.16" r="1.95" fill="none" stroke="#D95319" stroke-width="1.15"/>
<circle cx="539.00" cy="604.79" r="1.95" fill="none" stroke="#D95319" stroke-width="1.15"/>
<polyline points="339.29,475.16 346.17,479.52 353.06,481.15 359.95,482.24 366.83,483.33 373.72,483.88 380.61,484.42 387.49,484.97 394.38,486.05 401.27,486.60 408.15,487.69 415.04,488.23 421.93,488.78 428.81,489.32 435.70,490.41 442.59,491.50 449.47,492.59 456.36,493.68 463.25,494.77 470.13,495.86 477.02,496.95 483.91,498.58 490.79,500.22 497.68,501.85 504.57,504.03 511.45,506.21 518.34,508.93 525.23,511.11 532.11,513.29 539.00,516.01" fill="none" stroke="#EDB120" stroke-width="1.5" stroke-linejoin="round"/>
<polygon points="339.29,471.86 340.02,474.15 342.43,474.14 340.48,475.55 341.23,477.83 339.29,476.42 337.35,477.83 338.09,475.55 336.15,474.14 338.55,474.15" fill="#EDB120" stroke="#EDB120" stroke-width="0.5"/>
<polygon points="346.17,476.22 346.91,478.50 349.31,478.50 347.37,479.91 348.11,482.19 346.17,480.77 344.23,482.19 344.98,479.91 343.03,478.50 345.44,478.50" fill="#EDB120" stroke="#EDB120" stroke-width="0.5"/>
<polygon points="353.06,477.85 353.80,480.14 356.20,480.13 354.25,481.54 355.00,483.82 353.06,482.41 351.12,483.82 351.87,481.54 349.92,480.13 352.32,480.14" fill="#EDB120" stroke="#EDB120" stroke-width="0.5"/>
<polygon points="359.95,478.94 360.68,481.23 363.09,481.22 361.14,482.63 361.89,484.91 359.95,483.50 358.01,484.91 358.75,482.63 356.81,481.22 359.21,481.23" fill="#EDB120" stroke="#EDB120" stroke-width="0.5"/>
<polygon points="366.83,480.03 367.57,482.32 369.97,482.31 368.03,483.72 368.77,486.00 366.83,484.59 364.89,486.00 365.64,483.72 363.69,482.31 366.10,482.32" fill="#EDB120" stroke="#EDB120" stroke-width="0.5"/>
<polygon points="373.72,480.58 374.46,482.86 376.86,482.86 374.91,484.26 375.66,486.55 373.72,485.13 371.78,486.55 372.53,484.26 370.58,482.86 372.98,482.86" fill="#EDB120" stroke="#EDB120" stroke-width="0.5"/>
<polygon points="380.61,481.12 381.34,483.41 383.75,483.40 381.80,484.81 382.55,487.09 380.61,485.67 378.67,487.09 379.41,484.81 377.47,483.40 379.87,483.41" fill="#EDB120" stroke="#EDB120" stroke-width="0.5"/>
<polygon points="387.49,481.67 388.23,483.95 390.63,483.95 388.69,485.35 389.43,487.64 387.49,486.22 385.55,487.64 386.30,485.35 384.35,483.95 386.76,483.95" fill="#EDB120" stroke="#EDB120" stroke-width="0.5"/>
<polygon points="394.38,482.75 395.12,485.04 397.52,485.03 395.57,486.44 396.32,488.72 394.38,487.31 392.44,488.72 393.19,486.44 391.24,485.03 393.64,485.04" fill="#EDB120" stroke="#EDB120" stroke-width="0.5"/>
<polygon points="401.27,483.30 402.00,485.58 404.41,485.58 402.46,486.99 403.21,489.27 401.27,487.85 399.33,489.27 400.07,486.99 398.13,485.58 400.53,485.58" fill="#EDB120" stroke="#EDB120" stroke-width="0.5"/>
<polygon points="408.15,484.39 408.89,486.67 411.29,486.67 409.35,488.08 410.09,490.36 408.15,488.94 406.21,490.36 406.96,488.08 405.01,486.67 407.42,486.67" fill="#EDB120" stroke="#EDB120" stroke-width="0.5"/>
<polygon points="415.04,484.93 415.78,487.22 418.18,487.21 416.23,488.62 416.98,490.90 415.04,489.49 413.10,490.90 413.85,488.62 411.90,487.21 414.30,487.22" fill="#EDB120" stroke="#EDB120" stroke-width="0.5"/>
<polygon points="421.93,485.48 422.66,487.76 425.07,487.76 423.12,489.17 423.87,491.45 421.93,490.03 419.99,491.45 420.73,489.17 418.79,487.76 421.19,487.76" fill="#EDB120" stroke="#EDB120" stroke-width="0.5"/>
<polygon points="428.81,486.02 429.55,488.31 431.95,488.30 430.01,489.71 430.75,491.99 428.81,490.58 426.87,491.99 427.62,489.71 425.67,488.30 428.08,488.31" fill="#EDB120" stroke="#EDB120" stroke-width="0.5"/>
<polygon points="435.70,487.11 436.44,489.40 438.84,489.39 436.89,490.80 437.64,493.08 435.70,491.67 433.76,493.08 434.51,490.80 432.56,489.39 434.96,489.40" fill="#EDB120" stroke="#EDB120" stroke-width="0.5"/>
<polygon points="442.59,488.20 443.32,490.49 445.73,490.48 443.78,491.89 444.53,494.17 442.59,492.76 440.65,494.17 441.39,491.89 439.45,490.48 441.85,490.49" fill="#EDB120" stroke="#EDB120" stroke-width="0.5"/>
<polygon points="449.47,489.29 450.21,491.58 452.61,491.57 450.67,492.98 451.41,495.26 449.47,493.84 447.53,495.26 448.28,492.98 446.33,491.57 448.74,491.58" fill="#EDB120" stroke="#EDB120" stroke-width="0.5"/>
<polygon points="456.36,490.38 457.10,492.67 459.50,492.66 457.55,494.07 458.30,496.35 456.36,494.93 454.42,496.35 455.17,494.07 453.22,492.66 455.62,492.67" fill="#EDB120" stroke="#EDB120" stroke-width="0.5"/>
<polygon points="463.25,491.47 463.98,493.75 466.39,493.75 464.44,495.16 465.19,497.44 463.25,496.02 461.31,497.44 462.05,495.16 460.11,493.75 462.51,493.75" fill="#EDB120" stroke="#EDB120" stroke-width="0.5"/>
<polygon points="470.13,492.56 470.87,494.84 473.27,494.84 471.33,496.25 472.07,498.53 470.13,497.11 468.19,498.53 468.94,496.25 466.99,494.84 469.40,494.84" fill="#EDB120" stroke="#EDB120" stroke-width="0.5"/>
<polygon points="477.02,493.65 477.76,495.93 480.16,495.93 478.21,497.34 478.96,499.62 477.02,498.20 475.08,499.62 475.83,497.34 473.88,495.93 476.28,495.93" fill="#EDB120" stroke="#EDB120" stroke-width="0.5"/>
<polygon points="483.91,495.28 484.64,497.57 487.05,497.56 485.10,498.97 485.85,501.25 483.91,499.84 481.97,501.25 482.71,498.97 480.77,497.56 483.17,497.57" fill="#EDB120" stroke="#EDB120" stroke-width="0.5"/>
<polygon points="490.79,496.92 491.53,499.20 493.93,499.20 491.99,500.60 492.73,502.89 490.79,501.47 488.85,502.89 489.60,500.60 487.65,499.20 490.06,499.20" fill="#EDB120" stroke="#EDB120" stroke-width="0.5"/>
<polygon points="497.68,498.55 498.42,500.84 500.82,500.83 498.87,502.24 499.62,504.52 497.68,503.10 495.74,504.52 496.49,502.24 494.54,500.83 496.94,500.84" fill="#EDB120" stroke="#EDB120" stroke-width="0.5"/>
<polygon points="504.57,500.73 505.30,503.01 507.71,503.01 505.76,504.42 506.51,506.70 504.57,505.28 502.63,506.70 503.37,504.42 501.43,503.01 503.83,503.01" fill="#EDB120" stroke="#EDB120" stroke-width="0.5"/>
<polygon points="511.45,502.91 512.19,505.19 514.59,505.19 512.65,506.59 513.39,508.88 511.45,507.46 509.51,508.88 510.26,506.59 508.31,505.19 510.72,505.19" fill="#EDB120" stroke="#EDB120" stroke-width="0.5"/>
<polygon points="518.34,505.63 519.08,507.92 521.48,507.91 519.53,509.32 520.28,511.60 518.34,510.18 516.40,511.60 517.15,509.32 515.20,507.91 517.60,507.92" fill="#EDB120" stroke="#EDB120" stroke-width="0.5"/>
<polygon points="525.23,507.81 525.96,510.09 528.37,510.09 526.42,511.50 527.17,513.78 525.23,512.36 523.29,513.78 524.03,511.50 522.09,510.09 524.49,510.09" fill="#EDB120" stroke="#EDB120" stroke-width="0.5"/>
<polygon points="532.11,509.99 532.85,512.27 535.25,512.27 533.31,513.68 534.05,515.96 532.11,514.54 530.17,515.96 530.92,513.68 528.97,512.27 531.38,512.27" fill="#EDB120" stroke="#EDB120" stroke-width="0.5"/>
<polygon points="539.00,512.71 539.74,515.00 542.14,514.99 540.19,516.40 540.94,518.68 539.00,517.27 537.06,518.68 537.81,516.40 535.86,514.99 538.26,515.00" fill="#EDB120" stroke="#EDB120" stroke-width="0.5"/>
<polyline points="339.29,469.71 346.17,496.40 353.06,509.48 359.95,518.19 366.83,523.64 373.72,527.45 380.61,531.26 387.49,534.53 394.38,537.25 401.27,538.89 408.15,541.07 415.04,542.70 421.93,544.33 428.81,545.97 435.70,548.15 442.59,549.24 449.47,550.87 456.36,552.50 463.25,554.14 470.13,555.23 477.02,556.86 483.91,558.50 490.79,560.13 497.68,561.76 504.57,563.40 511.45,565.03 518.34,566.67 525.23,568.84 532.11,570.48 539.00,572.66" fill="none" stroke="#7E2F8E" stroke-width="1.5" stroke-linejoin="round"/>
<circle cx="339.29" cy="469.71" r="2.15" fill="#7E2F8E"/>
<circle cx="346.17" cy="496.40" r="2.15" fill="#7E2F8E"/>
<circle cx="353.06" cy="509.48" r="2.15" fill="#7E2F8E"/>
<circle cx="359.95" cy="518.19" r="2.15" fill="#7E2F8E"/>
<circle cx="366.83" cy="523.64" r="2.15" fill="#7E2F8E"/>
<circle cx="373.72" cy="527.45" r="2.15" fill="#7E2F8E"/>
<circle cx="380.61" cy="531.26" r="2.15" fill="#7E2F8E"/>
<circle cx="387.49" cy="534.53" r="2.15" fill="#7E2F8E"/>
<circle cx="394.38" cy="537.25" r="2.15" fill="#7E2F8E"/>
<circle cx="401.27" cy="538.89" r="2.15" fill="#7E2F8E"/>
<circle cx="408.15" cy="541.07" r="2.15" fill="#7E2F8E"/>
<circle cx="415.04" cy="542.70" r="2.15" fill="#7E2F8E"/>
<circle cx="421.93" cy="544.33" r="2.15" fill="#7E2F8E"/>
<circle cx="428.81" cy="545.97" r="2.15" fill="#7E2F8E"/>
<circle cx="435.70" cy="548.15" r="2.15" fill="#7E2F8E"/>
<circle cx="442.59" cy="549.24" r="2.15" fill="#7E2F8E"/>
<circle cx="449.47" cy="550.87" r="2.15" fill="#7E2F8E"/>
<circle cx="456.36" cy="552.50" r="2.15" fill="#7E2F8E"/>
<circle cx="463.25" cy="554.14" r="2.15" fill="#7E2F8E"/>
<circle cx="470.13" cy="555.23" r="2.15" fill="#7E2F8E"/>
<circle cx="477.02" cy="556.86" r="2.15" fill="#7E2F8E"/>
<circle cx="483.91" cy="558.50" r="2.15" fill="#7E2F8E"/>
<circle cx="490.79" cy="560.13" r="2.15" fill="#7E2F8E"/>
<circle cx="497.68" cy="561.76" r="2.15" fill="#7E2F8E"/>
<circle cx="504.57" cy="563.40" r="2.15" fill="#7E2F8E"/>
<circle cx="511.45" cy="565.03" r="2.15" fill="#7E2F8E"/>
<circle cx="518.34" cy="566.67" r="2.15" fill="#7E2F8E"/>
<circle cx="525.23" cy="568.84" r="2.15" fill="#7E2F8E"/>
<circle cx="532.11" cy="570.48" r="2.15" fill="#7E2F8E"/>
<circle cx="539.00" cy="572.66" r="2.15" fill="#7E2F8E"/>
<rect x="492.90" y="466.90" width="40.3" height="33.0" fill="#fff" stroke="#9c9c9c" stroke-width="0.9"/>
<line x1="494.90" y1="471.80" x2="509.20" y2="471.80" stroke="#0072BD" stroke-width="1.1"/>
<polygon points="502.00,469.20 504.00,471.80 502.00,474.40 500.00,471.80" fill="none" stroke="#0072BD" stroke-width="1.5"/>
<text x="510.50" y="474.10" class="lg">NMPBB</text>
<line x1="494.90" y1="479.60" x2="509.20" y2="479.60" stroke="#D95319" stroke-width="1.1"/>
<circle cx="502.00" cy="479.60" r="1.95" fill="none" stroke="#D95319" stroke-width="1.15"/>
<text x="510.50" y="481.90" class="lg">QRPBB</text>
<line x1="494.90" y1="487.40" x2="509.20" y2="487.40" stroke="#EDB120" stroke-width="1.1"/>
<polygon points="502.00,484.10 502.74,486.39 505.14,486.38 503.19,487.79 503.94,490.07 502.00,488.65 500.06,490.07 500.81,487.79 498.86,486.38 501.26,486.39" fill="#EDB120" stroke="#EDB120" stroke-width="0.5"/>
<text x="510.50" y="489.70" class="lg">BCD</text>
<line x1="494.90" y1="495.20" x2="509.20" y2="495.20" stroke="#7E2F8E" stroke-width="1.1"/>
<circle cx="502.00" cy="495.20" r="2.15" fill="#7E2F8E"/>
<text x="510.50" y="497.50" class="lg">HALS</text>
<text x="429.50" y="655.00" class="cap" text-anchor="middle"><tspan font-weight="bold">(f)</tspan> (m n r) = (10,000 2000 60)</text>
<rect x="33.5" y="685.6" width="207.00" height="162.60" fill="#fff" stroke="#9c9c9c" stroke-width="1.3"/>
<line x1="33.50" y1="848.2" x2="33.50" y2="846.2" stroke="#707070" stroke-width="0.9"/>
<line x1="33.50" y1="685.6" x2="33.50" y2="687.6" stroke="#707070" stroke-width="0.9"/>
<text x="33.50" y="857.90" class="tk" text-anchor="middle">0</text>
<line x1="68.00" y1="848.2" x2="68.00" y2="846.2" stroke="#707070" stroke-width="0.9"/>
<line x1="68.00" y1="685.6" x2="68.00" y2="687.6" stroke="#707070" stroke-width="0.9"/>
<text x="68.00" y="857.90" class="tk" text-anchor="middle">5</text>
<line x1="102.50" y1="848.2" x2="102.50" y2="846.2" stroke="#707070" stroke-width="0.9"/>
<line x1="102.50" y1="685.6" x2="102.50" y2="687.6" stroke="#707070" stroke-width="0.9"/>
<text x="102.50" y="857.90" class="tk" text-anchor="middle">10</text>
<line x1="137.00" y1="848.2" x2="137.00" y2="846.2" stroke="#707070" stroke-width="0.9"/>
<line x1="137.00" y1="685.6" x2="137.00" y2="687.6" stroke="#707070" stroke-width="0.9"/>
<text x="137.00" y="857.90" class="tk" text-anchor="middle">15</text>
<line x1="171.50" y1="848.2" x2="171.50" y2="846.2" stroke="#707070" stroke-width="0.9"/>
<line x1="171.50" y1="685.6" x2="171.50" y2="687.6" stroke="#707070" stroke-width="0.9"/>
<text x="171.50" y="857.90" class="tk" text-anchor="middle">20</text>
<line x1="206.00" y1="848.2" x2="206.00" y2="846.2" stroke="#707070" stroke-width="0.9"/>
<line x1="206.00" y1="685.6" x2="206.00" y2="687.6" stroke="#707070" stroke-width="0.9"/>
<text x="206.00" y="857.90" class="tk" text-anchor="middle">25</text>
<line x1="240.50" y1="848.2" x2="240.50" y2="846.2" stroke="#707070" stroke-width="0.9"/>
<line x1="240.50" y1="685.6" x2="240.50" y2="687.6" stroke="#707070" stroke-width="0.9"/>
<text x="240.50" y="857.90" class="tk" text-anchor="middle">30</text>
<line x1="33.5" y1="848.20" x2="35.5" y2="848.20" stroke="#707070" stroke-width="0.9"/>
<line x1="240.5" y1="848.20" x2="238.5" y2="848.20" stroke="#707070" stroke-width="0.9"/>
<text x="31.00" y="851.10" class="tk" text-anchor="end">0</text>
<line x1="33.5" y1="821.10" x2="35.5" y2="821.10" stroke="#707070" stroke-width="0.9"/>
<line x1="240.5" y1="821.10" x2="238.5" y2="821.10" stroke="#707070" stroke-width="0.9"/>
<text x="31.00" y="824.00" class="tk" text-anchor="end">0.05</text>
<line x1="33.5" y1="794.00" x2="35.5" y2="794.00" stroke="#707070" stroke-width="0.9"/>
<line x1="240.5" y1="794.00" x2="238.5" y2="794.00" stroke="#707070" stroke-width="0.9"/>
<text x="31.00" y="796.90" class="tk" text-anchor="end">0.1</text>
<line x1="33.5" y1="766.90" x2="35.5" y2="766.90" stroke="#707070" stroke-width="0.9"/>
<line x1="240.5" y1="766.90" x2="238.5" y2="766.90" stroke="#707070" stroke-width="0.9"/>
<text x="31.00" y="769.80" class="tk" text-anchor="end">0.15</text>
<line x1="33.5" y1="739.80" x2="35.5" y2="739.80" stroke="#707070" stroke-width="0.9"/>
<line x1="240.5" y1="739.80" x2="238.5" y2="739.80" stroke="#707070" stroke-width="0.9"/>
<text x="31.00" y="742.70" class="tk" text-anchor="end">0.2</text>
<line x1="33.5" y1="712.70" x2="35.5" y2="712.70" stroke="#707070" stroke-width="0.9"/>
<line x1="240.5" y1="712.70" x2="238.5" y2="712.70" stroke="#707070" stroke-width="0.9"/>
<text x="31.00" y="715.60" class="tk" text-anchor="end">0.25</text>
<line x1="33.5" y1="685.60" x2="35.5" y2="685.60" stroke="#707070" stroke-width="0.9"/>
<line x1="240.5" y1="685.60" x2="238.5" y2="685.60" stroke="#707070" stroke-width="0.9"/>
<text x="31.00" y="688.50" class="tk" text-anchor="end">0.3</text>
<text x="137.00" y="682.30" class="tt" text-anchor="middle">Relative residual</text>
<text x="137.00" y="867.80" class="tk" text-anchor="middle">iteration</text>
<text transform="translate(12.20,766.90) rotate(-90)" class="yl" text-anchor="middle">||WH - V||<tspan class="sub" dy="3.0">F</tspan><tspan dy="-3.0">/||V||</tspan><tspan class="sub" dy="3.0">F</tspan></text>
<polyline points="40.40,696.98 47.30,759.31 54.20,773.95 61.10,780.99 68.00,786.95 74.90,793.46 81.80,800.50 88.70,807.55 95.60,813.51 102.50,819.47 109.40,825.98 116.30,829.23 123.20,830.86 130.10,832.48 137.00,833.02 143.90,833.57 150.80,834.11 157.70,834.65 164.60,834.65 171.50,834.65 178.40,834.65 185.30,834.65 192.20,834.65 199.10,834.65 206.00,834.65 212.90,834.65 219.80,834.65 226.70,834.65 233.60,834.65 240.50,834.65" fill="none" stroke="#0072BD" stroke-width="1.5" stroke-linejoin="round"/>
<polygon points="40.40,694.38 42.40,696.98 40.40,699.58 38.40,696.98" fill="none" stroke="#0072BD" stroke-width="1.5"/>
<polygon points="47.30,756.71 49.30,759.31 47.30,761.91 45.30,759.31" fill="none" stroke="#0072BD" stroke-width="1.5"/>
<polygon points="54.20,771.35 56.20,773.95 54.20,776.55 52.20,773.95" fill="none" stroke="#0072BD" stroke-width="1.5"/>
<polygon points="61.10,778.39 63.10,780.99 61.10,783.59 59.10,780.99" fill="none" stroke="#0072BD" stroke-width="1.5"/>
<polygon points="68.00,784.35 70.00,786.95 68.00,789.55 66.00,786.95" fill="none" stroke="#0072BD" stroke-width="1.5"/>
<polygon points="74.90,790.86 76.90,793.46 74.90,796.06 72.90,793.46" fill="none" stroke="#0072BD" stroke-width="1.5"/>
<polygon points="81.80,797.90 83.80,800.50 81.80,803.10 79.80,800.50" fill="none" stroke="#0072BD" stroke-width="1.5"/>
<polygon points="88.70,804.95 90.70,807.55 88.70,810.15 86.70,807.55" fill="none" stroke="#0072BD" stroke-width="1.5"/>
<polygon points="95.60,810.91 97.60,813.51 95.60,816.11 93.60,813.51" fill="none" stroke="#0072BD" stroke-width="1.5"/>
<polygon points="102.50,816.87 104.50,819.47 102.50,822.07 100.50,819.47" fill="none" stroke="#0072BD" stroke-width="1.5"/>
<polygon points="109.40,823.38 111.40,825.98 109.40,828.58 107.40,825.98" fill="none" stroke="#0072BD" stroke-width="1.5"/>
<polygon points="116.30,826.63 118.30,829.23 116.30,831.83 114.30,829.23" fill="none" stroke="#0072BD" stroke-width="1.5"/>
<polygon points="123.20,828.26 125.20,830.86 123.20,833.46 121.20,830.86" fill="none" stroke="#0072BD" stroke-width="1.5"/>
<polygon points="130.10,829.88 132.10,832.48 130.10,835.08 128.10,832.48" fill="none" stroke="#0072BD" stroke-width="1.5"/>
<polygon points="137.00,830.42 139.00,833.02 137.00,835.62 135.00,833.02" fill="none" stroke="#0072BD" stroke-width="1.5"/>
<polygon points="143.90,830.97 145.90,833.57 143.90,836.17 141.90,833.57" fill="none" stroke="#0072BD" stroke-width="1.5"/>
<polygon points="150.80,831.51 152.80,834.11 150.80,836.71 148.80,834.11" fill="none" stroke="#0072BD" stroke-width="1.5"/>
<polygon points="157.70,832.05 159.70,834.65 157.70,837.25 155.70,834.65" fill="none" stroke="#0072BD" stroke-width="1.5"/>
<polygon points="164.60,832.05 166.60,834.65 164.60,837.25 162.60,834.65" fill="none" stroke="#0072BD" stroke-width="1.5"/>
<polygon points="171.50,832.05 173.50,834.65 171.50,837.25 169.50,834.65" fill="none" stroke="#0072BD" stroke-width="1.5"/>
<polygon points="178.40,832.05 180.40,834.65 178.40,837.25 176.40,834.65" fill="none" stroke="#0072BD" stroke-width="1.5"/>
<polygon points="185.30,832.05 187.30,834.65 185.30,837.25 183.30,834.65" fill="none" stroke="#0072BD" stroke-width="1.5"/>
<polygon points="192.20,832.05 194.20,834.65 192.20,837.25 190.20,834.65" fill="none" stroke="#0072BD" stroke-width="1.5"/>
<polygon points="199.10,832.05 201.10,834.65 199.10,837.25 197.10,834.65" fill="none" stroke="#0072BD" stroke-width="1.5"/>
<polygon points="206.00,832.05 208.00,834.65 206.00,837.25 204.00,834.65" fill="none" stroke="#0072BD" stroke-width="1.5"/>
<polygon points="212.90,832.05 214.90,834.65 212.90,837.25 210.90,834.65" fill="none" stroke="#0072BD" stroke-width="1.5"/>
<polygon points="219.80,832.05 221.80,834.65 219.80,837.25 217.80,834.65" fill="none" stroke="#0072BD" stroke-width="1.5"/>
<polygon points="226.70,832.05 228.70,834.65 226.70,837.25 224.70,834.65" fill="none" stroke="#0072BD" stroke-width="1.5"/>
<polygon points="233.60,832.05 235.60,834.65 233.60,837.25 231.60,834.65" fill="none" stroke="#0072BD" stroke-width="1.5"/>
<polygon points="240.50,832.05 242.50,834.65 240.50,837.25 238.50,834.65" fill="none" stroke="#0072BD" stroke-width="1.5"/>
<polyline points="40.40,746.85 47.30,765.82 54.20,772.86 61.10,776.66 68.00,778.82 74.90,780.45 81.80,782.08 88.70,783.16 95.60,784.79 102.50,786.95 109.40,789.66 116.30,791.83 123.20,794.00 130.10,796.17 137.00,798.34 143.90,800.50 150.80,802.13 157.70,803.21 164.60,804.84 171.50,806.47 178.40,807.55 185.30,809.18 192.20,810.26 199.10,811.34 206.00,812.97 212.90,814.05 219.80,815.14 226.70,816.22 233.60,817.31 240.50,818.39" fill="none" stroke="#D95319" stroke-width="1.5" stroke-linejoin="round"/>
<circle cx="40.40" cy="746.85" r="1.95" fill="none" stroke="#D95319" stroke-width="1.15"/>
<circle cx="47.30" cy="765.82" r="1.95" fill="none" stroke="#D95319" stroke-width="1.15"/>
<circle cx="54.20" cy="772.86" r="1.95" fill="none" stroke="#D95319" stroke-width="1.15"/>
<circle cx="61.10" cy="776.66" r="1.95" fill="none" stroke="#D95319" stroke-width="1.15"/>
<circle cx="68.00" cy="778.82" r="1.95" fill="none" stroke="#D95319" stroke-width="1.15"/>
<circle cx="74.90" cy="780.45" r="1.95" fill="none" stroke="#D95319" stroke-width="1.15"/>
<circle cx="81.80" cy="782.08" r="1.95" fill="none" stroke="#D95319" stroke-width="1.15"/>
<circle cx="88.70" cy="783.16" r="1.95" fill="none" stroke="#D95319" stroke-width="1.15"/>
<circle cx="95.60" cy="784.79" r="1.95" fill="none" stroke="#D95319" stroke-width="1.15"/>
<circle cx="102.50" cy="786.95" r="1.95" fill="none" stroke="#D95319" stroke-width="1.15"/>
<circle cx="109.40" cy="789.66" r="1.95" fill="none" stroke="#D95319" stroke-width="1.15"/>
<circle cx="116.30" cy="791.83" r="1.95" fill="none" stroke="#D95319" stroke-width="1.15"/>
<circle cx="123.20" cy="794.00" r="1.95" fill="none" stroke="#D95319" stroke-width="1.15"/>
<circle cx="130.10" cy="796.17" r="1.95" fill="none" stroke="#D95319" stroke-width="1.15"/>
<circle cx="137.00" cy="798.34" r="1.95" fill="none" stroke="#D95319" stroke-width="1.15"/>
<circle cx="143.90" cy="800.50" r="1.95" fill="none" stroke="#D95319" stroke-width="1.15"/>
<circle cx="150.80" cy="802.13" r="1.95" fill="none" stroke="#D95319" stroke-width="1.15"/>
<circle cx="157.70" cy="803.21" r="1.95" fill="none" stroke="#D95319" stroke-width="1.15"/>
<circle cx="164.60" cy="804.84" r="1.95" fill="none" stroke="#D95319" stroke-width="1.15"/>
<circle cx="171.50" cy="806.47" r="1.95" fill="none" stroke="#D95319" stroke-width="1.15"/>
<circle cx="178.40" cy="807.55" r="1.95" fill="none" stroke="#D95319" stroke-width="1.15"/>
<circle cx="185.30" cy="809.18" r="1.95" fill="none" stroke="#D95319" stroke-width="1.15"/>
<circle cx="192.20" cy="810.26" r="1.95" fill="none" stroke="#D95319" stroke-width="1.15"/>
<circle cx="199.10" cy="811.34" r="1.95" fill="none" stroke="#D95319" stroke-width="1.15"/>
<circle cx="206.00" cy="812.97" r="1.95" fill="none" stroke="#D95319" stroke-width="1.15"/>
<circle cx="212.90" cy="814.05" r="1.95" fill="none" stroke="#D95319" stroke-width="1.15"/>
<circle cx="219.80" cy="815.14" r="1.95" fill="none" stroke="#D95319" stroke-width="1.15"/>
<circle cx="226.70" cy="816.22" r="1.95" fill="none" stroke="#D95319" stroke-width="1.15"/>
<circle cx="233.60" cy="817.31" r="1.95" fill="none" stroke="#D95319" stroke-width="1.15"/>
<circle cx="240.50" cy="818.39" r="1.95" fill="none" stroke="#D95319" stroke-width="1.15"/>
<polyline points="40.40,707.82 47.30,712.16 54.20,713.78 61.10,714.87 68.00,715.41 74.90,715.95 81.80,716.49 88.70,717.04 95.60,717.58 102.50,718.12 109.40,718.66 116.30,719.20 123.20,719.20 130.10,719.75 137.00,720.29 143.90,720.83 150.80,720.83 157.70,721.37 164.60,721.91 171.50,722.46 178.40,723.00 185.30,723.54 192.20,724.62 199.10,725.17 206.00,726.25 212.90,726.79 219.80,727.88 226.70,729.50 233.60,731.13 240.50,732.75" fill="none" stroke="#EDB120" stroke-width="1.5" stroke-linejoin="round"/>
<polygon points="40.40,704.52 41.14,706.81 43.54,706.80 41.59,708.21 42.34,710.49 40.40,709.08 38.46,710.49 39.21,708.21 37.26,706.80 39.66,706.81" fill="#EDB120" stroke="#EDB120" stroke-width="0.5"/>
<polygon points="47.30,708.86 48.04,711.14 50.44,711.14 48.49,712.55 49.24,714.83 47.30,713.41 45.36,714.83 46.11,712.55 44.16,711.14 46.56,711.14" fill="#EDB120" stroke="#EDB120" stroke-width="0.5"/>
<polygon points="54.20,710.48 54.94,712.77 57.34,712.76 55.39,714.17 56.14,716.45 54.20,715.04 52.26,716.45 53.01,714.17 51.06,712.76 53.46,712.77" fill="#EDB120" stroke="#EDB120" stroke-width="0.5"/>
<polygon points="61.10,711.57 61.84,713.85 64.24,713.85 62.29,715.26 63.04,717.54 61.10,716.12 59.16,717.54 59.91,715.26 57.96,713.85 60.36,713.85" fill="#EDB120" stroke="#EDB120" stroke-width="0.5"/>
<polygon points="68.00,712.11 68.74,714.40 71.14,714.39 69.19,715.80 69.94,718.08 68.00,716.66 66.06,718.08 66.81,715.80 64.86,714.39 67.26,714.40" fill="#EDB120" stroke="#EDB120" stroke-width="0.5"/>
<polygon points="74.90,712.65 75.64,714.94 78.04,714.93 76.09,716.34 76.84,718.62 74.90,717.21 72.96,718.62 73.71,716.34 71.76,714.93 74.16,714.94" fill="#EDB120" stroke="#EDB120" stroke-width="0.5"/>
<polygon points="81.80,713.19 82.54,715.48 84.94,715.47 82.99,716.88 83.74,719.16 81.80,717.75 79.86,719.16 80.61,716.88 78.66,715.47 81.06,715.48" fill="#EDB120" stroke="#EDB120" stroke-width="0.5"/>
<polygon points="88.70,713.74 89.44,716.02 91.84,716.02 89.89,717.42 90.64,719.71 88.70,718.29 86.76,719.71 87.51,717.42 85.56,716.02 87.96,716.02" fill="#EDB120" stroke="#EDB120" stroke-width="0.5"/>
<polygon points="95.60,714.28 96.34,716.56 98.74,716.56 96.79,717.97 97.54,720.25 95.60,718.83 93.66,720.25 94.41,717.97 92.46,716.56 94.86,716.56" fill="#EDB120" stroke="#EDB120" stroke-width="0.5"/>
<polygon points="102.50,714.82 103.24,717.11 105.64,717.10 103.69,718.51 104.44,720.79 102.50,719.37 100.56,720.79 101.31,718.51 99.36,717.10 101.76,717.11" fill="#EDB120" stroke="#EDB120" stroke-width="0.5"/>
<polygon points="109.40,715.36 110.14,717.65 112.54,717.64 110.59,719.05 111.34,721.33 109.40,719.92 107.46,721.33 108.21,719.05 106.26,717.64 108.66,717.65" fill="#EDB120" stroke="#EDB120" stroke-width="0.5"/>
<polygon points="116.30,715.90 117.04,718.19 119.44,718.18 117.49,719.59 118.24,721.87 116.30,720.46 114.36,721.87 115.11,719.59 113.16,718.18 115.56,718.19" fill="#EDB120" stroke="#EDB120" stroke-width="0.5"/>
<polygon points="123.20,715.90 123.94,718.19 126.34,718.18 124.39,719.59 125.14,721.87 123.20,720.46 121.26,721.87 122.01,719.59 120.06,718.18 122.46,718.19" fill="#EDB120" stroke="#EDB120" stroke-width="0.5"/>
<polygon points="130.10,716.45 130.84,718.73 133.24,718.73 131.29,720.13 132.04,722.42 130.10,721.00 128.16,722.42 128.91,720.13 126.96,718.73 129.36,718.73" fill="#EDB120" stroke="#EDB120" stroke-width="0.5"/>
<polygon points="137.00,716.99 137.74,719.27 140.14,719.27 138.19,720.68 138.94,722.96 137.00,721.54 135.06,722.96 135.81,720.68 133.86,719.27 136.26,719.27" fill="#EDB120" stroke="#EDB120" stroke-width="0.5"/>
<polygon points="143.90,717.53 144.64,719.82 147.04,719.81 145.09,721.22 145.84,723.50 143.90,722.08 141.96,723.50 142.71,721.22 140.76,719.81 143.16,719.82" fill="#EDB120" stroke="#EDB120" stroke-width="0.5"/>
<polygon points="150.80,717.53 151.54,719.82 153.94,719.81 151.99,721.22 152.74,723.50 150.80,722.08 148.86,723.50 149.61,721.22 147.66,719.81 150.06,719.82" fill="#EDB120" stroke="#EDB120" stroke-width="0.5"/>
<polygon points="157.70,718.07 158.44,720.36 160.84,720.35 158.89,721.76 159.64,724.04 157.70,722.63 155.76,724.04 156.51,721.76 154.56,720.35 156.96,720.36" fill="#EDB120" stroke="#EDB120" stroke-width="0.5"/>
<polygon points="164.60,718.61 165.34,720.90 167.74,720.89 165.79,722.30 166.54,724.58 164.60,723.17 162.66,724.58 163.41,722.30 161.46,720.89 163.86,720.90" fill="#EDB120" stroke="#EDB120" stroke-width="0.5"/>
<polygon points="171.50,719.16 172.24,721.44 174.64,721.44 172.69,722.84 173.44,725.13 171.50,723.71 169.56,725.13 170.31,722.84 168.36,721.44 170.76,721.44" fill="#EDB120" stroke="#EDB120" stroke-width="0.5"/>
<polygon points="178.40,719.70 179.14,721.98 181.54,721.98 179.59,723.39 180.34,725.67 178.40,724.25 176.46,725.67 177.21,723.39 175.26,721.98 177.66,721.98" fill="#EDB120" stroke="#EDB120" stroke-width="0.5"/>
<polygon points="185.30,720.24 186.04,722.53 188.44,722.52 186.49,723.93 187.24,726.21 185.30,724.79 183.36,726.21 184.11,723.93 182.16,722.52 184.56,722.53" fill="#EDB120" stroke="#EDB120" stroke-width="0.5"/>
<polygon points="192.20,721.32 192.94,723.61 195.34,723.60 193.39,725.01 194.14,727.29 192.20,725.88 190.26,727.29 191.01,725.01 189.06,723.60 191.46,723.61" fill="#EDB120" stroke="#EDB120" stroke-width="0.5"/>
<polygon points="199.10,721.87 199.84,724.15 202.24,724.15 200.29,725.55 201.04,727.84 199.10,726.42 197.16,727.84 197.91,725.55 195.96,724.15 198.36,724.15" fill="#EDB120" stroke="#EDB120" stroke-width="0.5"/>
<polygon points="206.00,722.95 206.74,725.24 209.14,725.23 207.19,726.64 207.94,728.92 206.00,727.50 204.06,728.92 204.81,726.64 202.86,725.23 205.26,725.24" fill="#EDB120" stroke="#EDB120" stroke-width="0.5"/>
<polygon points="212.90,723.49 213.64,725.78 216.04,725.77 214.09,727.18 214.84,729.46 212.90,728.05 210.96,729.46 211.71,727.18 209.76,725.77 212.16,725.78" fill="#EDB120" stroke="#EDB120" stroke-width="0.5"/>
<polygon points="219.80,724.58 220.54,726.86 222.94,726.86 220.99,728.26 221.74,730.55 219.80,729.13 217.86,730.55 218.61,728.26 216.66,726.86 219.06,726.86" fill="#EDB120" stroke="#EDB120" stroke-width="0.5"/>
<polygon points="226.70,726.20 227.44,728.49 229.84,728.48 227.89,729.89 228.64,732.17 226.70,730.76 224.76,732.17 225.51,729.89 223.56,728.48 225.96,728.49" fill="#EDB120" stroke="#EDB120" stroke-width="0.5"/>
<polygon points="233.60,727.83 234.34,730.11 236.74,730.11 234.79,731.52 235.54,733.80 233.60,732.38 231.66,733.80 232.41,731.52 230.46,730.11 232.86,730.11" fill="#EDB120" stroke="#EDB120" stroke-width="0.5"/>
<polygon points="240.50,729.45 241.24,731.74 243.64,731.73 241.69,733.14 242.44,735.42 240.50,734.01 238.56,735.42 239.31,733.14 237.36,731.73 239.76,731.74" fill="#EDB120" stroke="#EDB120" stroke-width="0.5"/>
<polyline points="40.40,699.15 47.30,723.54 54.20,736.55 61.10,745.22 68.00,750.64 74.90,754.43 81.80,757.69 88.70,759.85 95.60,762.56 102.50,764.73 109.40,766.36 116.30,767.98 123.20,769.61 130.10,771.24 137.00,772.86 143.90,773.40 150.80,775.03 157.70,776.66 164.60,777.74 171.50,778.82 178.40,780.45 185.30,781.53 192.20,783.16 199.10,784.24 206.00,785.87 212.90,786.95 219.80,788.58 226.70,789.66 233.60,790.75 240.50,792.92" fill="none" stroke="#7E2F8E" stroke-width="1.5" stroke-linejoin="round"/>
<circle cx="40.40" cy="699.15" r="2.15" fill="#7E2F8E"/>
<circle cx="47.30" cy="723.54" r="2.15" fill="#7E2F8E"/>
<circle cx="54.20" cy="736.55" r="2.15" fill="#7E2F8E"/>
<circle cx="61.10" cy="745.22" r="2.15" fill="#7E2F8E"/>
<circle cx="68.00" cy="750.64" r="2.15" fill="#7E2F8E"/>
<circle cx="74.90" cy="754.43" r="2.15" fill="#7E2F8E"/>
<circle cx="81.80" cy="757.69" r="2.15" fill="#7E2F8E"/>
<circle cx="88.70" cy="759.85" r="2.15" fill="#7E2F8E"/>
<circle cx="95.60" cy="762.56" r="2.15" fill="#7E2F8E"/>
<circle cx="102.50" cy="764.73" r="2.15" fill="#7E2F8E"/>
<circle cx="109.40" cy="766.36" r="2.15" fill="#7E2F8E"/>
<circle cx="116.30" cy="767.98" r="2.15" fill="#7E2F8E"/>
<circle cx="123.20" cy="769.61" r="2.15" fill="#7E2F8E"/>
<circle cx="130.10" cy="771.24" r="2.15" fill="#7E2F8E"/>
<circle cx="137.00" cy="772.86" r="2.15" fill="#7E2F8E"/>
<circle cx="143.90" cy="773.40" r="2.15" fill="#7E2F8E"/>
<circle cx="150.80" cy="775.03" r="2.15" fill="#7E2F8E"/>
<circle cx="157.70" cy="776.66" r="2.15" fill="#7E2F8E"/>
<circle cx="164.60" cy="777.74" r="2.15" fill="#7E2F8E"/>
<circle cx="171.50" cy="778.82" r="2.15" fill="#7E2F8E"/>
<circle cx="178.40" cy="780.45" r="2.15" fill="#7E2F8E"/>
<circle cx="185.30" cy="781.53" r="2.15" fill="#7E2F8E"/>
<circle cx="192.20" cy="783.16" r="2.15" fill="#7E2F8E"/>
<circle cx="199.10" cy="784.24" r="2.15" fill="#7E2F8E"/>
<circle cx="206.00" cy="785.87" r="2.15" fill="#7E2F8E"/>
<circle cx="212.90" cy="786.95" r="2.15" fill="#7E2F8E"/>
<circle cx="219.80" cy="788.58" r="2.15" fill="#7E2F8E"/>
<circle cx="226.70" cy="789.66" r="2.15" fill="#7E2F8E"/>
<circle cx="233.60" cy="790.75" r="2.15" fill="#7E2F8E"/>
<circle cx="240.50" cy="792.92" r="2.15" fill="#7E2F8E"/>
<rect x="194.40" y="691.50" width="40.3" height="33.0" fill="#fff" stroke="#9c9c9c" stroke-width="0.9"/>
<line x1="196.40" y1="696.40" x2="210.70" y2="696.40" stroke="#0072BD" stroke-width="1.1"/>
<polygon points="203.50,693.80 205.50,696.40 203.50,699.00 201.50,696.40" fill="none" stroke="#0072BD" stroke-width="1.5"/>
<text x="212.00" y="698.70" class="lg">NMPBB</text>
<line x1="196.40" y1="704.20" x2="210.70" y2="704.20" stroke="#D95319" stroke-width="1.1"/>
<circle cx="203.50" cy="704.20" r="1.95" fill="none" stroke="#D95319" stroke-width="1.15"/>
<text x="212.00" y="706.50" class="lg">QRPBB</text>
<line x1="196.40" y1="712.00" x2="210.70" y2="712.00" stroke="#EDB120" stroke-width="1.1"/>
<polygon points="203.50,708.70 204.24,710.99 206.64,710.98 204.69,712.39 205.44,714.67 203.50,713.25 201.56,714.67 202.31,712.39 200.36,710.98 202.76,710.99" fill="#EDB120" stroke="#EDB120" stroke-width="0.5"/>
<text x="212.00" y="714.30" class="lg">BCD</text>
<line x1="196.40" y1="719.80" x2="210.70" y2="719.80" stroke="#7E2F8E" stroke-width="1.1"/>
<circle cx="203.50" cy="719.80" r="2.15" fill="#7E2F8E"/>
<text x="212.00" y="722.10" class="lg">HALS</text>
<text x="130.80" y="878.80" class="cap" text-anchor="middle"><tspan font-weight="bold">(g)</tspan> (m n r) = (10,000 5000 70)</text>
<rect x="332.4" y="685.6" width="206.60" height="162.60" fill="#fff" stroke="#9c9c9c" stroke-width="1.3"/>
<line x1="332.40" y1="848.2" x2="332.40" y2="846.2" stroke="#707070" stroke-width="0.9"/>
<line x1="332.40" y1="685.6" x2="332.40" y2="687.6" stroke="#707070" stroke-width="0.9"/>
<text x="332.40" y="857.90" class="tk" text-anchor="middle">0</text>
<line x1="366.83" y1="848.2" x2="366.83" y2="846.2" stroke="#707070" stroke-width="0.9"/>
<line x1="366.83" y1="685.6" x2="366.83" y2="687.6" stroke="#707070" stroke-width="0.9"/>
<text x="366.83" y="857.90" class="tk" text-anchor="middle">5</text>
<line x1="401.27" y1="848.2" x2="401.27" y2="846.2" stroke="#707070" stroke-width="0.9"/>
<line x1="401.27" y1="685.6" x2="401.27" y2="687.6" stroke="#707070" stroke-width="0.9"/>
<text x="401.27" y="857.90" class="tk" text-anchor="middle">10</text>
<line x1="435.70" y1="848.2" x2="435.70" y2="846.2" stroke="#707070" stroke-width="0.9"/>
<line x1="435.70" y1="685.6" x2="435.70" y2="687.6" stroke="#707070" stroke-width="0.9"/>
<text x="435.70" y="857.90" class="tk" text-anchor="middle">15</text>
<line x1="470.13" y1="848.2" x2="470.13" y2="846.2" stroke="#707070" stroke-width="0.9"/>
<line x1="470.13" y1="685.6" x2="470.13" y2="687.6" stroke="#707070" stroke-width="0.9"/>
<text x="470.13" y="857.90" class="tk" text-anchor="middle">20</text>
<line x1="504.57" y1="848.2" x2="504.57" y2="846.2" stroke="#707070" stroke-width="0.9"/>
<line x1="504.57" y1="685.6" x2="504.57" y2="687.6" stroke="#707070" stroke-width="0.9"/>
<text x="504.57" y="857.90" class="tk" text-anchor="middle">25</text>
<line x1="539.00" y1="848.2" x2="539.00" y2="846.2" stroke="#707070" stroke-width="0.9"/>
<line x1="539.00" y1="685.6" x2="539.00" y2="687.6" stroke="#707070" stroke-width="0.9"/>
<text x="539.00" y="857.90" class="tk" text-anchor="middle">30</text>
<line x1="332.4" y1="848.20" x2="334.4" y2="848.20" stroke="#707070" stroke-width="0.9"/>
<line x1="539.0" y1="848.20" x2="537.0" y2="848.20" stroke="#707070" stroke-width="0.9"/>
<text x="329.90" y="851.10" class="tk" text-anchor="end">0</text>
<line x1="332.4" y1="821.10" x2="334.4" y2="821.10" stroke="#707070" stroke-width="0.9"/>
<line x1="539.0" y1="821.10" x2="537.0" y2="821.10" stroke="#707070" stroke-width="0.9"/>
<text x="329.90" y="824.00" class="tk" text-anchor="end">0.05</text>
<line x1="332.4" y1="794.00" x2="334.4" y2="794.00" stroke="#707070" stroke-width="0.9"/>
<line x1="539.0" y1="794.00" x2="537.0" y2="794.00" stroke="#707070" stroke-width="0.9"/>
<text x="329.90" y="796.90" class="tk" text-anchor="end">0.1</text>
<line x1="332.4" y1="766.90" x2="334.4" y2="766.90" stroke="#707070" stroke-width="0.9"/>
<line x1="539.0" y1="766.90" x2="537.0" y2="766.90" stroke="#707070" stroke-width="0.9"/>
<text x="329.90" y="769.80" class="tk" text-anchor="end">0.15</text>
<line x1="332.4" y1="739.80" x2="334.4" y2="739.80" stroke="#707070" stroke-width="0.9"/>
<line x1="539.0" y1="739.80" x2="537.0" y2="739.80" stroke="#707070" stroke-width="0.9"/>
<text x="329.90" y="742.70" class="tk" text-anchor="end">0.2</text>
<line x1="332.4" y1="712.70" x2="334.4" y2="712.70" stroke="#707070" stroke-width="0.9"/>
<line x1="539.0" y1="712.70" x2="537.0" y2="712.70" stroke="#707070" stroke-width="0.9"/>
<text x="329.90" y="715.60" class="tk" text-anchor="end">0.25</text>
<line x1="332.4" y1="685.60" x2="334.4" y2="685.60" stroke="#707070" stroke-width="0.9"/>
<line x1="539.0" y1="685.60" x2="537.0" y2="685.60" stroke="#707070" stroke-width="0.9"/>
<text x="329.90" y="688.50" class="tk" text-anchor="end">0.3</text>
<text x="435.70" y="682.30" class="tt" text-anchor="middle">Relative residual</text>
<text x="435.70" y="867.80" class="tk" text-anchor="middle">iteration</text>
<text transform="translate(311.10,766.90) rotate(-90)" class="yl" text-anchor="middle">||WH - V||<tspan class="sub" dy="3.0">F</tspan><tspan dy="-3.0">/||V||</tspan><tspan class="sub" dy="3.0">F</tspan></text>
<polyline points="339.29,719.20 346.17,764.19 353.06,775.03 359.95,784.24 366.83,788.58 373.72,796.17 380.61,802.13 387.49,810.80 394.38,816.22 401.27,820.56 408.15,823.81 415.04,825.44 421.93,827.60 428.81,829.23 435.70,829.77 442.59,829.77 449.47,829.77 456.36,831.40 463.25,833.57 470.13,834.65 477.02,834.65 483.91,834.65 490.79,834.65 497.68,834.65 504.57,834.65 511.45,834.65 518.34,834.65 525.23,834.65 532.11,834.65 539.00,834.65" fill="none" stroke="#0072BD" stroke-width="1.5" stroke-linejoin="round"/>
<polygon points="339.29,716.60 341.29,719.20 339.29,721.80 337.29,719.20" fill="none" stroke="#0072BD" stroke-width="1.5"/>
<polygon points="346.17,761.59 348.17,764.19 346.17,766.79 344.17,764.19" fill="none" stroke="#0072BD" stroke-width="1.5"/>
<polygon points="353.06,772.43 355.06,775.03 353.06,777.63 351.06,775.03" fill="none" stroke="#0072BD" stroke-width="1.5"/>
<polygon points="359.95,781.64 361.95,784.24 359.95,786.84 357.95,784.24" fill="none" stroke="#0072BD" stroke-width="1.5"/>
<polygon points="366.83,785.98 368.83,788.58 366.83,791.18 364.83,788.58" fill="none" stroke="#0072BD" stroke-width="1.5"/>
<polygon points="373.72,793.57 375.72,796.17 373.72,798.77 371.72,796.17" fill="none" stroke="#0072BD" stroke-width="1.5"/>
<polygon points="380.61,799.53 382.61,802.13 380.61,804.73 378.61,802.13" fill="none" stroke="#0072BD" stroke-width="1.5"/>
<polygon points="387.49,808.20 389.49,810.80 387.49,813.40 385.49,810.80" fill="none" stroke="#0072BD" stroke-width="1.5"/>
<polygon points="394.38,813.62 396.38,816.22 394.38,818.82 392.38,816.22" fill="none" stroke="#0072BD" stroke-width="1.5"/>
<polygon points="401.27,817.96 403.27,820.56 401.27,823.16 399.27,820.56" fill="none" stroke="#0072BD" stroke-width="1.5"/>
<polygon points="408.15,821.21 410.15,823.81 408.15,826.41 406.15,823.81" fill="none" stroke="#0072BD" stroke-width="1.5"/>
<polygon points="415.04,822.84 417.04,825.44 415.04,828.04 413.04,825.44" fill="none" stroke="#0072BD" stroke-width="1.5"/>
<polygon points="421.93,825.00 423.93,827.60 421.93,830.20 419.93,827.60" fill="none" stroke="#0072BD" stroke-width="1.5"/>
<polygon points="428.81,826.63 430.81,829.23 428.81,831.83 426.81,829.23" fill="none" stroke="#0072BD" stroke-width="1.5"/>
<polygon points="435.70,827.17 437.70,829.77 435.70,832.37 433.70,829.77" fill="none" stroke="#0072BD" stroke-width="1.5"/>
<polygon points="442.59,827.17 444.59,829.77 442.59,832.37 440.59,829.77" fill="none" stroke="#0072BD" stroke-width="1.5"/>
<polygon points="449.47,827.17 451.47,829.77 449.47,832.37 447.47,829.77" fill="none" stroke="#0072BD" stroke-width="1.5"/>
<polygon points="456.36,828.80 458.36,831.40 456.36,834.00 454.36,831.40" fill="none" stroke="#0072BD" stroke-width="1.5"/>
<polygon points="463.25,830.97 465.25,833.57 463.25,836.17 461.25,833.57" fill="none" stroke="#0072BD" stroke-width="1.5"/>
<polygon points="470.13,832.05 472.13,834.65 470.13,837.25 468.13,834.65" fill="none" stroke="#0072BD" stroke-width="1.5"/>
<polygon points="477.02,832.05 479.02,834.65 477.02,837.25 475.02,834.65" fill="none" stroke="#0072BD" stroke-width="1.5"/>
<polygon points="483.91,832.05 485.91,834.65 483.91,837.25 481.91,834.65" fill="none" stroke="#0072BD" stroke-width="1.5"/>
<polygon points="490.79,832.05 492.79,834.65 490.79,837.25 488.79,834.65" fill="none" stroke="#0072BD" stroke-width="1.5"/>
<polygon points="497.68,832.05 499.68,834.65 497.68,837.25 495.68,834.65" fill="none" stroke="#0072BD" stroke-width="1.5"/>
<polygon points="504.57,832.05 506.57,834.65 504.57,837.25 502.57,834.65" fill="none" stroke="#0072BD" stroke-width="1.5"/>
<polygon points="511.45,832.05 513.45,834.65 511.45,837.25 509.45,834.65" fill="none" stroke="#0072BD" stroke-width="1.5"/>
<polygon points="518.34,832.05 520.34,834.65 518.34,837.25 516.34,834.65" fill="none" stroke="#0072BD" stroke-width="1.5"/>
<polygon points="525.23,832.05 527.23,834.65 525.23,837.25 523.23,834.65" fill="none" stroke="#0072BD" stroke-width="1.5"/>
<polygon points="532.11,832.05 534.11,834.65 532.11,837.25 530.11,834.65" fill="none" stroke="#0072BD" stroke-width="1.5"/>
<polygon points="539.00,832.05 541.00,834.65 539.00,837.25 537.00,834.65" fill="none" stroke="#0072BD" stroke-width="1.5"/>
<polyline points="339.29,749.01 346.17,768.53 353.06,775.03 359.95,778.82 366.83,780.45 373.72,782.62 380.61,783.70 387.49,784.79 394.38,785.87 401.27,787.50 408.15,789.66 415.04,791.29 421.93,793.46 428.81,795.63 435.70,797.79 442.59,799.96 449.47,802.67 456.36,805.38 463.25,809.18 470.13,811.89 477.02,813.51 483.91,816.76 490.79,818.39 497.68,820.02 504.57,821.10 511.45,822.73 518.34,823.81 525.23,824.35 532.11,824.89 539.00,825.98" fill="none" stroke="#D95319" stroke-width="1.5" stroke-linejoin="round"/>
<circle cx="339.29" cy="749.01" r="1.95" fill="none" stroke="#D95319" stroke-width="1.15"/>
<circle cx="346.17" cy="768.53" r="1.95" fill="none" stroke="#D95319" stroke-width="1.15"/>
<circle cx="353.06" cy="775.03" r="1.95" fill="none" stroke="#D95319" stroke-width="1.15"/>
<circle cx="359.95" cy="778.82" r="1.95" fill="none" stroke="#D95319" stroke-width="1.15"/>
<circle cx="366.83" cy="780.45" r="1.95" fill="none" stroke="#D95319" stroke-width="1.15"/>
<circle cx="373.72" cy="782.62" r="1.95" fill="none" stroke="#D95319" stroke-width="1.15"/>
<circle cx="380.61" cy="783.70" r="1.95" fill="none" stroke="#D95319" stroke-width="1.15"/>
<circle cx="387.49" cy="784.79" r="1.95" fill="none" stroke="#D95319" stroke-width="1.15"/>
<circle cx="394.38" cy="785.87" r="1.95" fill="none" stroke="#D95319" stroke-width="1.15"/>
<circle cx="401.27" cy="787.50" r="1.95" fill="none" stroke="#D95319" stroke-width="1.15"/>
<circle cx="408.15" cy="789.66" r="1.95" fill="none" stroke="#D95319" stroke-width="1.15"/>
<circle cx="415.04" cy="791.29" r="1.95" fill="none" stroke="#D95319" stroke-width="1.15"/>
<circle cx="421.93" cy="793.46" r="1.95" fill="none" stroke="#D95319" stroke-width="1.15"/>
<circle cx="428.81" cy="795.63" r="1.95" fill="none" stroke="#D95319" stroke-width="1.15"/>
<circle cx="435.70" cy="797.79" r="1.95" fill="none" stroke="#D95319" stroke-width="1.15"/>
<circle cx="442.59" cy="799.96" r="1.95" fill="none" stroke="#D95319" stroke-width="1.15"/>
<circle cx="449.47" cy="802.67" r="1.95" fill="none" stroke="#D95319" stroke-width="1.15"/>
<circle cx="456.36" cy="805.38" r="1.95" fill="none" stroke="#D95319" stroke-width="1.15"/>
<circle cx="463.25" cy="809.18" r="1.95" fill="none" stroke="#D95319" stroke-width="1.15"/>
<circle cx="470.13" cy="811.89" r="1.95" fill="none" stroke="#D95319" stroke-width="1.15"/>
<circle cx="477.02" cy="813.51" r="1.95" fill="none" stroke="#D95319" stroke-width="1.15"/>
<circle cx="483.91" cy="816.76" r="1.95" fill="none" stroke="#D95319" stroke-width="1.15"/>
<circle cx="490.79" cy="818.39" r="1.95" fill="none" stroke="#D95319" stroke-width="1.15"/>
<circle cx="497.68" cy="820.02" r="1.95" fill="none" stroke="#D95319" stroke-width="1.15"/>
<circle cx="504.57" cy="821.10" r="1.95" fill="none" stroke="#D95319" stroke-width="1.15"/>
<circle cx="511.45" cy="822.73" r="1.95" fill="none" stroke="#D95319" stroke-width="1.15"/>
<circle cx="518.34" cy="823.81" r="1.95" fill="none" stroke="#D95319" stroke-width="1.15"/>
<circle cx="525.23" cy="824.35" r="1.95" fill="none" stroke="#D95319" stroke-width="1.15"/>
<circle cx="532.11" cy="824.89" r="1.95" fill="none" stroke="#D95319" stroke-width="1.15"/>
<circle cx="539.00" cy="825.98" r="1.95" fill="none" stroke="#D95319" stroke-width="1.15"/>
<polyline points="339.29,715.41 346.17,719.75 353.06,720.83 359.95,721.91 366.83,722.46 373.72,723.00 380.61,723.54 387.49,724.08 394.38,724.62 401.27,724.62 408.15,725.17 415.04,725.17 421.93,725.71 428.81,726.25 435.70,726.25 442.59,726.79 449.47,726.79 456.36,727.33 463.25,727.88 470.13,727.88 477.02,728.42 483.91,728.42 490.79,728.96 497.68,729.50 504.57,729.50 511.45,730.04 518.34,730.59 525.23,731.13 532.11,732.21 539.00,733.30" fill="none" stroke="#EDB120" stroke-width="1.5" stroke-linejoin="round"/>
<polygon points="339.29,712.11 340.02,714.40 342.43,714.39 340.48,715.80 341.23,718.08 339.29,716.66 337.35,718.08 338.09,715.80 336.15,714.39 338.55,714.40" fill="#EDB120" stroke="#EDB120" stroke-width="0.5"/>
<polygon points="346.17,716.45 346.91,718.73 349.31,718.73 347.37,720.13 348.11,722.42 346.17,721.00 344.23,722.42 344.98,720.13 343.03,718.73 345.44,718.73" fill="#EDB120" stroke="#EDB120" stroke-width="0.5"/>
<polygon points="353.06,717.53 353.80,719.82 356.20,719.81 354.25,721.22 355.00,723.50 353.06,722.08 351.12,723.50 351.87,721.22 349.92,719.81 352.32,719.82" fill="#EDB120" stroke="#EDB120" stroke-width="0.5"/>
<polygon points="359.95,718.61 360.68,720.90 363.09,720.89 361.14,722.30 361.89,724.58 359.95,723.17 358.01,724.58 358.75,722.30 356.81,720.89 359.21,720.90" fill="#EDB120" stroke="#EDB120" stroke-width="0.5"/>
<polygon points="366.83,719.16 367.57,721.44 369.97,721.44 368.03,722.84 368.77,725.13 366.83,723.71 364.89,725.13 365.64,722.84 363.69,721.44 366.10,721.44" fill="#EDB120" stroke="#EDB120" stroke-width="0.5"/>
<polygon points="373.72,719.70 374.46,721.98 376.86,721.98 374.91,723.39 375.66,725.67 373.72,724.25 371.78,725.67 372.53,723.39 370.58,721.98 372.98,721.98" fill="#EDB120" stroke="#EDB120" stroke-width="0.5"/>
<polygon points="380.61,720.24 381.34,722.53 383.75,722.52 381.80,723.93 382.55,726.21 380.61,724.79 378.67,726.21 379.41,723.93 377.47,722.52 379.87,722.53" fill="#EDB120" stroke="#EDB120" stroke-width="0.5"/>
<polygon points="387.49,720.78 388.23,723.07 390.63,723.06 388.69,724.47 389.43,726.75 387.49,725.34 385.55,726.75 386.30,724.47 384.35,723.06 386.76,723.07" fill="#EDB120" stroke="#EDB120" stroke-width="0.5"/>
<polygon points="394.38,721.32 395.12,723.61 397.52,723.60 395.57,725.01 396.32,727.29 394.38,725.88 392.44,727.29 393.19,725.01 391.24,723.60 393.64,723.61" fill="#EDB120" stroke="#EDB120" stroke-width="0.5"/>
<polygon points="401.27,721.32 402.00,723.61 404.41,723.60 402.46,725.01 403.21,727.29 401.27,725.88 399.33,727.29 400.07,725.01 398.13,723.60 400.53,723.61" fill="#EDB120" stroke="#EDB120" stroke-width="0.5"/>
<polygon points="408.15,721.87 408.89,724.15 411.29,724.15 409.35,725.55 410.09,727.84 408.15,726.42 406.21,727.84 406.96,725.55 405.01,724.15 407.42,724.15" fill="#EDB120" stroke="#EDB120" stroke-width="0.5"/>
<polygon points="415.04,721.87 415.78,724.15 418.18,724.15 416.23,725.55 416.98,727.84 415.04,726.42 413.10,727.84 413.85,725.55 411.90,724.15 414.30,724.15" fill="#EDB120" stroke="#EDB120" stroke-width="0.5"/>
<polygon points="421.93,722.41 422.66,724.69 425.07,724.69 423.12,726.10 423.87,728.38 421.93,726.96 419.99,728.38 420.73,726.10 418.79,724.69 421.19,724.69" fill="#EDB120" stroke="#EDB120" stroke-width="0.5"/>
<polygon points="428.81,722.95 429.55,725.24 431.95,725.23 430.01,726.64 430.75,728.92 428.81,727.50 426.87,728.92 427.62,726.64 425.67,725.23 428.08,725.24" fill="#EDB120" stroke="#EDB120" stroke-width="0.5"/>
<polygon points="435.70,722.95 436.44,725.24 438.84,725.23 436.89,726.64 437.64,728.92 435.70,727.50 433.76,728.92 434.51,726.64 432.56,725.23 434.96,725.24" fill="#EDB120" stroke="#EDB120" stroke-width="0.5"/>
<polygon points="442.59,723.49 443.32,725.78 445.73,725.77 443.78,727.18 444.53,729.46 442.59,728.05 440.65,729.46 441.39,727.18 439.45,725.77 441.85,725.78" fill="#EDB120" stroke="#EDB120" stroke-width="0.5"/>
<polygon points="449.47,723.49 450.21,725.78 452.61,725.77 450.67,727.18 451.41,729.46 449.47,728.05 447.53,729.46 448.28,727.18 446.33,725.77 448.74,725.78" fill="#EDB120" stroke="#EDB120" stroke-width="0.5"/>
<polygon points="456.36,724.03 457.10,726.32 459.50,726.31 457.55,727.72 458.30,730.00 456.36,728.59 454.42,730.00 455.17,727.72 453.22,726.31 455.62,726.32" fill="#EDB120" stroke="#EDB120" stroke-width="0.5"/>
<polygon points="463.25,724.58 463.98,726.86 466.39,726.86 464.44,728.26 465.19,730.55 463.25,729.13 461.31,730.55 462.05,728.26 460.11,726.86 462.51,726.86" fill="#EDB120" stroke="#EDB120" stroke-width="0.5"/>
<polygon points="470.13,724.58 470.87,726.86 473.27,726.86 471.33,728.26 472.07,730.55 470.13,729.13 468.19,730.55 468.94,728.26 466.99,726.86 469.40,726.86" fill="#EDB120" stroke="#EDB120" stroke-width="0.5"/>
<polygon points="477.02,725.12 477.76,727.40 480.16,727.40 478.21,728.81 478.96,731.09 477.02,729.67 475.08,731.09 475.83,728.81 473.88,727.40 476.28,727.40" fill="#EDB120" stroke="#EDB120" stroke-width="0.5"/>
<polygon points="483.91,725.12 484.64,727.40 487.05,727.40 485.10,728.81 485.85,731.09 483.91,729.67 481.97,731.09 482.71,728.81 480.77,727.40 483.17,727.40" fill="#EDB120" stroke="#EDB120" stroke-width="0.5"/>
<polygon points="490.79,725.66 491.53,727.95 493.93,727.94 491.99,729.35 492.73,731.63 490.79,730.21 488.85,731.63 489.60,729.35 487.65,727.94 490.06,727.95" fill="#EDB120" stroke="#EDB120" stroke-width="0.5"/>
<polygon points="497.68,726.20 498.42,728.49 500.82,728.48 498.87,729.89 499.62,732.17 497.68,730.76 495.74,732.17 496.49,729.89 494.54,728.48 496.94,728.49" fill="#EDB120" stroke="#EDB120" stroke-width="0.5"/>
<polygon points="504.57,726.20 505.30,728.49 507.71,728.48 505.76,729.89 506.51,732.17 504.57,730.76 502.63,732.17 503.37,729.89 501.43,728.48 503.83,728.49" fill="#EDB120" stroke="#EDB120" stroke-width="0.5"/>
<polygon points="511.45,726.74 512.19,729.03 514.59,729.02 512.65,730.43 513.39,732.71 511.45,731.30 509.51,732.71 510.26,730.43 508.31,729.02 510.72,729.03" fill="#EDB120" stroke="#EDB120" stroke-width="0.5"/>
<polygon points="518.34,727.29 519.08,729.57 521.48,729.57 519.53,730.97 520.28,733.26 518.34,731.84 516.40,733.26 517.15,730.97 515.20,729.57 517.60,729.57" fill="#EDB120" stroke="#EDB120" stroke-width="0.5"/>
<polygon points="525.23,727.83 525.96,730.11 528.37,730.11 526.42,731.52 527.17,733.80 525.23,732.38 523.29,733.80 524.03,731.52 522.09,730.11 524.49,730.11" fill="#EDB120" stroke="#EDB120" stroke-width="0.5"/>
<polygon points="532.11,728.91 532.85,731.20 535.25,731.19 533.31,732.60 534.05,734.88 532.11,733.47 530.17,734.88 530.92,732.60 528.97,731.19 531.38,731.20" fill="#EDB120" stroke="#EDB120" stroke-width="0.5"/>
<polygon points="539.00,730.00 539.74,732.28 542.14,732.28 540.19,733.68 540.94,735.97 539.00,734.55 537.06,735.97 537.81,733.68 535.86,732.28 538.26,732.28" fill="#EDB120" stroke="#EDB120" stroke-width="0.5"/>
<polyline points="339.29,705.11 346.17,727.33 353.06,739.80 359.95,747.93 366.83,753.35 373.72,757.14 380.61,760.40 387.49,762.56 394.38,764.73 401.27,766.90 408.15,768.53 415.04,770.15 421.93,771.24 428.81,772.86 435.70,773.40 442.59,774.49 449.47,776.11 456.36,777.20 463.25,778.82 470.13,779.37 477.02,780.45 483.91,782.08 490.79,783.16 497.68,784.24 504.57,785.87 511.45,786.95 518.34,788.58 525.23,789.66 532.11,791.83 539.00,794.00" fill="none" stroke="#7E2F8E" stroke-width="1.5" stroke-linejoin="round"/>
<circle cx="339.29" cy="705.11" r="2.15" fill="#7E2F8E"/>
<circle cx="346.17" cy="727.33" r="2.15" fill="#7E2F8E"/>
<circle cx="353.06" cy="739.80" r="2.15" fill="#7E2F8E"/>
<circle cx="359.95" cy="747.93" r="2.15" fill="#7E2F8E"/>
<circle cx="366.83" cy="753.35" r="2.15" fill="#7E2F8E"/>
<circle cx="373.72" cy="757.14" r="2.15" fill="#7E2F8E"/>
<circle cx="380.61" cy="760.40" r="2.15" fill="#7E2F8E"/>
<circle cx="387.49" cy="762.56" r="2.15" fill="#7E2F8E"/>
<circle cx="394.38" cy="764.73" r="2.15" fill="#7E2F8E"/>
<circle cx="401.27" cy="766.90" r="2.15" fill="#7E2F8E"/>
<circle cx="408.15" cy="768.53" r="2.15" fill="#7E2F8E"/>
<circle cx="415.04" cy="770.15" r="2.15" fill="#7E2F8E"/>
<circle cx="421.93" cy="771.24" r="2.15" fill="#7E2F8E"/>
<circle cx="428.81" cy="772.86" r="2.15" fill="#7E2F8E"/>
<circle cx="435.70" cy="773.40" r="2.15" fill="#7E2F8E"/>
<circle cx="442.59" cy="774.49" r="2.15" fill="#7E2F8E"/>
<circle cx="449.47" cy="776.11" r="2.15" fill="#7E2F8E"/>
<circle cx="456.36" cy="777.20" r="2.15" fill="#7E2F8E"/>
<circle cx="463.25" cy="778.82" r="2.15" fill="#7E2F8E"/>
<circle cx="470.13" cy="779.37" r="2.15" fill="#7E2F8E"/>
<circle cx="477.02" cy="780.45" r="2.15" fill="#7E2F8E"/>
<circle cx="483.91" cy="782.08" r="2.15" fill="#7E2F8E"/>
<circle cx="490.79" cy="783.16" r="2.15" fill="#7E2F8E"/>
<circle cx="497.68" cy="784.24" r="2.15" fill="#7E2F8E"/>
<circle cx="504.57" cy="785.87" r="2.15" fill="#7E2F8E"/>
<circle cx="511.45" cy="786.95" r="2.15" fill="#7E2F8E"/>
<circle cx="518.34" cy="788.58" r="2.15" fill="#7E2F8E"/>
<circle cx="525.23" cy="789.66" r="2.15" fill="#7E2F8E"/>
<circle cx="532.11" cy="791.83" r="2.15" fill="#7E2F8E"/>
<circle cx="539.00" cy="794.00" r="2.15" fill="#7E2F8E"/>
<rect x="492.90" y="691.50" width="40.3" height="33.0" fill="#fff" stroke="#9c9c9c" stroke-width="0.9"/>
<line x1="494.90" y1="696.40" x2="509.20" y2="696.40" stroke="#0072BD" stroke-width="1.1"/>
<polygon points="502.00,693.80 504.00,696.40 502.00,699.00 500.00,696.40" fill="none" stroke="#0072BD" stroke-width="1.5"/>
<text x="510.50" y="698.70" class="lg">NMPBB</text>
<line x1="494.90" y1="704.20" x2="509.20" y2="704.20" stroke="#D95319" stroke-width="1.1"/>
<circle cx="502.00" cy="704.20" r="1.95" fill="none" stroke="#D95319" stroke-width="1.15"/>
<text x="510.50" y="706.50" class="lg">QRPBB</text>
<line x1="494.90" y1="712.00" x2="509.20" y2="712.00" stroke="#EDB120" stroke-width="1.1"/>
<polygon points="502.00,708.70 502.74,710.99 505.14,710.98 503.19,712.39 503.94,714.67 502.00,713.25 500.06,714.67 500.81,712.39 498.86,710.98 501.26,710.99" fill="#EDB120" stroke="#EDB120" stroke-width="0.5"/>
<text x="510.50" y="714.30" class="lg">BCD</text>
<line x1="494.90" y1="719.80" x2="509.20" y2="719.80" stroke="#7E2F8E" stroke-width="1.1"/>
<circle cx="502.00" cy="719.80" r="2.15" fill="#7E2F8E"/>
<text x="510.50" y="722.10" class="lg">HALS</text>
<text x="429.50" y="878.80" class="cap" text-anchor="middle"><tspan font-weight="bold">(h)</tspan> (m n r) = (30,000 10,000 80)</text>
</svg>
</body></html>
